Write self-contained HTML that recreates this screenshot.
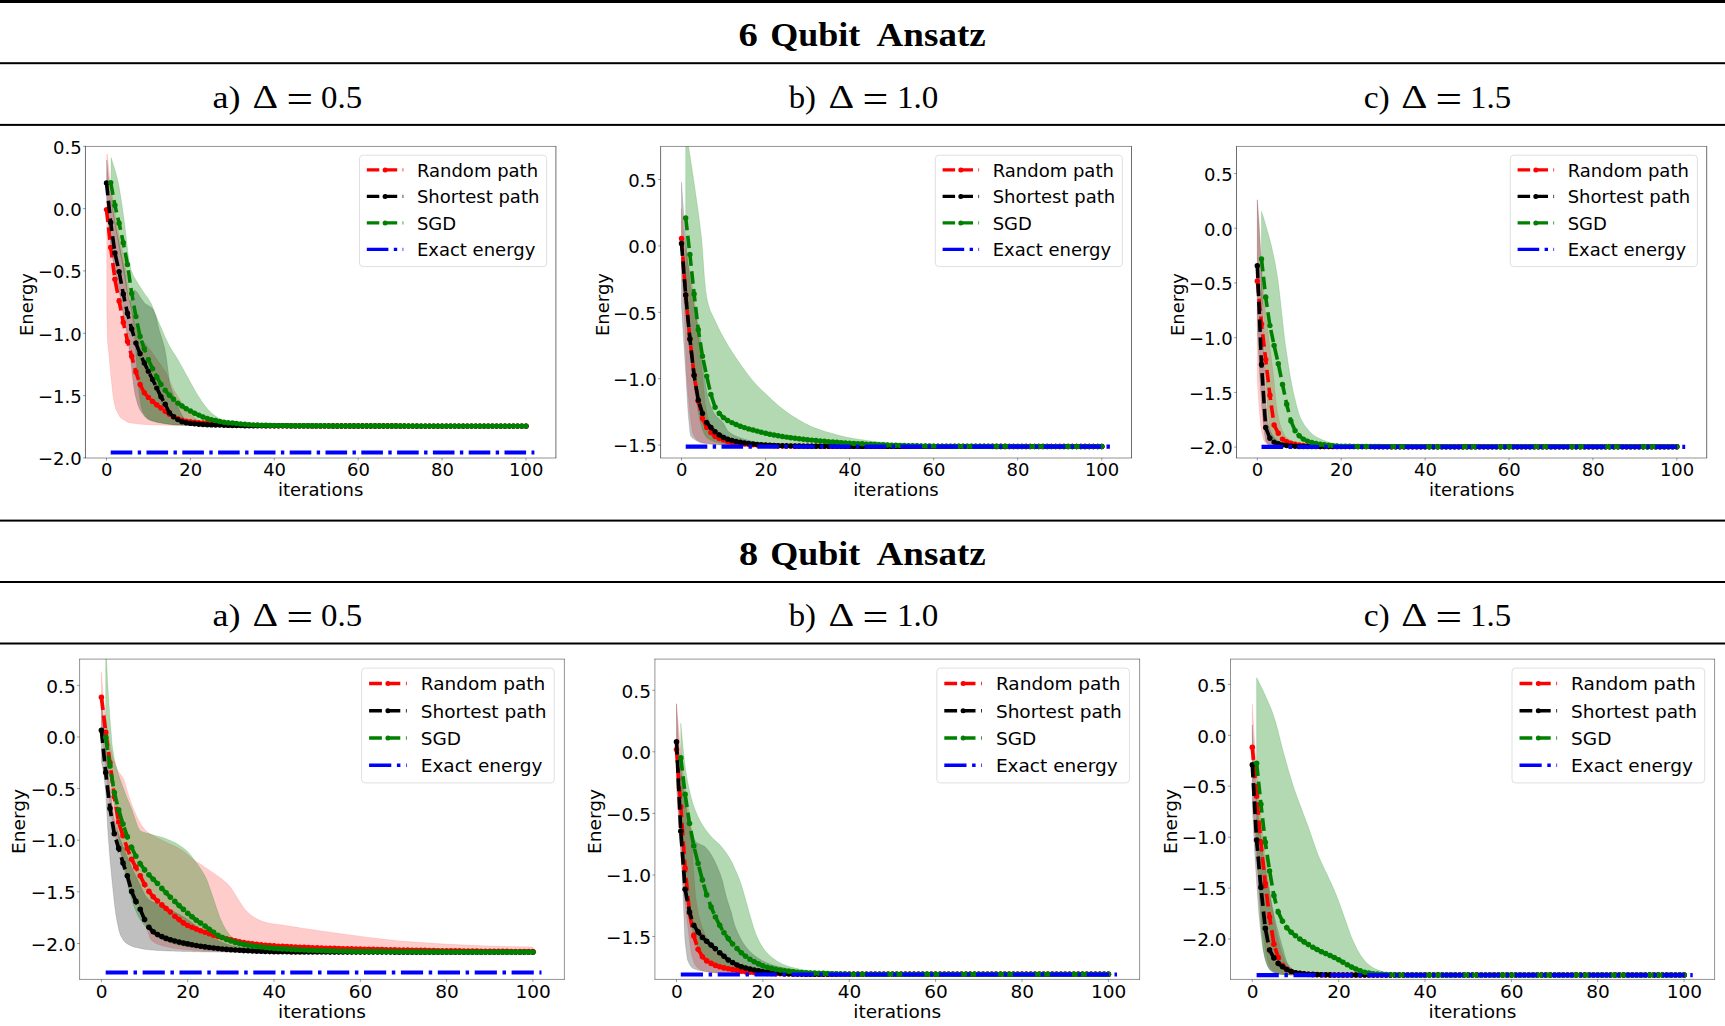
<!DOCTYPE html><html><head><meta charset="utf-8"><title>Qubit Ansatz energy convergence</title>
<style>html,body{margin:0;padding:0;background:#fff}svg{display:block}text{font-family:"DejaVu Sans","Liberation Sans",sans-serif;fill:#000}.s{font-family:"Liberation Serif","DejaVu Serif",serif}</style></head><body>
<svg width="1725" height="1026" viewBox="0 0 1725 1026">
<rect width="1725" height="1026" fill="#fff"/>
<rect x="0" y="0" width="1725" height="3" fill="#000"/>
<rect x="0" y="62.20" width="1725" height="2.0" fill="#000"/>
<rect x="0" y="123.90" width="1725" height="2.0" fill="#000"/>
<rect x="0" y="519.60" width="1725" height="2.0" fill="#000"/>
<rect x="0" y="581.00" width="1725" height="2.0" fill="#000"/>
<rect x="0" y="642.50" width="1725" height="2.0" fill="#000"/>
<text class="s" y="45.9" font-size="32.7" font-weight="bold" xml:space="preserve"><tspan x="738.6" textLength="19.3" lengthAdjust="spacingAndGlyphs">6</tspan> <tspan x="770.2" textLength="90.1" lengthAdjust="spacingAndGlyphs">Qubit</tspan> <tspan x="876.6" textLength="109.1" lengthAdjust="spacingAndGlyphs">Ansatz</tspan></text>
<text class="s" y="564.7" font-size="32.7" font-weight="bold" xml:space="preserve"><tspan x="738.9" textLength="19.1" lengthAdjust="spacingAndGlyphs">8</tspan> <tspan x="770.2" textLength="90.1" lengthAdjust="spacingAndGlyphs">Qubit</tspan> <tspan x="876.6" textLength="109.1" lengthAdjust="spacingAndGlyphs">Ansatz</tspan></text>
<text class="s" y="107.5" font-size="32.0" xml:space="preserve"><tspan x="212.5" y="107.5" font-size="32.0" textLength="28.0" lengthAdjust="spacingAndGlyphs">a)</tspan> <tspan x="252.5" y="107.5" font-size="33.0" textLength="25.6" lengthAdjust="spacingAndGlyphs">Δ</tspan> <tspan x="286.4" y="111.5" font-size="37.0" textLength="26.6" lengthAdjust="spacingAndGlyphs">=</tspan> <tspan x="321.0" y="107.5" font-size="32.0" textLength="41.1" lengthAdjust="spacingAndGlyphs">0.5</tspan></text>
<text class="s" y="107.5" font-size="32.0" xml:space="preserve"><tspan x="788.7" y="107.5" font-size="32.0" textLength="27.3" lengthAdjust="spacingAndGlyphs">b)</tspan> <tspan x="828.4" y="107.5" font-size="33.0" textLength="25.7" lengthAdjust="spacingAndGlyphs">Δ</tspan> <tspan x="862.5" y="111.5" font-size="37.0" textLength="25.8" lengthAdjust="spacingAndGlyphs">=</tspan> <tspan x="897.0" y="107.5" font-size="32.0" textLength="41.4" lengthAdjust="spacingAndGlyphs">1.0</tspan></text>
<text class="s" y="107.5" font-size="32.0" xml:space="preserve"><tspan x="1363.7" y="107.5" font-size="32.0" textLength="26.1" lengthAdjust="spacingAndGlyphs">c)</tspan> <tspan x="1401.2" y="107.5" font-size="33.0" textLength="26.2" lengthAdjust="spacingAndGlyphs">Δ</tspan> <tspan x="1435.6" y="111.5" font-size="37.0" textLength="26.6" lengthAdjust="spacingAndGlyphs">=</tspan> <tspan x="1470.1" y="107.5" font-size="32.0" textLength="41.1" lengthAdjust="spacingAndGlyphs">1.5</tspan></text>
<text class="s" y="625.8" font-size="32.0" xml:space="preserve"><tspan x="212.5" y="625.8" font-size="32.0" textLength="28.0" lengthAdjust="spacingAndGlyphs">a)</tspan> <tspan x="252.5" y="625.8" font-size="33.0" textLength="25.6" lengthAdjust="spacingAndGlyphs">Δ</tspan> <tspan x="286.4" y="629.8" font-size="37.0" textLength="26.6" lengthAdjust="spacingAndGlyphs">=</tspan> <tspan x="321.0" y="625.8" font-size="32.0" textLength="41.1" lengthAdjust="spacingAndGlyphs">0.5</tspan></text>
<text class="s" y="625.8" font-size="32.0" xml:space="preserve"><tspan x="788.7" y="625.8" font-size="32.0" textLength="27.3" lengthAdjust="spacingAndGlyphs">b)</tspan> <tspan x="828.4" y="625.8" font-size="33.0" textLength="25.7" lengthAdjust="spacingAndGlyphs">Δ</tspan> <tspan x="862.5" y="629.8" font-size="37.0" textLength="25.8" lengthAdjust="spacingAndGlyphs">=</tspan> <tspan x="897.0" y="625.8" font-size="32.0" textLength="41.4" lengthAdjust="spacingAndGlyphs">1.0</tspan></text>
<text class="s" y="625.8" font-size="32.0" xml:space="preserve"><tspan x="1363.7" y="625.8" font-size="32.0" textLength="26.1" lengthAdjust="spacingAndGlyphs">c)</tspan> <tspan x="1401.2" y="625.8" font-size="33.0" textLength="26.2" lengthAdjust="spacingAndGlyphs">Δ</tspan> <tspan x="1435.6" y="629.8" font-size="37.0" textLength="26.6" lengthAdjust="spacingAndGlyphs">=</tspan> <tspan x="1470.1" y="625.8" font-size="32.0" textLength="41.1" lengthAdjust="spacingAndGlyphs">1.5</tspan></text>
<clipPath id="clip0"><rect x="85.5" y="146.4" width="470.4" height="311.6"/></clipPath>
<g clip-path="url(#clip0)">
<path d="M107.2 153.8 L107.8 159.5 L108.4 165.3 L109.0 171.0 L109.7 176.7 L110.5 182.5 L110.6 183.4 L111.2 188.2 L112.0 193.9 L112.9 199.6 L113.7 205.3 L114.7 211.0 L115.6 216.7 L116.6 222.4 L116.8 224.0 L117.6 228.1 L118.7 233.7 L119.9 239.4 L121.1 245.0 L122.3 250.7 L123.5 256.3 L124.6 262.0 L125.7 267.7 L126.2 270.7 L126.6 273.3 L127.4 279.1 L128.2 284.8 L128.9 290.5 L129.7 296.2 L130.5 301.9 L130.5 301.9 L131.5 307.6 L132.6 313.3 L133.8 319.0 L134.8 323.1 L135.1 324.6 L136.6 330.3 L138.6 335.8 L139.7 338.0 L141.7 340.3 L144.7 343.0 L145.9 344.4 L149.5 348.9 L151.3 351.3 L152.9 353.5 L156.2 358.2 L157.1 359.6 L159.5 363.0 L162.8 367.8 L165.9 372.6 L167.9 376.1 L168.6 377.7 L170.8 383.0 L172.8 387.7 L173.1 388.3 L175.9 393.3 L179.0 398.3 L182.3 403.0 L184.4 405.9 L185.7 407.7 L189.3 412.3 L193.2 416.5 L194.4 417.5 L197.8 420.1 L202.7 422.5 L202.9 422.6 L208.5 423.6 L214.3 424.3 L219.2 424.5 L220.2 424.5 L225.9 424.6 L231.7 424.6 L237.4 424.7 L243.2 424.8 L249.0 424.8 L254.7 424.8 L260.5 424.8 L266.3 424.9 L272.1 424.9 L277.8 424.9 L283.6 424.9 L289.4 425.0 L295.2 425.0 L300.0 425.0 L300.9 425.0 L306.7 425.0 L312.5 425.1 L318.3 425.1 L324.0 425.1 L329.8 425.2 L335.6 425.2 L341.3 425.2 L347.1 425.2 L352.9 425.3 L358.7 425.3 L364.4 425.3 L370.2 425.4 L376.0 425.4 L381.7 425.4 L387.5 425.4 L393.3 425.5 L399.0 425.5 L404.8 425.5 L410.6 425.6 L416.4 425.6 L422.1 425.6 L427.9 425.6 L433.7 425.7 L439.4 425.7 L445.2 425.7 L451.0 425.7 L456.8 425.7 L462.5 425.8 L468.3 425.8 L474.1 425.8 L479.8 425.8 L485.6 425.9 L491.4 425.9 L497.1 425.9 L502.9 425.9 L508.7 425.9 L514.5 426.0 L520.2 426.0 L526.0 426.0 L526.0 427.0 L516.5 427.0 L507.1 427.0 L497.6 427.0 L488.2 427.0 L478.7 427.0 L469.3 427.0 L459.8 426.9 L450.4 426.9 L440.9 426.9 L431.5 426.9 L422.0 426.9 L412.6 426.8 L403.1 426.8 L393.7 426.8 L384.2 426.8 L374.8 426.7 L365.3 426.7 L355.9 426.7 L346.4 426.7 L337.0 426.6 L327.5 426.6 L318.1 426.6 L308.6 426.5 L300.0 426.5 L299.2 426.5 L289.7 426.5 L280.3 426.4 L270.8 426.4 L261.4 426.3 L251.9 426.3 L242.5 426.2 L233.0 426.1 L223.6 426.0 L214.1 425.9 L204.7 425.8 L195.2 425.7 L185.8 425.6 L177.8 425.5 L176.3 425.5 L166.9 425.3 L157.4 425.0 L148.0 424.7 L144.7 424.5 L138.4 424.1 L129.1 422.7 L128.1 422.5 L120.9 417.9 L119.8 416.7 L116.1 410.0 L114.9 405.9 L113.8 400.8 L112.5 391.4 L111.6 382.8 L111.5 382.0 L110.5 372.6 L109.7 363.2 L109.1 356.3 L108.8 353.7 L107.7 344.3 L107.4 339.7 L107.3 334.9 L107.1 325.5 L106.9 316.0 L106.8 306.6 L106.8 305.0 L106.8 297.1 L106.8 287.7 L106.8 278.2 L106.8 268.8 L106.8 259.3 L106.8 249.9 L106.8 240.4 L106.8 231.0 L106.8 221.5 L106.8 212.1 L106.8 202.6 L106.8 193.2 L106.8 183.7 L106.8 174.3 L106.8 164.8 L106.8 155.4Z" fill="#ff0000" fill-opacity="0.20" stroke="#ff0000" stroke-opacity="0.20" stroke-width="0.5"/>
<path d="M106.8 160.0 L107.3 166.0 L107.8 172.0 L108.4 178.0 L109.0 183.4 L109.1 183.9 L109.8 189.9 L110.6 195.8 L111.5 201.7 L112.5 207.6 L113.5 213.6 L114.5 219.5 L115.3 224.0 L115.5 225.4 L116.6 231.3 L117.8 237.1 L119.0 243.0 L120.2 248.9 L121.4 254.8 L122.6 260.6 L123.8 266.5 L124.6 270.7 L124.9 272.5 L125.9 279.7 L126.8 287.5 L127.7 294.7 L128.8 299.9 L130.1 301.9 L130.1 301.9 L132.0 296.5 L134.4 290.1 L134.8 290.0 L137.4 292.4 L141.1 298.4 L144.7 303.3 L145.2 303.7 L150.6 307.0 L153.0 309.0 L154.0 311.0 L156.0 316.3 L157.4 322.4 L158.8 328.7 L159.6 331.4 L160.6 334.5 L162.4 340.2 L164.1 345.9 L164.6 348.0 L165.3 351.8 L166.3 357.7 L167.1 363.6 L167.9 369.5 L167.9 369.6 L168.6 375.6 L169.3 381.5 L169.5 382.8 L170.8 387.3 L172.8 392.7 L172.9 392.9 L174.9 398.6 L177.0 404.3 L179.3 409.8 L181.1 413.4 L182.1 415.2 L185.5 420.8 L187.8 422.5 L189.9 423.1 L195.9 424.1 L202.3 424.5 L202.7 424.5 L208.2 424.6 L214.2 424.6 L220.2 424.7 L226.2 424.7 L232.2 424.8 L238.2 424.8 L244.2 424.8 L250.2 424.8 L256.2 424.9 L262.2 424.9 L268.2 424.9 L274.2 424.9 L280.2 424.9 L286.2 424.9 L292.2 425.0 L298.2 425.0 L300.0 425.0 L304.2 425.0 L310.2 425.0 L316.2 425.1 L322.2 425.1 L328.2 425.1 L334.2 425.2 L340.2 425.2 L346.1 425.2 L352.1 425.2 L358.1 425.3 L364.1 425.3 L370.1 425.3 L376.1 425.4 L382.1 425.4 L388.1 425.4 L394.1 425.4 L400.1 425.5 L406.1 425.5 L412.1 425.5 L418.1 425.5 L424.1 425.6 L430.1 425.6 L436.1 425.6 L442.1 425.7 L448.1 425.7 L454.1 425.7 L460.1 425.7 L466.0 425.8 L472.0 425.8 L478.0 425.8 L484.0 425.8 L490.0 425.8 L496.0 425.9 L502.0 425.9 L508.0 425.9 L514.0 425.9 L520.0 426.0 L526.0 426.0 L526.0 427.0 L518.6 427.0 L511.3 427.0 L503.9 427.0 L496.6 427.0 L489.2 427.0 L481.8 427.0 L474.5 427.0 L467.1 427.0 L459.7 426.9 L452.4 426.9 L445.0 426.9 L437.7 426.9 L430.3 426.9 L422.9 426.9 L415.6 426.9 L408.2 426.8 L400.9 426.8 L393.5 426.8 L386.1 426.8 L378.8 426.8 L371.4 426.7 L364.0 426.7 L356.7 426.7 L349.3 426.7 L342.0 426.7 L334.6 426.6 L327.2 426.6 L319.9 426.6 L312.5 426.5 L305.2 426.5 L300.0 426.5 L297.8 426.5 L290.4 426.5 L283.1 426.4 L275.7 426.4 L268.3 426.4 L261.0 426.3 L253.6 426.2 L246.2 426.2 L238.8 426.1 L231.5 426.0 L224.1 425.9 L216.7 425.8 L209.4 425.7 L202.0 425.6 L194.7 425.4 L187.3 425.2 L180.0 425.1 L177.8 425.0 L172.7 424.7 L165.3 423.7 L161.3 423.0 L158.0 422.4 L150.7 420.4 L148.0 419.2 L144.9 416.8 L140.4 410.5 L139.7 409.3 L137.6 403.9 L135.6 396.6 L134.8 392.7 L134.2 389.4 L133.2 382.2 L132.3 374.8 L131.6 367.5 L130.7 360.1 L130.6 359.6 L129.7 352.9 L128.7 345.6 L127.6 338.3 L126.5 331.4 L126.4 331.0 L125.1 323.8 L123.7 316.5 L122.3 309.3 L121.5 305.0 L121.0 302.1 L119.8 294.8 L118.6 287.5 L118.4 286.3 L117.2 280.3 L115.7 273.1 L114.1 265.9 L112.7 258.7 L112.1 255.1 L111.6 251.4 L110.5 244.1 L109.6 236.8 L108.7 229.5 L108.3 224.0 L108.1 222.2 L107.6 214.8 L107.1 207.5 L106.8 200.1 L106.5 192.8Z" fill="#000000" fill-opacity="0.25" stroke="#000000" stroke-opacity="0.25" stroke-width="0.5"/>
<path d="M111.1 157.7 L112.7 162.7 L114.3 167.8 L115.8 172.8 L117.1 177.9 L118.3 183.0 L118.4 183.4 L119.3 188.2 L120.2 193.4 L121.0 198.6 L121.8 203.8 L122.6 209.0 L123.3 214.3 L124.0 219.5 L124.6 224.0 L124.7 224.7 L125.4 230.0 L126.0 235.3 L126.6 240.7 L127.2 246.0 L127.8 251.3 L128.5 256.5 L129.3 261.7 L130.3 266.7 L130.9 269.2 L131.6 271.6 L133.7 276.3 L136.4 280.9 L139.3 285.5 L141.8 289.4 L142.1 290.0 L145.1 294.4 L148.3 298.7 L151.0 303.2 L151.9 305.0 L152.9 308.0 L153.0 308.2 L154.8 313.0 L156.8 317.8 L158.9 322.7 L161.0 327.5 L161.3 328.1 L163.1 332.4 L165.2 337.2 L167.4 342.0 L169.5 346.3 L169.8 346.7 L172.5 351.2 L175.4 355.6 L177.8 359.6 L178.1 360.1 L180.7 364.7 L183.3 369.3 L185.8 374.0 L186.1 374.5 L188.4 378.6 L190.9 383.2 L193.5 387.8 L194.4 389.4 L196.1 392.4 L198.9 396.9 L201.7 401.3 L202.7 402.6 L204.8 405.6 L208.2 409.7 L210.9 412.6 L211.9 413.4 L216.1 416.6 L219.2 418.4 L220.7 419.1 L225.7 421.2 L227.5 421.7 L230.7 422.3 L236.0 423.1 L241.3 423.7 L244.1 423.8 L246.5 423.9 L251.8 424.1 L257.0 424.3 L262.3 424.4 L267.6 424.6 L272.8 424.7 L278.1 424.8 L283.4 424.8 L288.7 424.9 L294.0 424.9 L299.2 425.0 L300.0 425.0 L304.5 425.0 L309.8 425.1 L315.1 425.1 L320.3 425.2 L325.6 425.2 L330.9 425.2 L336.2 425.3 L341.4 425.3 L346.7 425.4 L352.0 425.4 L357.2 425.4 L362.5 425.5 L367.8 425.5 L373.1 425.5 L378.3 425.6 L383.6 425.6 L388.9 425.6 L394.2 425.6 L399.4 425.7 L404.7 425.7 L410.0 425.7 L415.3 425.7 L420.5 425.8 L425.8 425.8 L431.1 425.8 L436.3 425.8 L441.6 425.8 L446.9 425.9 L452.2 425.9 L457.4 425.9 L462.7 425.9 L468.0 425.9 L473.3 425.9 L478.5 425.9 L483.8 426.0 L489.1 426.0 L494.4 426.0 L499.6 426.0 L504.9 426.0 L510.2 426.0 L515.5 426.0 L520.7 426.0 L526.0 426.0 L526.0 427.0 L519.2 427.0 L512.4 427.0 L505.6 427.0 L498.8 427.0 L492.0 427.0 L485.2 427.0 L478.4 427.0 L471.7 427.0 L464.9 427.0 L458.1 426.9 L451.3 426.9 L444.5 426.9 L437.7 426.9 L430.9 426.9 L424.1 426.9 L417.3 426.9 L410.5 426.9 L403.7 426.8 L396.9 426.8 L390.1 426.8 L383.3 426.8 L376.6 426.8 L369.8 426.7 L363.0 426.7 L356.2 426.7 L349.4 426.7 L342.6 426.7 L335.8 426.6 L329.0 426.6 L322.2 426.6 L315.4 426.6 L308.6 426.5 L301.8 426.5 L300.0 426.5 L295.0 426.5 L288.2 426.5 L281.4 426.4 L274.6 426.4 L267.8 426.3 L261.0 426.3 L254.2 426.3 L247.4 426.2 L240.6 426.1 L233.8 426.1 L227.0 426.0 L220.2 425.9 L213.4 425.8 L206.7 425.7 L199.9 425.5 L193.1 425.4 L186.3 425.2 L179.6 425.0 L177.8 425.0 L172.8 424.7 L166.0 423.8 L161.3 423.0 L159.3 422.7 L152.5 421.1 L149.7 420.0 L146.9 418.0 L143.0 412.6 L142.9 412.2 L141.1 405.9 L139.9 399.0 L139.7 397.7 L139.0 392.2 L138.3 385.5 L137.7 378.7 L137.2 372.8 L137.2 371.9 L136.6 365.1 L136.1 358.4 L135.7 351.6 L135.2 344.8 L134.8 339.7 L134.6 338.0 L134.0 331.3 L133.4 324.5 L132.6 317.8 L132.3 314.8 L131.6 311.1 L130.2 304.4 L128.5 297.8 L127.0 291.2 L127.0 291.0 L125.7 284.5 L124.6 277.8 L123.4 271.1 L122.3 264.5 L122.3 264.4 L121.1 257.7 L119.9 251.1 L118.7 244.4 L118.4 242.7 L117.5 237.7 L116.3 231.0 L115.1 224.3 L114.5 220.8 L114.0 217.6 L112.9 210.9 L112.0 204.2 L111.1 197.4Z" fill="#008000" fill-opacity="0.30" stroke="#008000" stroke-opacity="0.30" stroke-width="0.5"/>
<path d="M106.5 209.6 L110.7 247.4 L114.9 279.3 L119.1 301.1 L123.3 322.4 L127.5 341.4 L131.7 356.3 L135.9 372.0 L140.1 384.5 L144.3 392.8 L148.4 397.4 L152.6 401.4 L156.8 404.9 L161.0 408.0 L165.2 411.3 L169.4 414.3 L173.6 416.8 L177.8 418.7 L182.0 420.1 L186.2 421.1 L190.4 421.8 L194.6 422.2 L198.8 422.7 L203.0 423.0 L207.2 423.3 L211.4 423.6 L215.6 423.9 L219.8 424.2 L224.0 424.5 L228.2 424.7 L232.4 424.9 L236.5 425.0 L240.7 425.1 L244.9 425.3 L249.1 425.4 L253.3 425.5 L257.5 425.5 L261.7 425.6 L265.9 425.7 L270.1 425.7 L274.3 425.7 L278.5 425.8 L282.7 425.8 L286.9 425.8 L291.1 425.8 L295.3 425.8 L299.5 425.8 L303.7 425.8 L307.9 425.8 L312.1 425.9 L316.2 425.9 L320.4 425.9 L324.6 425.9 L328.8 425.9 L333.0 425.9 L337.2 425.9 L341.4 425.9 L345.6 425.9 L349.8 426.0 L354.0 426.0 L358.2 426.0 L362.4 426.0 L366.6 426.0 L370.8 426.0 L375.0 426.0 L379.2 426.0 L383.4 426.0 L387.6 426.0 L391.8 426.0 L396.0 426.0 L400.2 426.0 L404.3 426.0 L408.5 426.1 L412.7 426.1 L416.9 426.1 L421.1 426.1 L425.3 426.1 L429.5 426.1 L433.7 426.1 L437.9 426.1 L442.1 426.1 L446.3 426.1 L450.5 426.1 L454.7 426.1 L458.9 426.1 L463.1 426.1 L467.3 426.1 L471.5 426.1 L475.7 426.1 L479.9 426.1 L484.1 426.1 L488.2 426.1 L492.4 426.1 L496.6 426.1 L500.8 426.1 L505.0 426.1 L509.2 426.1 L513.4 426.1 L517.6 426.1 L521.8 426.1 L526.0 426.1" fill="none" stroke="#ff0000" stroke-width="3.6" stroke-dasharray="12.5 5.4"/>
<g fill="#ff0000"><circle cx="106.5" cy="209.6" r="2.70"/><circle cx="110.7" cy="247.4" r="2.70"/><circle cx="114.9" cy="279.3" r="2.70"/><circle cx="119.1" cy="301.1" r="2.70"/><circle cx="123.3" cy="322.4" r="2.70"/><circle cx="127.5" cy="341.4" r="2.70"/><circle cx="131.7" cy="356.3" r="2.70"/><circle cx="135.9" cy="372.0" r="2.70"/><circle cx="140.1" cy="384.5" r="2.70"/><circle cx="144.3" cy="392.8" r="2.70"/><circle cx="148.4" cy="397.4" r="2.70"/><circle cx="152.6" cy="401.4" r="2.70"/><circle cx="156.8" cy="404.9" r="2.70"/><circle cx="161.0" cy="408.0" r="2.70"/><circle cx="165.2" cy="411.3" r="2.70"/><circle cx="169.4" cy="414.3" r="2.70"/><circle cx="173.6" cy="416.8" r="2.70"/><circle cx="177.8" cy="418.7" r="2.70"/><circle cx="182.0" cy="420.1" r="2.70"/><circle cx="186.2" cy="421.1" r="2.70"/><circle cx="190.4" cy="421.8" r="2.70"/><circle cx="194.6" cy="422.2" r="2.70"/><circle cx="198.8" cy="422.7" r="2.70"/><circle cx="203.0" cy="423.0" r="2.70"/><circle cx="207.2" cy="423.3" r="2.70"/><circle cx="211.4" cy="423.6" r="2.70"/><circle cx="215.6" cy="423.9" r="2.70"/><circle cx="219.8" cy="424.2" r="2.70"/><circle cx="224.0" cy="424.5" r="2.70"/><circle cx="228.2" cy="424.7" r="2.70"/><circle cx="232.4" cy="424.9" r="2.70"/><circle cx="236.5" cy="425.0" r="2.70"/><circle cx="240.7" cy="425.1" r="2.70"/><circle cx="244.9" cy="425.3" r="2.70"/><circle cx="249.1" cy="425.4" r="2.70"/><circle cx="253.3" cy="425.5" r="2.70"/><circle cx="257.5" cy="425.5" r="2.70"/><circle cx="261.7" cy="425.6" r="2.70"/><circle cx="265.9" cy="425.7" r="2.70"/><circle cx="270.1" cy="425.7" r="2.70"/><circle cx="274.3" cy="425.7" r="2.70"/><circle cx="278.5" cy="425.8" r="2.70"/><circle cx="282.7" cy="425.8" r="2.70"/><circle cx="286.9" cy="425.8" r="2.70"/><circle cx="291.1" cy="425.8" r="2.70"/><circle cx="295.3" cy="425.8" r="2.70"/><circle cx="299.5" cy="425.8" r="2.70"/><circle cx="303.7" cy="425.8" r="2.70"/><circle cx="307.9" cy="425.8" r="2.70"/><circle cx="312.1" cy="425.9" r="2.70"/><circle cx="316.2" cy="425.9" r="2.70"/><circle cx="320.4" cy="425.9" r="2.70"/><circle cx="324.6" cy="425.9" r="2.70"/><circle cx="328.8" cy="425.9" r="2.70"/><circle cx="333.0" cy="425.9" r="2.70"/><circle cx="337.2" cy="425.9" r="2.70"/><circle cx="341.4" cy="425.9" r="2.70"/><circle cx="345.6" cy="425.9" r="2.70"/><circle cx="349.8" cy="426.0" r="2.70"/><circle cx="354.0" cy="426.0" r="2.70"/><circle cx="358.2" cy="426.0" r="2.70"/><circle cx="362.4" cy="426.0" r="2.70"/><circle cx="366.6" cy="426.0" r="2.70"/><circle cx="370.8" cy="426.0" r="2.70"/><circle cx="375.0" cy="426.0" r="2.70"/><circle cx="379.2" cy="426.0" r="2.70"/><circle cx="383.4" cy="426.0" r="2.70"/><circle cx="387.6" cy="426.0" r="2.70"/><circle cx="391.8" cy="426.0" r="2.70"/><circle cx="396.0" cy="426.0" r="2.70"/><circle cx="400.2" cy="426.0" r="2.70"/><circle cx="404.3" cy="426.0" r="2.70"/><circle cx="408.5" cy="426.1" r="2.70"/><circle cx="412.7" cy="426.1" r="2.70"/><circle cx="416.9" cy="426.1" r="2.70"/><circle cx="421.1" cy="426.1" r="2.70"/><circle cx="425.3" cy="426.1" r="2.70"/><circle cx="429.5" cy="426.1" r="2.70"/><circle cx="433.7" cy="426.1" r="2.70"/><circle cx="437.9" cy="426.1" r="2.70"/><circle cx="442.1" cy="426.1" r="2.70"/><circle cx="446.3" cy="426.1" r="2.70"/><circle cx="450.5" cy="426.1" r="2.70"/><circle cx="454.7" cy="426.1" r="2.70"/><circle cx="458.9" cy="426.1" r="2.70"/><circle cx="463.1" cy="426.1" r="2.70"/><circle cx="467.3" cy="426.1" r="2.70"/><circle cx="471.5" cy="426.1" r="2.70"/><circle cx="475.7" cy="426.1" r="2.70"/><circle cx="479.9" cy="426.1" r="2.70"/><circle cx="484.1" cy="426.1" r="2.70"/><circle cx="488.2" cy="426.1" r="2.70"/><circle cx="492.4" cy="426.1" r="2.70"/><circle cx="496.6" cy="426.1" r="2.70"/><circle cx="500.8" cy="426.1" r="2.70"/><circle cx="505.0" cy="426.1" r="2.70"/><circle cx="509.2" cy="426.1" r="2.70"/><circle cx="513.4" cy="426.1" r="2.70"/><circle cx="517.6" cy="426.1" r="2.70"/><circle cx="521.8" cy="426.1" r="2.70"/><circle cx="526.0" cy="426.1" r="2.70"/></g>
<path d="M106.5 182.9 L110.7 222.5 L114.9 252.9 L119.1 271.6 L123.3 294.0 L127.5 313.3 L131.7 328.9 L135.9 343.1 L140.1 353.8 L144.3 362.9 L148.4 371.3 L152.6 379.5 L156.8 388.1 L161.0 396.8 L165.2 404.3 L169.4 412.7 L173.6 416.8 L177.8 419.6 L182.0 421.8 L186.2 422.8 L190.4 423.4 L194.6 423.8 L198.8 424.2 L203.0 424.5 L207.2 424.7 L211.4 424.9 L215.6 425.0 L219.8 425.1 L224.0 425.3 L228.2 425.4 L232.4 425.5 L236.5 425.6 L240.7 425.6 L244.9 425.7 L249.1 425.7 L253.3 425.7 L257.5 425.8 L261.7 425.8 L265.9 425.8 L270.1 425.8 L274.3 425.8 L278.5 425.8 L282.7 425.8 L286.9 425.8 L291.1 425.9 L295.3 425.9 L299.5 425.9 L303.7 425.9 L307.9 425.9 L312.1 425.9 L316.2 425.9 L320.4 425.9 L324.6 425.9 L328.8 425.9 L333.0 426.0 L337.2 426.0 L341.4 426.0 L345.6 426.0 L349.8 426.0 L354.0 426.0 L358.2 426.0 L362.4 426.0 L366.6 426.0 L370.8 426.0 L375.0 426.0 L379.2 426.0 L383.4 426.0 L387.6 426.0 L391.8 426.0 L396.0 426.0 L400.2 426.1 L404.3 426.1 L408.5 426.1 L412.7 426.1 L416.9 426.1 L421.1 426.1 L425.3 426.1 L429.5 426.1 L433.7 426.1 L437.9 426.1 L442.1 426.1 L446.3 426.1 L450.5 426.1 L454.7 426.1 L458.9 426.1 L463.1 426.1 L467.3 426.1 L471.5 426.1 L475.7 426.1 L479.9 426.1 L484.1 426.1 L488.2 426.1 L492.4 426.1 L496.6 426.1 L500.8 426.1 L505.0 426.1 L509.2 426.1 L513.4 426.1 L517.6 426.1 L521.8 426.1 L526.0 426.1" fill="none" stroke="#000000" stroke-width="3.6" stroke-dasharray="12.5 5.4"/>
<g fill="#000000"><circle cx="106.5" cy="182.9" r="2.70"/><circle cx="110.7" cy="222.5" r="2.70"/><circle cx="114.9" cy="252.9" r="2.70"/><circle cx="119.1" cy="271.6" r="2.70"/><circle cx="123.3" cy="294.0" r="2.70"/><circle cx="127.5" cy="313.3" r="2.70"/><circle cx="131.7" cy="328.9" r="2.70"/><circle cx="135.9" cy="343.1" r="2.70"/><circle cx="140.1" cy="353.8" r="2.70"/><circle cx="144.3" cy="362.9" r="2.70"/><circle cx="148.4" cy="371.3" r="2.70"/><circle cx="152.6" cy="379.5" r="2.70"/><circle cx="156.8" cy="388.1" r="2.70"/><circle cx="161.0" cy="396.8" r="2.70"/><circle cx="165.2" cy="404.3" r="2.70"/><circle cx="169.4" cy="412.7" r="2.70"/><circle cx="173.6" cy="416.8" r="2.70"/><circle cx="177.8" cy="419.6" r="2.70"/><circle cx="182.0" cy="421.8" r="2.70"/><circle cx="186.2" cy="422.8" r="2.70"/><circle cx="190.4" cy="423.4" r="2.70"/><circle cx="194.6" cy="423.8" r="2.70"/><circle cx="198.8" cy="424.2" r="2.70"/><circle cx="203.0" cy="424.5" r="2.70"/><circle cx="207.2" cy="424.7" r="2.70"/><circle cx="211.4" cy="424.9" r="2.70"/><circle cx="215.6" cy="425.0" r="2.70"/><circle cx="219.8" cy="425.1" r="2.70"/><circle cx="224.0" cy="425.3" r="2.70"/><circle cx="228.2" cy="425.4" r="2.70"/><circle cx="232.4" cy="425.5" r="2.70"/><circle cx="236.5" cy="425.6" r="2.70"/><circle cx="240.7" cy="425.6" r="2.70"/><circle cx="244.9" cy="425.7" r="2.70"/><circle cx="249.1" cy="425.7" r="2.70"/><circle cx="253.3" cy="425.7" r="2.70"/><circle cx="257.5" cy="425.8" r="2.70"/><circle cx="261.7" cy="425.8" r="2.70"/><circle cx="265.9" cy="425.8" r="2.70"/><circle cx="270.1" cy="425.8" r="2.70"/><circle cx="274.3" cy="425.8" r="2.70"/><circle cx="278.5" cy="425.8" r="2.70"/><circle cx="282.7" cy="425.8" r="2.70"/><circle cx="286.9" cy="425.8" r="2.70"/><circle cx="291.1" cy="425.9" r="2.70"/><circle cx="295.3" cy="425.9" r="2.70"/><circle cx="299.5" cy="425.9" r="2.70"/><circle cx="303.7" cy="425.9" r="2.70"/><circle cx="307.9" cy="425.9" r="2.70"/><circle cx="312.1" cy="425.9" r="2.70"/><circle cx="316.2" cy="425.9" r="2.70"/><circle cx="320.4" cy="425.9" r="2.70"/><circle cx="324.6" cy="425.9" r="2.70"/><circle cx="328.8" cy="425.9" r="2.70"/><circle cx="333.0" cy="426.0" r="2.70"/><circle cx="337.2" cy="426.0" r="2.70"/><circle cx="341.4" cy="426.0" r="2.70"/><circle cx="345.6" cy="426.0" r="2.70"/><circle cx="349.8" cy="426.0" r="2.70"/><circle cx="354.0" cy="426.0" r="2.70"/><circle cx="358.2" cy="426.0" r="2.70"/><circle cx="362.4" cy="426.0" r="2.70"/><circle cx="366.6" cy="426.0" r="2.70"/><circle cx="370.8" cy="426.0" r="2.70"/><circle cx="375.0" cy="426.0" r="2.70"/><circle cx="379.2" cy="426.0" r="2.70"/><circle cx="383.4" cy="426.0" r="2.70"/><circle cx="387.6" cy="426.0" r="2.70"/><circle cx="391.8" cy="426.0" r="2.70"/><circle cx="396.0" cy="426.0" r="2.70"/><circle cx="400.2" cy="426.1" r="2.70"/><circle cx="404.3" cy="426.1" r="2.70"/><circle cx="408.5" cy="426.1" r="2.70"/><circle cx="412.7" cy="426.1" r="2.70"/><circle cx="416.9" cy="426.1" r="2.70"/><circle cx="421.1" cy="426.1" r="2.70"/><circle cx="425.3" cy="426.1" r="2.70"/><circle cx="429.5" cy="426.1" r="2.70"/><circle cx="433.7" cy="426.1" r="2.70"/><circle cx="437.9" cy="426.1" r="2.70"/><circle cx="442.1" cy="426.1" r="2.70"/><circle cx="446.3" cy="426.1" r="2.70"/><circle cx="450.5" cy="426.1" r="2.70"/><circle cx="454.7" cy="426.1" r="2.70"/><circle cx="458.9" cy="426.1" r="2.70"/><circle cx="463.1" cy="426.1" r="2.70"/><circle cx="467.3" cy="426.1" r="2.70"/><circle cx="471.5" cy="426.1" r="2.70"/><circle cx="475.7" cy="426.1" r="2.70"/><circle cx="479.9" cy="426.1" r="2.70"/><circle cx="484.1" cy="426.1" r="2.70"/><circle cx="488.2" cy="426.1" r="2.70"/><circle cx="492.4" cy="426.1" r="2.70"/><circle cx="496.6" cy="426.1" r="2.70"/><circle cx="500.8" cy="426.1" r="2.70"/><circle cx="505.0" cy="426.1" r="2.70"/><circle cx="509.2" cy="426.1" r="2.70"/><circle cx="513.4" cy="426.1" r="2.70"/><circle cx="517.6" cy="426.1" r="2.70"/><circle cx="521.8" cy="426.1" r="2.70"/><circle cx="526.0" cy="426.1" r="2.70"/></g>
<path d="M110.7 182.6 L114.9 205.3 L119.1 223.2 L123.3 242.8 L127.5 264.6 L131.7 293.4 L135.9 316.6 L140.1 336.5 L144.3 348.8 L148.4 359.7 L152.6 368.8 L156.8 377.0 L161.0 384.5 L165.2 390.3 L169.4 395.2 L173.6 399.3 L177.8 403.1 L182.0 406.0 L186.2 408.7 L190.4 411.0 L194.6 413.2 L198.8 415.1 L203.0 417.0 L207.2 418.5 L211.4 419.6 L215.6 420.5 L219.8 421.5 L224.0 422.3 L228.2 422.7 L232.4 423.0 L236.5 423.4 L240.7 423.9 L244.9 424.3 L249.1 424.6 L253.3 424.9 L257.5 425.0 L261.7 425.2 L265.9 425.3 L270.1 425.4 L274.3 425.5 L278.5 425.6 L282.7 425.6 L286.9 425.7 L291.1 425.7 L295.3 425.7 L299.5 425.8 L303.7 425.8 L307.9 425.8 L312.1 425.8 L316.2 425.8 L320.4 425.8 L324.6 425.8 L328.8 425.9 L333.0 425.9 L337.2 425.9 L341.4 425.9 L345.6 425.9 L349.8 425.9 L354.0 425.9 L358.2 425.9 L362.4 425.9 L366.6 426.0 L370.8 426.0 L375.0 426.0 L379.2 426.0 L383.4 426.0 L387.6 426.0 L391.8 426.0 L396.0 426.0 L400.2 426.0 L404.3 426.0 L408.5 426.0 L412.7 426.0 L416.9 426.0 L421.1 426.1 L425.3 426.1 L429.5 426.1 L433.7 426.1 L437.9 426.1 L442.1 426.1 L446.3 426.1 L450.5 426.1 L454.7 426.1 L458.9 426.1 L463.1 426.1 L467.3 426.1 L471.5 426.1 L475.7 426.1 L479.9 426.1 L484.1 426.1 L488.2 426.1 L492.4 426.1 L496.6 426.1 L500.8 426.1 L505.0 426.1 L509.2 426.1 L513.4 426.1 L517.6 426.1 L521.8 426.1 L526.0 426.1" fill="none" stroke="#008000" stroke-width="3.6" stroke-dasharray="12.5 5.4"/>
<g fill="#008000"><circle cx="110.7" cy="182.6" r="2.70"/><circle cx="114.9" cy="205.3" r="2.70"/><circle cx="119.1" cy="223.2" r="2.70"/><circle cx="123.3" cy="242.8" r="2.70"/><circle cx="127.5" cy="264.6" r="2.70"/><circle cx="131.7" cy="293.4" r="2.70"/><circle cx="135.9" cy="316.6" r="2.70"/><circle cx="140.1" cy="336.5" r="2.70"/><circle cx="144.3" cy="348.8" r="2.70"/><circle cx="148.4" cy="359.7" r="2.70"/><circle cx="152.6" cy="368.8" r="2.70"/><circle cx="156.8" cy="377.0" r="2.70"/><circle cx="161.0" cy="384.5" r="2.70"/><circle cx="165.2" cy="390.3" r="2.70"/><circle cx="169.4" cy="395.2" r="2.70"/><circle cx="173.6" cy="399.3" r="2.70"/><circle cx="177.8" cy="403.1" r="2.70"/><circle cx="182.0" cy="406.0" r="2.70"/><circle cx="186.2" cy="408.7" r="2.70"/><circle cx="190.4" cy="411.0" r="2.70"/><circle cx="194.6" cy="413.2" r="2.70"/><circle cx="198.8" cy="415.1" r="2.70"/><circle cx="203.0" cy="417.0" r="2.70"/><circle cx="207.2" cy="418.5" r="2.70"/><circle cx="211.4" cy="419.6" r="2.70"/><circle cx="215.6" cy="420.5" r="2.70"/><circle cx="219.8" cy="421.5" r="2.70"/><circle cx="224.0" cy="422.3" r="2.70"/><circle cx="228.2" cy="422.7" r="2.70"/><circle cx="232.4" cy="423.0" r="2.70"/><circle cx="236.5" cy="423.4" r="2.70"/><circle cx="240.7" cy="423.9" r="2.70"/><circle cx="244.9" cy="424.3" r="2.70"/><circle cx="249.1" cy="424.6" r="2.70"/><circle cx="253.3" cy="424.9" r="2.70"/><circle cx="257.5" cy="425.0" r="2.70"/><circle cx="261.7" cy="425.2" r="2.70"/><circle cx="265.9" cy="425.3" r="2.70"/><circle cx="270.1" cy="425.4" r="2.70"/><circle cx="274.3" cy="425.5" r="2.70"/><circle cx="278.5" cy="425.6" r="2.70"/><circle cx="282.7" cy="425.6" r="2.70"/><circle cx="286.9" cy="425.7" r="2.70"/><circle cx="291.1" cy="425.7" r="2.70"/><circle cx="295.3" cy="425.7" r="2.70"/><circle cx="299.5" cy="425.8" r="2.70"/><circle cx="303.7" cy="425.8" r="2.70"/><circle cx="307.9" cy="425.8" r="2.70"/><circle cx="312.1" cy="425.8" r="2.70"/><circle cx="316.2" cy="425.8" r="2.70"/><circle cx="320.4" cy="425.8" r="2.70"/><circle cx="324.6" cy="425.8" r="2.70"/><circle cx="328.8" cy="425.9" r="2.70"/><circle cx="333.0" cy="425.9" r="2.70"/><circle cx="337.2" cy="425.9" r="2.70"/><circle cx="341.4" cy="425.9" r="2.70"/><circle cx="345.6" cy="425.9" r="2.70"/><circle cx="349.8" cy="425.9" r="2.70"/><circle cx="354.0" cy="425.9" r="2.70"/><circle cx="358.2" cy="425.9" r="2.70"/><circle cx="362.4" cy="425.9" r="2.70"/><circle cx="366.6" cy="426.0" r="2.70"/><circle cx="370.8" cy="426.0" r="2.70"/><circle cx="375.0" cy="426.0" r="2.70"/><circle cx="379.2" cy="426.0" r="2.70"/><circle cx="383.4" cy="426.0" r="2.70"/><circle cx="387.6" cy="426.0" r="2.70"/><circle cx="391.8" cy="426.0" r="2.70"/><circle cx="396.0" cy="426.0" r="2.70"/><circle cx="400.2" cy="426.0" r="2.70"/><circle cx="404.3" cy="426.0" r="2.70"/><circle cx="408.5" cy="426.0" r="2.70"/><circle cx="412.7" cy="426.0" r="2.70"/><circle cx="416.9" cy="426.0" r="2.70"/><circle cx="421.1" cy="426.1" r="2.70"/><circle cx="425.3" cy="426.1" r="2.70"/><circle cx="429.5" cy="426.1" r="2.70"/><circle cx="433.7" cy="426.1" r="2.70"/><circle cx="437.9" cy="426.1" r="2.70"/><circle cx="442.1" cy="426.1" r="2.70"/><circle cx="446.3" cy="426.1" r="2.70"/><circle cx="450.5" cy="426.1" r="2.70"/><circle cx="454.7" cy="426.1" r="2.70"/><circle cx="458.9" cy="426.1" r="2.70"/><circle cx="463.1" cy="426.1" r="2.70"/><circle cx="467.3" cy="426.1" r="2.70"/><circle cx="471.5" cy="426.1" r="2.70"/><circle cx="475.7" cy="426.1" r="2.70"/><circle cx="479.9" cy="426.1" r="2.70"/><circle cx="484.1" cy="426.1" r="2.70"/><circle cx="488.2" cy="426.1" r="2.70"/><circle cx="492.4" cy="426.1" r="2.70"/><circle cx="496.6" cy="426.1" r="2.70"/><circle cx="500.8" cy="426.1" r="2.70"/><circle cx="505.0" cy="426.1" r="2.70"/><circle cx="509.2" cy="426.1" r="2.70"/><circle cx="513.4" cy="426.1" r="2.70"/><circle cx="517.6" cy="426.1" r="2.70"/><circle cx="521.8" cy="426.1" r="2.70"/><circle cx="526.0" cy="426.1" r="2.70"/></g>
<path d="M110.7 452.5 L534.4 452.5" stroke="#0000ff" stroke-width="4.1" stroke-dasharray="21.6 5.4 3.4 5.4" fill="none"/>
</g>
<g stroke="#000" stroke-width="0.85" fill="none"><path d="M85.05 146.45 H556.30 M85.05 458.00 H556.30" stroke-opacity="0.50"/><path d="M85.45 146.45 V458.00 M555.90 146.45 V458.00" stroke-opacity="0.68"/></g>
<path d="M106.5 458.0 v2.5" stroke="#000" stroke-opacity="0.55" stroke-width="0.7"/><text x="106.8" y="476.1" text-anchor="middle" font-size="18.0">0</text><path d="M190.4 458.0 v2.5" stroke="#000" stroke-opacity="0.55" stroke-width="0.7"/><text x="190.7" y="476.1" text-anchor="middle" font-size="18.0">20</text><path d="M274.3 458.0 v2.5" stroke="#000" stroke-opacity="0.55" stroke-width="0.7"/><text x="274.6" y="476.1" text-anchor="middle" font-size="18.0">40</text><path d="M358.2 458.0 v2.5" stroke="#000" stroke-opacity="0.55" stroke-width="0.7"/><text x="358.5" y="476.1" text-anchor="middle" font-size="18.0">60</text><path d="M442.1 458.0 v2.5" stroke="#000" stroke-opacity="0.55" stroke-width="0.7"/><text x="442.4" y="476.1" text-anchor="middle" font-size="18.0">80</text><path d="M526.0 458.0 v2.5" stroke="#000" stroke-opacity="0.55" stroke-width="0.7"/><text x="526.3" y="476.1" text-anchor="middle" font-size="18.0">100</text><path d="M85.5 146.3 h-2.5" stroke="#000" stroke-opacity="0.55" stroke-width="0.7"/><text x="81.7" y="153.6" text-anchor="end" font-size="18.0">0.5</text><path d="M85.5 208.6 h-2.5" stroke="#000" stroke-opacity="0.55" stroke-width="0.7"/><text x="81.7" y="215.9" text-anchor="end" font-size="18.0">0.0</text><path d="M85.5 270.9 h-2.5" stroke="#000" stroke-opacity="0.55" stroke-width="0.7"/><text x="81.7" y="278.2" text-anchor="end" font-size="18.0">−0.5</text><path d="M85.5 333.3 h-2.5" stroke="#000" stroke-opacity="0.55" stroke-width="0.7"/><text x="81.7" y="340.6" text-anchor="end" font-size="18.0">−1.0</text><path d="M85.5 395.6 h-2.5" stroke="#000" stroke-opacity="0.55" stroke-width="0.7"/><text x="81.7" y="402.9" text-anchor="end" font-size="18.0">−1.5</text><path d="M85.5 457.9 h-2.5" stroke="#000" stroke-opacity="0.55" stroke-width="0.7"/><text x="81.7" y="465.2" text-anchor="end" font-size="18.0">−2.0</text>
<text x="320.7" y="495.9" text-anchor="middle" font-size="18.0">iterations</text>
<text transform="translate(33.2 304.5) rotate(-90)" text-anchor="middle" font-size="18.0">Energy</text>
<rect x="359.5" y="155.2" width="187.1" height="111.4" rx="3.5" fill="#fff" fill-opacity="0.8" stroke="#d4d4d4" stroke-opacity="0.8" stroke-width="0.9"/>
<path d="M366.8 169.9 H403.3" stroke="#ff0000" stroke-width="3.4" stroke-dasharray="12.5 5.4" fill="none"/>
<circle cx="385.1" cy="169.9" r="2.5" fill="#ff0000"/>
<text x="416.9" y="176.7" font-size="18.0">Random path</text>
<path d="M366.8 196.4 H403.3" stroke="#000000" stroke-width="3.4" stroke-dasharray="12.5 5.4" fill="none"/>
<circle cx="385.1" cy="196.4" r="2.5" fill="#000000"/>
<text x="416.9" y="203.2" font-size="18.0">Shortest path</text>
<path d="M366.8 222.9 H403.3" stroke="#008000" stroke-width="3.4" stroke-dasharray="12.5 5.4" fill="none"/>
<circle cx="385.1" cy="222.9" r="2.5" fill="#008000"/>
<text x="416.9" y="229.7" font-size="18.0">SGD</text>
<path d="M366.8 249.4 H403.3" stroke="#0000ff" stroke-width="3.4" stroke-dasharray="21.6 5.4 3.4 5.4" fill="none"/>
<text x="416.9" y="256.2" font-size="18.0">Exact energy</text>
<clipPath id="clip1"><rect x="660.6" y="146.4" width="470.9" height="311.6"/></clipPath>
<g clip-path="url(#clip1)">
<path d="M681.5 208.6 L683.6 230.8 L685.7 248.6 L685.8 248.9 L687.9 261.9 L690.0 272.5 L692.1 283.5 L692.3 284.4 L693.1 289.9 L694.3 297.9 L696.4 315.5 L698.1 331.5 L698.5 334.8 L700.6 356.1 L702.3 372.9 L702.8 378.0 L703.1 381.4 L704.9 400.6 L705.6 405.8 L707.0 413.4 L709.1 421.3 L709.7 422.6 L711.3 425.0 L713.4 427.6 L713.8 428.1 L715.5 429.6 L717.6 431.2 L719.7 432.5 L719.8 432.5 L721.9 433.8 L724.0 435.0 L724.6 435.3 L726.1 436.1 L728.3 437.0 L730.4 437.9 L732.5 438.6 L734.5 439.1 L734.6 439.2 L735.4 439.4 L736.8 439.7 L738.9 440.2 L741.0 440.7 L743.1 441.1 L745.3 441.6 L746.2 441.7 L747.4 442.0 L749.5 442.3 L751.6 442.7 L753.8 443.0 L755.9 443.3 L756.9 443.4 L758.0 443.5 L760.1 443.7 L762.3 443.9 L764.3 444.1 L764.4 444.1 L766.5 444.2 L767.7 444.3 L768.6 444.4 L770.8 444.5 L772.9 444.6 L775.0 444.7 L777.1 444.9 L778.5 444.9 L779.3 445.0 L781.4 445.1 L783.5 445.2 L785.6 445.3 L787.8 445.4 L789.3 445.4 L789.9 445.4 L792.0 445.5 L794.1 445.6 L796.3 445.6 L798.4 445.7 L800.0 445.7 L800.5 445.7 L802.6 445.8 L804.8 445.8 L806.9 445.8 L807.6 445.8 L809.0 445.8 L810.8 445.8 L811.1 445.8 L813.3 445.8 L815.4 445.8 L817.5 445.8 L819.6 445.8 L821.6 445.8 L821.8 445.8 L823.9 445.8 L826.0 445.8 L828.1 445.8 L830.3 445.8 L832.4 445.8 L832.4 445.8 L834.5 445.8 L836.6 445.8 L838.8 445.8 L840.9 445.8 L843.0 445.8 L843.2 445.8 L845.1 445.8 L847.3 445.8 L849.4 445.8 L851.5 445.8 L853.6 445.8 L853.9 445.8 L855.8 445.8 L857.9 445.9 L860.0 445.9 L862.1 445.9 L864.3 445.9 L864.7 445.9 L866.4 445.9 L868.5 445.9 L870.6 445.9 L875.5 445.9 L886.3 445.9 L897.0 445.9 L907.8 445.9 L918.6 445.9 L929.4 445.9 L940.1 445.9 L950.9 445.9 L961.7 445.9 L972.5 445.9 L983.3 445.9 L994.0 445.9 L1004.8 445.9 L1015.6 445.9 L1026.4 445.9 L1037.1 445.9 L1047.9 445.9 L1058.7 445.9 L1069.5 445.9 L1080.2 445.9 L1091.0 445.9 L1101.8 445.9 L1101.8 447.0 L1091.0 447.0 L1080.2 447.0 L1069.5 447.0 L1058.7 447.0 L1047.9 447.0 L1037.1 447.0 L1026.4 447.0 L1015.6 447.0 L1004.8 446.9 L994.0 446.9 L983.3 446.9 L972.5 446.9 L961.7 446.9 L950.9 446.8 L940.1 446.8 L929.4 446.8 L918.6 446.8 L907.8 446.7 L897.0 446.7 L886.3 446.7 L875.5 446.6 L870.6 446.6 L868.5 446.6 L866.4 446.6 L864.7 446.6 L864.3 446.6 L862.1 446.6 L860.0 446.6 L857.9 446.6 L855.8 446.5 L853.9 446.5 L853.6 446.5 L851.5 446.5 L849.4 446.5 L847.3 446.5 L845.1 446.5 L843.2 446.5 L843.0 446.5 L840.9 446.5 L838.8 446.5 L836.6 446.5 L834.5 446.5 L832.4 446.4 L832.4 446.4 L830.3 446.4 L828.1 446.4 L826.0 446.4 L823.9 446.4 L821.8 446.4 L821.6 446.4 L819.6 446.4 L817.5 446.4 L815.4 446.4 L813.3 446.3 L811.1 446.3 L810.8 446.3 L809.0 446.3 L806.9 446.3 L804.8 446.3 L802.6 446.3 L800.5 446.3 L800.0 446.3 L798.4 446.3 L796.3 446.3 L794.1 446.2 L792.0 446.2 L789.9 446.2 L789.3 446.2 L787.8 446.2 L785.6 446.2 L783.5 446.2 L781.4 446.2 L779.3 446.2 L778.5 446.1 L777.1 446.1 L775.0 446.1 L772.9 446.1 L770.8 446.1 L768.6 446.1 L767.7 446.1 L766.5 446.1 L765.6 446.1 L764.4 446.1 L762.3 446.0 L760.1 446.0 L758.0 446.0 L756.9 446.0 L755.9 445.9 L753.8 445.9 L751.6 445.8 L749.5 445.8 L747.4 445.7 L746.2 445.7 L745.3 445.6 L743.1 445.6 L741.0 445.5 L738.9 445.4 L736.8 445.3 L735.4 445.3 L734.6 445.2 L732.5 445.2 L731.9 445.1 L730.4 445.1 L728.3 445.0 L726.1 444.9 L724.6 444.8 L724.0 444.7 L721.9 444.6 L719.8 444.4 L717.6 444.3 L715.5 444.1 L713.8 443.9 L713.4 443.9 L711.3 443.7 L709.1 443.4 L708.0 443.3 L707.0 443.1 L704.9 442.8 L703.1 442.4 L702.8 442.4 L700.6 441.8 L698.5 441.0 L698.1 440.8 L696.4 439.5 L694.3 436.5 L693.1 434.2 L692.3 431.1 L692.1 430.3 L690.0 415.3 L689.9 414.2 L687.9 393.1 L686.5 372.9 L685.8 354.2 L684.0 306.6 L683.6 299.1 L681.5 268.6Z" fill="#ff0000" fill-opacity="0.20" stroke="#ff0000" stroke-opacity="0.20" stroke-width="0.5"/>
<path d="M681.5 182.0 L683.6 213.3 L685.7 239.3 L685.8 239.8 L687.9 261.8 L689.9 279.2 L690.0 280.0 L692.1 294.3 L692.3 295.2 L694.1 305.9 L694.3 306.7 L696.4 317.2 L698.5 327.1 L700.6 339.7 L700.6 339.7 L702.8 361.4 L703.1 364.7 L703.9 372.9 L704.9 379.8 L707.0 393.0 L708.1 397.7 L709.1 401.4 L711.3 407.4 L713.4 412.0 L713.8 412.8 L714.7 414.2 L715.5 415.3 L717.6 417.6 L719.8 419.4 L721.9 421.3 L723.0 422.6 L724.0 424.2 L724.6 425.3 L726.1 428.2 L727.9 430.9 L728.3 431.2 L730.4 432.9 L732.5 434.3 L734.6 435.5 L735.4 435.8 L736.8 436.4 L738.9 437.3 L739.5 437.5 L741.0 438.0 L743.1 438.7 L745.3 439.4 L746.2 439.6 L747.4 440.0 L749.5 440.6 L751.6 441.1 L753.8 441.6 L755.9 442.0 L756.9 442.2 L758.0 442.4 L760.1 442.8 L762.3 443.0 L764.3 443.3 L764.4 443.3 L766.5 443.5 L767.7 443.6 L768.6 443.7 L770.8 443.9 L772.9 444.0 L775.0 444.2 L777.1 444.4 L778.5 444.5 L779.3 444.5 L781.4 444.7 L783.5 444.8 L785.6 444.9 L787.8 445.1 L789.3 445.2 L789.9 445.2 L792.0 445.3 L794.1 445.4 L796.3 445.5 L798.4 445.5 L800.0 445.6 L800.5 445.6 L802.6 445.6 L804.8 445.6 L806.9 445.7 L807.6 445.7 L809.0 445.7 L810.8 445.7 L811.1 445.7 L813.3 445.7 L815.4 445.7 L817.5 445.7 L819.6 445.7 L821.6 445.7 L821.8 445.7 L823.9 445.7 L826.0 445.7 L828.1 445.7 L830.3 445.7 L832.4 445.7 L832.4 445.7 L834.5 445.7 L836.6 445.7 L838.8 445.7 L840.9 445.7 L843.0 445.7 L843.2 445.7 L845.1 445.7 L847.3 445.7 L849.4 445.8 L851.5 445.8 L853.6 445.8 L853.9 445.8 L855.8 445.8 L857.9 445.8 L860.0 445.8 L862.1 445.8 L864.3 445.8 L864.7 445.8 L866.4 445.8 L868.5 445.8 L870.6 445.8 L875.5 445.8 L886.3 445.8 L897.0 445.8 L907.8 445.8 L918.6 445.9 L929.4 445.9 L940.1 445.9 L950.9 445.9 L961.7 445.9 L972.5 445.9 L983.3 445.9 L994.0 445.9 L1004.8 445.9 L1015.6 445.9 L1026.4 445.9 L1037.1 445.9 L1047.9 445.9 L1058.7 445.9 L1069.5 445.9 L1080.2 445.9 L1091.0 445.9 L1101.8 445.9 L1101.8 447.0 L1091.0 447.0 L1080.2 447.0 L1069.5 447.0 L1058.7 447.0 L1047.9 447.0 L1037.1 447.0 L1026.4 447.0 L1015.6 447.0 L1004.8 446.9 L994.0 446.9 L983.3 446.9 L972.5 446.9 L961.7 446.9 L950.9 446.9 L940.1 446.8 L929.4 446.8 L918.6 446.8 L907.8 446.8 L897.0 446.7 L886.3 446.7 L875.5 446.7 L870.6 446.7 L868.5 446.7 L866.4 446.6 L864.7 446.6 L864.3 446.6 L862.1 446.6 L860.0 446.6 L857.9 446.6 L855.8 446.6 L853.9 446.6 L853.6 446.6 L851.5 446.6 L849.4 446.6 L847.3 446.6 L845.1 446.6 L843.2 446.6 L843.0 446.6 L840.9 446.6 L838.8 446.5 L836.6 446.5 L834.5 446.5 L832.4 446.5 L832.4 446.5 L830.3 446.5 L828.1 446.5 L826.0 446.5 L823.9 446.5 L821.8 446.5 L821.6 446.5 L819.6 446.5 L817.5 446.5 L815.4 446.4 L813.3 446.4 L811.1 446.4 L810.8 446.4 L809.0 446.4 L806.9 446.4 L804.8 446.4 L802.6 446.4 L800.5 446.4 L800.0 446.4 L798.4 446.4 L796.3 446.4 L794.1 446.3 L792.0 446.3 L789.9 446.3 L789.3 446.3 L787.8 446.3 L785.6 446.3 L783.5 446.3 L781.4 446.3 L779.3 446.3 L778.5 446.3 L777.1 446.3 L775.0 446.3 L772.9 446.2 L770.8 446.2 L768.6 446.2 L767.7 446.2 L766.5 446.2 L765.6 446.2 L764.4 446.2 L762.3 446.2 L760.1 446.2 L758.0 446.1 L756.9 446.1 L755.9 446.1 L753.8 446.1 L751.6 446.0 L749.5 446.0 L747.4 445.9 L746.2 445.9 L745.3 445.9 L743.1 445.8 L741.0 445.8 L738.9 445.7 L736.8 445.6 L735.4 445.6 L734.6 445.6 L732.5 445.5 L730.4 445.4 L728.3 445.3 L726.1 445.2 L724.6 445.2 L724.0 445.2 L723.5 445.1 L721.9 445.1 L719.8 445.0 L717.6 444.8 L715.5 444.7 L713.8 444.5 L713.4 444.5 L711.3 444.3 L709.1 444.1 L707.0 443.8 L704.9 443.5 L703.1 443.2 L702.8 443.2 L702.5 443.1 L700.6 442.7 L698.5 441.8 L696.4 440.7 L694.3 439.3 L694.0 439.1 L692.3 437.9 L692.1 437.8 L690.7 435.8 L690.0 432.7 L688.2 414.2 L687.9 409.8 L685.8 373.7 L685.7 372.9 L683.6 339.5 L681.5 305.9Z" fill="#000000" fill-opacity="0.25" stroke="#000000" stroke-opacity="0.25" stroke-width="0.5"/>
<path d="M685.7 130.0 L687.8 142.0 L689.9 154.8 L691.9 168.2 L694.0 182.2 L696.1 196.7 L696.2 197.6 L696.4 198.7 L698.2 211.2 L700.2 226.9 L701.7 239.7 L702.3 247.1 L704.4 277.1 L705.6 289.9 L706.5 295.9 L707.0 299.1 L708.4 305.0 L708.6 305.5 L710.6 311.4 L712.7 315.8 L714.7 319.9 L714.8 320.1 L716.9 324.5 L717.7 326.3 L718.9 328.8 L721.0 332.9 L723.0 336.5 L723.1 336.8 L725.2 340.5 L727.3 344.0 L728.4 345.9 L729.3 347.4 L731.3 350.5 L731.4 350.8 L733.5 354.0 L735.6 357.2 L737.7 360.2 L739.0 362.3 L739.5 362.9 L739.7 363.2 L741.8 366.2 L743.9 369.1 L746.0 371.9 L747.9 374.5 L748.0 374.7 L749.7 376.8 L750.1 377.4 L752.2 380.0 L754.3 382.4 L756.1 384.5 L756.4 384.8 L758.4 386.9 L760.4 388.8 L760.5 388.9 L762.6 390.9 L764.3 392.5 L764.7 392.8 L766.7 394.8 L768.8 396.8 L770.9 398.7 L771.1 398.9 L773.0 400.7 L775.1 402.6 L777.1 404.4 L779.2 406.2 L781.1 407.7 L781.3 407.8 L781.7 408.2 L783.4 409.4 L785.4 411.0 L787.5 412.5 L789.6 414.0 L791.7 415.5 L792.4 415.9 L793.8 416.8 L795.8 418.1 L797.5 419.1 L797.9 419.4 L800.0 420.6 L802.1 421.8 L803.1 422.3 L804.1 422.9 L806.2 424.0 L808.3 425.1 L810.4 426.0 L812.5 427.0 L813.7 427.5 L813.9 427.5 L814.5 427.8 L816.6 428.6 L818.7 429.3 L820.8 430.0 L822.8 430.7 L824.4 431.2 L824.9 431.4 L827.0 432.0 L829.1 432.6 L831.2 433.2 L833.2 433.7 L834.9 434.2 L835.1 434.3 L835.3 434.3 L837.4 434.9 L839.5 435.5 L841.5 436.0 L843.6 436.5 L845.7 437.0 L845.7 437.0 L847.8 437.5 L849.6 437.8 L849.9 437.8 L851.9 438.2 L854.0 438.6 L856.1 438.9 L856.4 438.9 L858.2 439.2 L860.2 439.5 L862.3 439.8 L864.4 440.1 L866.5 440.4 L867.1 440.5 L868.6 440.7 L870.6 441.0 L877.7 441.8 L888.4 442.9 L891.6 443.1 L899.1 443.7 L909.8 444.4 L920.4 445.0 L931.1 445.5 L933.7 445.5 L941.8 445.7 L952.4 446.0 L963.1 446.1 L973.8 446.2 L975.7 446.2 L984.4 446.2 L995.1 446.2 L1005.8 446.2 L1016.4 446.2 L1027.1 446.2 L1037.8 446.2 L1048.5 446.1 L1059.1 446.1 L1069.8 446.1 L1080.5 446.0 L1091.1 446.0 L1101.8 445.9 L1101.8 447.0 L1091.1 447.0 L1080.5 447.0 L1069.8 447.0 L1059.1 447.0 L1048.5 447.0 L1037.8 447.0 L1027.1 447.0 L1016.4 446.9 L1005.8 446.9 L995.1 446.9 L984.4 446.9 L973.8 446.9 L963.1 446.8 L952.4 446.8 L941.8 446.8 L931.1 446.7 L920.4 446.7 L909.8 446.7 L899.1 446.6 L888.4 446.6 L877.7 446.5 L870.6 446.5 L868.6 446.5 L867.1 446.5 L866.5 446.5 L864.4 446.5 L862.3 446.5 L860.2 446.4 L858.2 446.4 L856.4 446.4 L856.1 446.4 L854.0 446.4 L851.9 446.4 L849.9 446.4 L847.8 446.4 L845.7 446.4 L845.7 446.4 L843.6 446.4 L841.5 446.3 L839.5 446.3 L837.4 446.3 L835.3 446.3 L835.1 446.3 L833.2 446.3 L831.2 446.3 L829.1 446.3 L827.0 446.3 L824.9 446.2 L824.4 446.2 L822.8 446.2 L820.8 446.2 L818.7 446.2 L816.6 446.2 L814.5 446.2 L813.7 446.2 L812.5 446.2 L810.4 446.1 L808.3 446.1 L806.2 446.1 L804.1 446.1 L803.1 446.1 L802.1 446.1 L800.0 446.1 L797.9 446.1 L795.8 446.0 L793.8 446.0 L792.4 446.0 L791.7 446.0 L789.6 446.0 L787.5 446.0 L785.4 446.0 L783.4 445.9 L781.7 445.9 L781.3 445.9 L779.2 445.9 L777.1 445.9 L775.1 445.9 L773.0 445.9 L771.1 445.8 L770.9 445.8 L768.8 445.8 L766.7 445.8 L765.6 445.8 L764.7 445.8 L762.6 445.8 L760.5 445.7 L760.4 445.7 L758.4 445.7 L756.4 445.6 L754.3 445.6 L752.2 445.5 L750.1 445.4 L749.7 445.4 L748.0 445.4 L746.0 445.3 L743.9 445.2 L741.8 445.1 L739.7 444.9 L739.0 444.9 L737.7 444.8 L735.6 444.7 L733.5 444.6 L731.9 444.5 L731.4 444.4 L729.3 444.3 L728.4 444.2 L727.3 444.0 L725.2 443.8 L723.1 443.5 L721.0 443.1 L718.9 442.7 L717.7 442.4 L716.9 442.2 L715.1 441.8 L714.8 441.7 L712.7 441.1 L710.6 440.3 L708.6 439.1 L707.0 438.1 L706.7 437.8 L706.5 437.6 L704.4 434.3 L702.5 429.8 L702.3 429.3 L700.2 421.7 L698.3 412.5 L698.2 411.8 L696.4 401.3 L696.1 399.5 L694.1 385.8 L694.0 385.2 L691.9 369.5 L689.9 352.5 L689.9 352.1 L687.8 333.2 L685.7 312.6Z" fill="#008000" fill-opacity="0.30" stroke="#008000" stroke-opacity="0.30" stroke-width="0.5"/>
<path d="M681.5 238.5 L685.7 295.0 L689.9 338.9 L694.1 375.3 L698.3 401.2 L702.5 418.5 L706.7 427.5 L710.9 432.5 L715.1 436.6 L719.3 438.5 L723.5 439.9 L727.7 441.4 L731.9 442.5 L736.1 443.1 L740.3 443.7 L744.5 444.1 L748.7 444.4 L753.0 444.7 L757.2 445.0 L761.4 445.2 L765.6 445.4 L769.8 445.6 L774.0 445.7 L778.2 445.9 L782.4 446.0 L786.6 446.1 L790.8 446.1 L795.0 446.2 L799.2 446.2 L803.4 446.2 L807.6 446.3 L811.8 446.3 L816.0 446.3 L820.2 446.3 L824.4 446.3 L828.6 446.3 L832.8 446.3 L837.0 446.3 L841.2 446.3 L845.4 446.4 L849.6 446.4 L853.8 446.4 L858.0 446.4 L862.2 446.4 L866.4 446.4 L870.6 446.4 L874.8 446.4 L879.0 446.4 L883.2 446.4 L887.4 446.4 L891.6 446.4 L895.9 446.4 L900.1 446.4 L904.3 446.4 L908.5 446.4 L912.7 446.4 L916.9 446.4 L921.1 446.4 L925.3 446.4 L929.5 446.4 L933.7 446.4 L937.9 446.4 L942.1 446.4 L946.3 446.4 L950.5 446.4 L954.7 446.4 L958.9 446.4 L963.1 446.4 L967.3 446.4 L971.5 446.4 L975.7 446.4 L979.9 446.4 L984.1 446.4 L988.3 446.4 L992.5 446.4 L996.7 446.5 L1000.9 446.5 L1005.1 446.5 L1009.3 446.5 L1013.5 446.5 L1017.7 446.5 L1021.9 446.5 L1026.1 446.5 L1030.3 446.5 L1034.6 446.5 L1038.8 446.5 L1043.0 446.5 L1047.2 446.5 L1051.4 446.5 L1055.6 446.5 L1059.8 446.5 L1064.0 446.5 L1068.2 446.5 L1072.4 446.5 L1076.6 446.5 L1080.8 446.5 L1085.0 446.5 L1089.2 446.5 L1093.4 446.5 L1097.6 446.5 L1101.8 446.5" fill="none" stroke="#ff0000" stroke-width="3.6" stroke-dasharray="12.5 5.4"/>
<g fill="#ff0000"><circle cx="681.5" cy="238.5" r="2.70"/><circle cx="685.7" cy="295.0" r="2.70"/><circle cx="689.9" cy="338.9" r="2.70"/><circle cx="694.1" cy="375.3" r="2.70"/><circle cx="698.3" cy="401.2" r="2.70"/><circle cx="702.5" cy="418.5" r="2.70"/><circle cx="706.7" cy="427.5" r="2.70"/><circle cx="710.9" cy="432.5" r="2.70"/><circle cx="715.1" cy="436.6" r="2.70"/><circle cx="719.3" cy="438.5" r="2.70"/><circle cx="723.5" cy="439.9" r="2.70"/><circle cx="727.7" cy="441.4" r="2.70"/><circle cx="731.9" cy="442.5" r="2.70"/><circle cx="736.1" cy="443.1" r="2.70"/><circle cx="740.3" cy="443.7" r="2.70"/><circle cx="744.5" cy="444.1" r="2.70"/><circle cx="748.7" cy="444.4" r="2.70"/><circle cx="753.0" cy="444.7" r="2.70"/><circle cx="757.2" cy="445.0" r="2.70"/><circle cx="761.4" cy="445.2" r="2.70"/><circle cx="765.6" cy="445.4" r="2.70"/><circle cx="769.8" cy="445.6" r="2.70"/><circle cx="774.0" cy="445.7" r="2.70"/><circle cx="778.2" cy="445.9" r="2.70"/><circle cx="782.4" cy="446.0" r="2.70"/><circle cx="786.6" cy="446.1" r="2.70"/><circle cx="790.8" cy="446.1" r="2.70"/><circle cx="795.0" cy="446.2" r="2.70"/><circle cx="799.2" cy="446.2" r="2.70"/><circle cx="803.4" cy="446.2" r="2.70"/><circle cx="807.6" cy="446.3" r="2.70"/><circle cx="811.8" cy="446.3" r="2.70"/><circle cx="816.0" cy="446.3" r="2.70"/><circle cx="820.2" cy="446.3" r="2.70"/><circle cx="824.4" cy="446.3" r="2.70"/><circle cx="828.6" cy="446.3" r="2.70"/><circle cx="832.8" cy="446.3" r="2.70"/><circle cx="837.0" cy="446.3" r="2.70"/><circle cx="841.2" cy="446.3" r="2.70"/><circle cx="845.4" cy="446.4" r="2.70"/><circle cx="849.6" cy="446.4" r="2.70"/><circle cx="853.8" cy="446.4" r="2.70"/><circle cx="858.0" cy="446.4" r="2.70"/><circle cx="862.2" cy="446.4" r="2.70"/><circle cx="866.4" cy="446.4" r="2.70"/><circle cx="870.6" cy="446.4" r="2.70"/><circle cx="874.8" cy="446.4" r="2.70"/><circle cx="879.0" cy="446.4" r="2.70"/><circle cx="883.2" cy="446.4" r="2.70"/><circle cx="887.4" cy="446.4" r="2.70"/><circle cx="891.6" cy="446.4" r="2.70"/><circle cx="895.9" cy="446.4" r="2.70"/><circle cx="900.1" cy="446.4" r="2.70"/><circle cx="904.3" cy="446.4" r="2.70"/><circle cx="908.5" cy="446.4" r="2.70"/><circle cx="912.7" cy="446.4" r="2.70"/><circle cx="916.9" cy="446.4" r="2.70"/><circle cx="921.1" cy="446.4" r="2.70"/><circle cx="925.3" cy="446.4" r="2.70"/><circle cx="929.5" cy="446.4" r="2.70"/><circle cx="933.7" cy="446.4" r="2.70"/><circle cx="937.9" cy="446.4" r="2.70"/><circle cx="942.1" cy="446.4" r="2.70"/><circle cx="946.3" cy="446.4" r="2.70"/><circle cx="950.5" cy="446.4" r="2.70"/><circle cx="954.7" cy="446.4" r="2.70"/><circle cx="958.9" cy="446.4" r="2.70"/><circle cx="963.1" cy="446.4" r="2.70"/><circle cx="967.3" cy="446.4" r="2.70"/><circle cx="971.5" cy="446.4" r="2.70"/><circle cx="975.7" cy="446.4" r="2.70"/><circle cx="979.9" cy="446.4" r="2.70"/><circle cx="984.1" cy="446.4" r="2.70"/><circle cx="988.3" cy="446.4" r="2.70"/><circle cx="992.5" cy="446.4" r="2.70"/><circle cx="996.7" cy="446.5" r="2.70"/><circle cx="1000.9" cy="446.5" r="2.70"/><circle cx="1005.1" cy="446.5" r="2.70"/><circle cx="1009.3" cy="446.5" r="2.70"/><circle cx="1013.5" cy="446.5" r="2.70"/><circle cx="1017.7" cy="446.5" r="2.70"/><circle cx="1021.9" cy="446.5" r="2.70"/><circle cx="1026.1" cy="446.5" r="2.70"/><circle cx="1030.3" cy="446.5" r="2.70"/><circle cx="1034.6" cy="446.5" r="2.70"/><circle cx="1038.8" cy="446.5" r="2.70"/><circle cx="1043.0" cy="446.5" r="2.70"/><circle cx="1047.2" cy="446.5" r="2.70"/><circle cx="1051.4" cy="446.5" r="2.70"/><circle cx="1055.6" cy="446.5" r="2.70"/><circle cx="1059.8" cy="446.5" r="2.70"/><circle cx="1064.0" cy="446.5" r="2.70"/><circle cx="1068.2" cy="446.5" r="2.70"/><circle cx="1072.4" cy="446.5" r="2.70"/><circle cx="1076.6" cy="446.5" r="2.70"/><circle cx="1080.8" cy="446.5" r="2.70"/><circle cx="1085.0" cy="446.5" r="2.70"/><circle cx="1089.2" cy="446.5" r="2.70"/><circle cx="1093.4" cy="446.5" r="2.70"/><circle cx="1097.6" cy="446.5" r="2.70"/><circle cx="1101.8" cy="446.5" r="2.70"/></g>
<path d="M681.5 243.5 L685.7 295.0 L689.9 338.9 L694.1 375.3 L698.3 400.2 L702.5 413.4 L706.7 422.6 L710.9 427.5 L715.1 431.7 L719.3 434.9 L723.5 437.5 L727.7 439.2 L731.9 440.5 L736.1 441.4 L740.3 442.2 L744.5 442.9 L748.7 443.4 L753.0 443.9 L757.2 444.4 L761.4 444.7 L765.6 445.0 L769.8 445.2 L774.0 445.4 L778.2 445.6 L782.4 445.7 L786.6 445.8 L790.8 445.9 L795.0 446.0 L799.2 446.0 L803.4 446.1 L807.6 446.2 L811.8 446.2 L816.0 446.3 L820.2 446.3 L824.4 446.3 L828.6 446.3 L832.8 446.3 L837.0 446.3 L841.2 446.3 L845.4 446.4 L849.6 446.4 L853.8 446.4 L858.0 446.4 L862.2 446.4 L866.4 446.4 L870.6 446.4 L874.8 446.4 L879.0 446.4 L883.2 446.4 L887.4 446.4 L891.6 446.4 L895.9 446.4 L900.1 446.4 L904.3 446.4 L908.5 446.4 L912.7 446.4 L916.9 446.4 L921.1 446.4 L925.3 446.4 L929.5 446.4 L933.7 446.4 L937.9 446.4 L942.1 446.4 L946.3 446.4 L950.5 446.4 L954.7 446.4 L958.9 446.4 L963.1 446.4 L967.3 446.4 L971.5 446.4 L975.7 446.4 L979.9 446.4 L984.1 446.4 L988.3 446.4 L992.5 446.5 L996.7 446.5 L1000.9 446.5 L1005.1 446.5 L1009.3 446.5 L1013.5 446.5 L1017.7 446.5 L1021.9 446.5 L1026.1 446.5 L1030.3 446.5 L1034.6 446.5 L1038.8 446.5 L1043.0 446.5 L1047.2 446.5 L1051.4 446.5 L1055.6 446.5 L1059.8 446.5 L1064.0 446.5 L1068.2 446.5 L1072.4 446.5 L1076.6 446.5 L1080.8 446.5 L1085.0 446.5 L1089.2 446.5 L1093.4 446.5 L1097.6 446.5 L1101.8 446.5" fill="none" stroke="#000000" stroke-width="3.6" stroke-dasharray="12.5 5.4"/>
<g fill="#000000"><circle cx="681.5" cy="243.5" r="2.70"/><circle cx="685.7" cy="295.0" r="2.70"/><circle cx="689.9" cy="338.9" r="2.70"/><circle cx="694.1" cy="375.3" r="2.70"/><circle cx="698.3" cy="400.2" r="2.70"/><circle cx="702.5" cy="413.4" r="2.70"/><circle cx="706.7" cy="422.6" r="2.70"/><circle cx="710.9" cy="427.5" r="2.70"/><circle cx="715.1" cy="431.7" r="2.70"/><circle cx="719.3" cy="434.9" r="2.70"/><circle cx="723.5" cy="437.5" r="2.70"/><circle cx="727.7" cy="439.2" r="2.70"/><circle cx="731.9" cy="440.5" r="2.70"/><circle cx="736.1" cy="441.4" r="2.70"/><circle cx="740.3" cy="442.2" r="2.70"/><circle cx="744.5" cy="442.9" r="2.70"/><circle cx="748.7" cy="443.4" r="2.70"/><circle cx="753.0" cy="443.9" r="2.70"/><circle cx="757.2" cy="444.4" r="2.70"/><circle cx="761.4" cy="444.7" r="2.70"/><circle cx="765.6" cy="445.0" r="2.70"/><circle cx="769.8" cy="445.2" r="2.70"/><circle cx="774.0" cy="445.4" r="2.70"/><circle cx="778.2" cy="445.6" r="2.70"/><circle cx="782.4" cy="445.7" r="2.70"/><circle cx="786.6" cy="445.8" r="2.70"/><circle cx="790.8" cy="445.9" r="2.70"/><circle cx="795.0" cy="446.0" r="2.70"/><circle cx="799.2" cy="446.0" r="2.70"/><circle cx="803.4" cy="446.1" r="2.70"/><circle cx="807.6" cy="446.2" r="2.70"/><circle cx="811.8" cy="446.2" r="2.70"/><circle cx="816.0" cy="446.3" r="2.70"/><circle cx="820.2" cy="446.3" r="2.70"/><circle cx="824.4" cy="446.3" r="2.70"/><circle cx="828.6" cy="446.3" r="2.70"/><circle cx="832.8" cy="446.3" r="2.70"/><circle cx="837.0" cy="446.3" r="2.70"/><circle cx="841.2" cy="446.3" r="2.70"/><circle cx="845.4" cy="446.4" r="2.70"/><circle cx="849.6" cy="446.4" r="2.70"/><circle cx="853.8" cy="446.4" r="2.70"/><circle cx="858.0" cy="446.4" r="2.70"/><circle cx="862.2" cy="446.4" r="2.70"/><circle cx="866.4" cy="446.4" r="2.70"/><circle cx="870.6" cy="446.4" r="2.70"/><circle cx="874.8" cy="446.4" r="2.70"/><circle cx="879.0" cy="446.4" r="2.70"/><circle cx="883.2" cy="446.4" r="2.70"/><circle cx="887.4" cy="446.4" r="2.70"/><circle cx="891.6" cy="446.4" r="2.70"/><circle cx="895.9" cy="446.4" r="2.70"/><circle cx="900.1" cy="446.4" r="2.70"/><circle cx="904.3" cy="446.4" r="2.70"/><circle cx="908.5" cy="446.4" r="2.70"/><circle cx="912.7" cy="446.4" r="2.70"/><circle cx="916.9" cy="446.4" r="2.70"/><circle cx="921.1" cy="446.4" r="2.70"/><circle cx="925.3" cy="446.4" r="2.70"/><circle cx="929.5" cy="446.4" r="2.70"/><circle cx="933.7" cy="446.4" r="2.70"/><circle cx="937.9" cy="446.4" r="2.70"/><circle cx="942.1" cy="446.4" r="2.70"/><circle cx="946.3" cy="446.4" r="2.70"/><circle cx="950.5" cy="446.4" r="2.70"/><circle cx="954.7" cy="446.4" r="2.70"/><circle cx="958.9" cy="446.4" r="2.70"/><circle cx="963.1" cy="446.4" r="2.70"/><circle cx="967.3" cy="446.4" r="2.70"/><circle cx="971.5" cy="446.4" r="2.70"/><circle cx="975.7" cy="446.4" r="2.70"/><circle cx="979.9" cy="446.4" r="2.70"/><circle cx="984.1" cy="446.4" r="2.70"/><circle cx="988.3" cy="446.4" r="2.70"/><circle cx="992.5" cy="446.5" r="2.70"/><circle cx="996.7" cy="446.5" r="2.70"/><circle cx="1000.9" cy="446.5" r="2.70"/><circle cx="1005.1" cy="446.5" r="2.70"/><circle cx="1009.3" cy="446.5" r="2.70"/><circle cx="1013.5" cy="446.5" r="2.70"/><circle cx="1017.7" cy="446.5" r="2.70"/><circle cx="1021.9" cy="446.5" r="2.70"/><circle cx="1026.1" cy="446.5" r="2.70"/><circle cx="1030.3" cy="446.5" r="2.70"/><circle cx="1034.6" cy="446.5" r="2.70"/><circle cx="1038.8" cy="446.5" r="2.70"/><circle cx="1043.0" cy="446.5" r="2.70"/><circle cx="1047.2" cy="446.5" r="2.70"/><circle cx="1051.4" cy="446.5" r="2.70"/><circle cx="1055.6" cy="446.5" r="2.70"/><circle cx="1059.8" cy="446.5" r="2.70"/><circle cx="1064.0" cy="446.5" r="2.70"/><circle cx="1068.2" cy="446.5" r="2.70"/><circle cx="1072.4" cy="446.5" r="2.70"/><circle cx="1076.6" cy="446.5" r="2.70"/><circle cx="1080.8" cy="446.5" r="2.70"/><circle cx="1085.0" cy="446.5" r="2.70"/><circle cx="1089.2" cy="446.5" r="2.70"/><circle cx="1093.4" cy="446.5" r="2.70"/><circle cx="1097.6" cy="446.5" r="2.70"/><circle cx="1101.8" cy="446.5" r="2.70"/></g>
<path d="M685.7 217.9 L689.9 254.5 L694.1 293.9 L698.3 329.7 L702.5 356.3 L706.7 376.1 L710.9 394.4 L715.1 407.2 L719.3 413.4 L723.5 417.6 L727.7 420.5 L731.9 422.6 L736.1 424.5 L740.3 426.2 L744.5 427.6 L748.7 428.9 L753.0 430.0 L757.2 431.1 L761.4 432.3 L765.6 433.3 L769.8 434.2 L774.0 435.0 L778.2 435.8 L782.4 436.5 L786.6 437.1 L790.8 437.7 L795.0 438.3 L799.2 438.8 L803.4 439.2 L807.6 439.7 L811.8 440.1 L816.0 440.5 L820.2 440.9 L824.4 441.3 L828.6 441.7 L832.8 442.0 L837.0 442.3 L841.2 442.6 L845.4 442.9 L849.6 443.1 L853.8 443.4 L858.0 443.6 L862.2 443.8 L866.4 444.1 L870.6 444.3 L874.8 444.5 L879.0 444.7 L883.2 444.8 L887.4 445.0 L891.6 445.1 L895.9 445.3 L900.1 445.4 L904.3 445.5 L908.5 445.6 L912.7 445.7 L916.9 445.8 L921.1 445.9 L925.3 446.0 L929.5 446.0 L933.7 446.1 L937.9 446.1 L942.1 446.1 L946.3 446.1 L950.5 446.1 L954.7 446.2 L958.9 446.2 L963.1 446.2 L967.3 446.2 L971.5 446.2 L975.7 446.3 L979.9 446.3 L984.1 446.3 L988.3 446.3 L992.5 446.3 L996.7 446.3 L1000.9 446.3 L1005.1 446.3 L1009.3 446.4 L1013.5 446.4 L1017.7 446.4 L1021.9 446.4 L1026.1 446.4 L1030.3 446.4 L1034.6 446.4 L1038.8 446.4 L1043.0 446.4 L1047.2 446.4 L1051.4 446.4 L1055.6 446.4 L1059.8 446.4 L1064.0 446.4 L1068.2 446.5 L1072.4 446.5 L1076.6 446.5 L1080.8 446.5 L1085.0 446.5 L1089.2 446.5 L1093.4 446.5 L1097.6 446.5 L1101.8 446.5" fill="none" stroke="#008000" stroke-width="3.6" stroke-dasharray="12.5 5.4"/>
<g fill="#008000"><circle cx="685.7" cy="217.9" r="2.70"/><circle cx="689.9" cy="254.5" r="2.70"/><circle cx="694.1" cy="293.9" r="2.70"/><circle cx="698.3" cy="329.7" r="2.70"/><circle cx="702.5" cy="356.3" r="2.70"/><circle cx="706.7" cy="376.1" r="2.70"/><circle cx="710.9" cy="394.4" r="2.70"/><circle cx="715.1" cy="407.2" r="2.70"/><circle cx="719.3" cy="413.4" r="2.70"/><circle cx="723.5" cy="417.6" r="2.70"/><circle cx="727.7" cy="420.5" r="2.70"/><circle cx="731.9" cy="422.6" r="2.70"/><circle cx="736.1" cy="424.5" r="2.70"/><circle cx="740.3" cy="426.2" r="2.70"/><circle cx="744.5" cy="427.6" r="2.70"/><circle cx="748.7" cy="428.9" r="2.70"/><circle cx="753.0" cy="430.0" r="2.70"/><circle cx="757.2" cy="431.1" r="2.70"/><circle cx="761.4" cy="432.3" r="2.70"/><circle cx="765.6" cy="433.3" r="2.70"/><circle cx="769.8" cy="434.2" r="2.70"/><circle cx="774.0" cy="435.0" r="2.70"/><circle cx="778.2" cy="435.8" r="2.70"/><circle cx="782.4" cy="436.5" r="2.70"/><circle cx="786.6" cy="437.1" r="2.70"/><circle cx="790.8" cy="437.7" r="2.70"/><circle cx="795.0" cy="438.3" r="2.70"/><circle cx="799.2" cy="438.8" r="2.70"/><circle cx="803.4" cy="439.2" r="2.70"/><circle cx="807.6" cy="439.7" r="2.70"/><circle cx="811.8" cy="440.1" r="2.70"/><circle cx="816.0" cy="440.5" r="2.70"/><circle cx="820.2" cy="440.9" r="2.70"/><circle cx="824.4" cy="441.3" r="2.70"/><circle cx="828.6" cy="441.7" r="2.70"/><circle cx="832.8" cy="442.0" r="2.70"/><circle cx="837.0" cy="442.3" r="2.70"/><circle cx="841.2" cy="442.6" r="2.70"/><circle cx="845.4" cy="442.9" r="2.70"/><circle cx="849.6" cy="443.1" r="2.70"/><circle cx="853.8" cy="443.4" r="2.70"/><circle cx="858.0" cy="443.6" r="2.70"/><circle cx="862.2" cy="443.8" r="2.70"/><circle cx="866.4" cy="444.1" r="2.70"/><circle cx="870.6" cy="444.3" r="2.70"/><circle cx="874.8" cy="444.5" r="2.70"/><circle cx="879.0" cy="444.7" r="2.70"/><circle cx="883.2" cy="444.8" r="2.70"/><circle cx="887.4" cy="445.0" r="2.70"/><circle cx="891.6" cy="445.1" r="2.70"/><circle cx="895.9" cy="445.3" r="2.70"/><circle cx="900.1" cy="445.4" r="2.70"/><circle cx="904.3" cy="445.5" r="2.70"/><circle cx="908.5" cy="445.6" r="2.70"/><circle cx="912.7" cy="445.7" r="2.70"/><circle cx="916.9" cy="445.8" r="2.70"/><circle cx="921.1" cy="445.9" r="2.70"/><circle cx="925.3" cy="446.0" r="2.70"/><circle cx="929.5" cy="446.0" r="2.70"/><circle cx="933.7" cy="446.1" r="2.70"/><circle cx="937.9" cy="446.1" r="2.70"/><circle cx="942.1" cy="446.1" r="2.70"/><circle cx="946.3" cy="446.1" r="2.70"/><circle cx="950.5" cy="446.1" r="2.70"/><circle cx="954.7" cy="446.2" r="2.70"/><circle cx="958.9" cy="446.2" r="2.70"/><circle cx="963.1" cy="446.2" r="2.70"/><circle cx="967.3" cy="446.2" r="2.70"/><circle cx="971.5" cy="446.2" r="2.70"/><circle cx="975.7" cy="446.3" r="2.70"/><circle cx="979.9" cy="446.3" r="2.70"/><circle cx="984.1" cy="446.3" r="2.70"/><circle cx="988.3" cy="446.3" r="2.70"/><circle cx="992.5" cy="446.3" r="2.70"/><circle cx="996.7" cy="446.3" r="2.70"/><circle cx="1000.9" cy="446.3" r="2.70"/><circle cx="1005.1" cy="446.3" r="2.70"/><circle cx="1009.3" cy="446.4" r="2.70"/><circle cx="1013.5" cy="446.4" r="2.70"/><circle cx="1017.7" cy="446.4" r="2.70"/><circle cx="1021.9" cy="446.4" r="2.70"/><circle cx="1026.1" cy="446.4" r="2.70"/><circle cx="1030.3" cy="446.4" r="2.70"/><circle cx="1034.6" cy="446.4" r="2.70"/><circle cx="1038.8" cy="446.4" r="2.70"/><circle cx="1043.0" cy="446.4" r="2.70"/><circle cx="1047.2" cy="446.4" r="2.70"/><circle cx="1051.4" cy="446.4" r="2.70"/><circle cx="1055.6" cy="446.4" r="2.70"/><circle cx="1059.8" cy="446.4" r="2.70"/><circle cx="1064.0" cy="446.4" r="2.70"/><circle cx="1068.2" cy="446.5" r="2.70"/><circle cx="1072.4" cy="446.5" r="2.70"/><circle cx="1076.6" cy="446.5" r="2.70"/><circle cx="1080.8" cy="446.5" r="2.70"/><circle cx="1085.0" cy="446.5" r="2.70"/><circle cx="1089.2" cy="446.5" r="2.70"/><circle cx="1093.4" cy="446.5" r="2.70"/><circle cx="1097.6" cy="446.5" r="2.70"/><circle cx="1101.8" cy="446.5" r="2.70"/></g>
<path d="M685.7 446.6 L1110.2 446.6" stroke="#0000ff" stroke-width="4.1" stroke-dasharray="21.6 5.4 3.4 5.4" fill="none"/>
</g>
<g stroke="#000" stroke-width="0.85" fill="none"><path d="M660.20 146.45 H1131.90 M660.20 458.00 H1131.90" stroke-opacity="0.50"/><path d="M660.60 146.45 V458.00 M1131.50 146.45 V458.00" stroke-opacity="0.68"/></g>
<path d="M681.5 458.0 v2.5" stroke="#000" stroke-opacity="0.55" stroke-width="0.7"/><text x="681.8" y="476.1" text-anchor="middle" font-size="18.0">0</text><path d="M765.6 458.0 v2.5" stroke="#000" stroke-opacity="0.55" stroke-width="0.7"/><text x="765.9" y="476.1" text-anchor="middle" font-size="18.0">20</text><path d="M849.6 458.0 v2.5" stroke="#000" stroke-opacity="0.55" stroke-width="0.7"/><text x="849.9" y="476.1" text-anchor="middle" font-size="18.0">40</text><path d="M933.7 458.0 v2.5" stroke="#000" stroke-opacity="0.55" stroke-width="0.7"/><text x="934.0" y="476.1" text-anchor="middle" font-size="18.0">60</text><path d="M1017.7 458.0 v2.5" stroke="#000" stroke-opacity="0.55" stroke-width="0.7"/><text x="1018.0" y="476.1" text-anchor="middle" font-size="18.0">80</text><path d="M1101.8 458.0 v2.5" stroke="#000" stroke-opacity="0.55" stroke-width="0.7"/><text x="1102.1" y="476.1" text-anchor="middle" font-size="18.0">100</text><path d="M660.6 179.5 h-2.5" stroke="#000" stroke-opacity="0.55" stroke-width="0.7"/><text x="656.8" y="186.8" text-anchor="end" font-size="18.0">0.5</text><path d="M660.6 245.9 h-2.5" stroke="#000" stroke-opacity="0.55" stroke-width="0.7"/><text x="656.8" y="253.2" text-anchor="end" font-size="18.0">0.0</text><path d="M660.6 312.3 h-2.5" stroke="#000" stroke-opacity="0.55" stroke-width="0.7"/><text x="656.8" y="319.6" text-anchor="end" font-size="18.0">−0.5</text><path d="M660.6 378.7 h-2.5" stroke="#000" stroke-opacity="0.55" stroke-width="0.7"/><text x="656.8" y="386.0" text-anchor="end" font-size="18.0">−1.0</text><path d="M660.6 445.1 h-2.5" stroke="#000" stroke-opacity="0.55" stroke-width="0.7"/><text x="656.8" y="452.4" text-anchor="end" font-size="18.0">−1.5</text>
<text x="896.0" y="495.9" text-anchor="middle" font-size="18.0">iterations</text>
<text transform="translate(609.0 304.5) rotate(-90)" text-anchor="middle" font-size="18.0">Energy</text>
<rect x="935.3" y="155.2" width="187.1" height="111.4" rx="3.5" fill="#fff" fill-opacity="0.8" stroke="#d4d4d4" stroke-opacity="0.8" stroke-width="0.9"/>
<path d="M942.6 169.9 H979.1" stroke="#ff0000" stroke-width="3.4" stroke-dasharray="12.5 5.4" fill="none"/>
<circle cx="960.8" cy="169.9" r="2.5" fill="#ff0000"/>
<text x="992.7" y="176.7" font-size="18.0">Random path</text>
<path d="M942.6 196.4 H979.1" stroke="#000000" stroke-width="3.4" stroke-dasharray="12.5 5.4" fill="none"/>
<circle cx="960.8" cy="196.4" r="2.5" fill="#000000"/>
<text x="992.7" y="203.2" font-size="18.0">Shortest path</text>
<path d="M942.6 222.9 H979.1" stroke="#008000" stroke-width="3.4" stroke-dasharray="12.5 5.4" fill="none"/>
<circle cx="960.8" cy="222.9" r="2.5" fill="#008000"/>
<text x="992.7" y="229.7" font-size="18.0">SGD</text>
<path d="M942.6 249.4 H979.1" stroke="#0000ff" stroke-width="3.4" stroke-dasharray="21.6 5.4 3.4 5.4" fill="none"/>
<text x="992.7" y="256.2" font-size="18.0">Exact energy</text>
<clipPath id="clip2"><rect x="1236.5" y="146.4" width="470.2" height="311.6"/></clipPath>
<g clip-path="url(#clip2)">
<path d="M1257.3 199.8 L1259.4 236.0 L1261.5 266.6 L1261.5 267.3 L1263.7 294.0 L1264.9 306.5 L1265.8 314.9 L1267.9 331.3 L1268.1 332.4 L1269.0 339.7 L1270.0 347.7 L1272.1 364.2 L1273.2 372.8 L1274.3 384.2 L1276.4 405.4 L1276.5 406.0 L1278.5 417.7 L1278.8 419.1 L1280.6 425.8 L1280.6 425.9 L1282.8 431.5 L1284.9 435.6 L1286.4 437.5 L1287.0 437.9 L1289.1 439.5 L1289.6 439.8 L1291.2 440.7 L1293.4 441.7 L1295.5 442.5 L1297.6 443.1 L1298.0 443.2 L1299.7 443.6 L1300.3 443.8 L1301.8 444.1 L1304.0 444.5 L1306.1 444.8 L1308.2 445.2 L1310.3 445.4 L1311.1 445.5 L1312.4 445.6 L1314.6 445.7 L1314.6 445.7 L1316.7 445.8 L1318.8 445.9 L1320.9 446.0 L1321.8 446.1 L1323.1 446.1 L1325.2 446.2 L1327.3 446.3 L1329.4 446.3 L1331.5 446.4 L1332.6 446.4 L1333.7 446.4 L1335.8 446.5 L1337.9 446.5 L1340.0 446.5 L1341.2 446.5 L1342.1 446.5 L1343.4 446.5 L1344.3 446.5 L1346.4 446.5 L1348.5 446.5 L1350.6 446.5 L1352.7 446.5 L1354.1 446.5 L1354.9 446.5 L1357.0 446.5 L1359.1 446.5 L1361.2 446.5 L1363.4 446.5 L1364.9 446.5 L1365.5 446.5 L1367.6 446.5 L1369.7 446.5 L1371.8 446.5 L1374.0 446.5 L1375.6 446.5 L1376.1 446.5 L1378.2 446.5 L1380.3 446.5 L1382.4 446.5 L1384.6 446.5 L1386.4 446.5 L1386.7 446.5 L1388.8 446.5 L1390.9 446.5 L1393.0 446.5 L1395.2 446.5 L1397.1 446.5 L1397.3 446.5 L1399.4 446.5 L1401.5 446.5 L1403.7 446.5 L1405.8 446.5 L1407.9 446.5 L1407.9 446.5 L1410.0 446.5 L1412.1 446.5 L1414.3 446.5 L1416.4 446.5 L1418.5 446.5 L1418.6 446.5 L1420.6 446.5 L1422.7 446.5 L1424.9 446.5 L1427.0 446.5 L1429.1 446.5 L1429.4 446.5 L1431.2 446.5 L1433.3 446.5 L1435.5 446.5 L1437.6 446.5 L1439.7 446.5 L1440.2 446.5 L1441.8 446.5 L1444.0 446.5 L1446.1 446.5 L1450.9 446.5 L1461.7 446.5 L1472.4 446.5 L1483.2 446.5 L1493.9 446.5 L1504.7 446.5 L1515.5 446.5 L1526.2 446.5 L1537.0 446.5 L1547.7 446.5 L1558.5 446.5 L1569.2 446.5 L1580.0 446.5 L1590.7 446.5 L1601.5 446.4 L1612.3 446.4 L1623.0 446.4 L1633.8 446.4 L1644.5 446.4 L1655.3 446.4 L1666.0 446.4 L1676.8 446.4 L1676.8 447.3 L1666.0 447.3 L1655.3 447.3 L1644.5 447.3 L1633.8 447.3 L1623.0 447.3 L1612.3 447.3 L1601.5 447.3 L1590.7 447.2 L1580.0 447.2 L1569.2 447.2 L1558.5 447.2 L1547.7 447.2 L1537.0 447.2 L1526.2 447.2 L1515.5 447.2 L1504.7 447.2 L1493.9 447.2 L1483.2 447.2 L1472.4 447.2 L1461.7 447.1 L1450.9 447.1 L1446.1 447.1 L1444.0 447.1 L1441.8 447.1 L1440.2 447.1 L1439.7 447.1 L1437.6 447.1 L1435.5 447.1 L1433.3 447.1 L1431.2 447.1 L1429.4 447.1 L1429.1 447.1 L1427.0 447.1 L1424.9 447.1 L1422.7 447.1 L1420.6 447.1 L1418.6 447.1 L1418.5 447.1 L1416.4 447.1 L1414.3 447.1 L1412.1 447.1 L1410.0 447.1 L1407.9 447.1 L1407.9 447.1 L1405.8 447.1 L1403.7 447.1 L1401.5 447.1 L1399.4 447.1 L1397.3 447.0 L1397.1 447.0 L1395.2 447.0 L1393.0 447.0 L1390.9 447.0 L1388.8 447.0 L1386.7 447.0 L1386.4 447.0 L1384.6 447.0 L1382.4 447.0 L1380.3 447.0 L1378.2 447.0 L1376.1 447.0 L1375.6 447.0 L1374.0 447.0 L1371.8 447.0 L1369.7 447.0 L1367.6 447.0 L1365.5 447.0 L1364.9 447.0 L1363.4 447.0 L1361.2 447.0 L1359.1 447.0 L1357.0 447.0 L1354.9 447.0 L1354.1 447.0 L1352.7 447.0 L1350.6 447.0 L1348.5 447.0 L1346.4 446.9 L1344.3 446.9 L1343.4 446.9 L1342.1 446.9 L1340.0 446.9 L1337.9 446.9 L1335.8 446.9 L1333.7 446.9 L1332.6 446.9 L1331.5 446.9 L1329.4 446.9 L1327.3 446.9 L1325.2 446.9 L1323.1 446.9 L1321.8 446.9 L1320.9 446.9 L1318.8 446.9 L1316.7 446.9 L1314.6 446.9 L1312.4 446.9 L1311.1 446.9 L1310.3 446.9 L1308.2 446.9 L1306.1 446.8 L1304.0 446.8 L1301.8 446.8 L1300.3 446.8 L1299.7 446.8 L1299.2 446.8 L1297.6 446.8 L1295.5 446.8 L1293.4 446.8 L1291.2 446.8 L1289.6 446.8 L1289.1 446.8 L1287.0 446.8 L1284.9 446.7 L1282.8 446.7 L1280.6 446.7 L1278.8 446.6 L1278.5 446.6 L1276.4 446.6 L1274.3 446.5 L1273.2 446.5 L1272.1 446.4 L1270.0 445.8 L1268.1 444.8 L1267.9 444.7 L1265.8 443.0 L1264.9 442.1 L1263.7 439.9 L1261.5 431.0 L1260.7 425.8 L1259.4 412.2 L1259.0 406.2 L1257.3 381.1Z" fill="#ff0000" fill-opacity="0.20" stroke="#ff0000" stroke-opacity="0.20" stroke-width="0.5"/>
<path d="M1257.3 199.8 L1259.4 226.7 L1261.5 269.9 L1261.5 271.0 L1263.6 337.5 L1263.7 339.8 L1265.7 402.9 L1265.8 404.0 L1267.9 422.1 L1268.1 423.0 L1269.9 430.2 L1270.0 430.5 L1272.1 434.7 L1274.3 437.7 L1276.4 439.8 L1278.3 441.1 L1278.5 441.2 L1278.8 441.4 L1280.6 442.3 L1282.8 443.3 L1284.9 444.1 L1287.0 444.7 L1289.1 445.2 L1289.6 445.2 L1290.9 445.4 L1291.2 445.5 L1293.4 445.7 L1295.5 445.9 L1297.6 446.1 L1299.7 446.2 L1300.3 446.3 L1301.8 446.3 L1304.0 446.4 L1306.1 446.5 L1307.6 446.5 L1308.2 446.5 L1310.3 446.5 L1311.1 446.5 L1312.4 446.5 L1314.6 446.5 L1316.7 446.5 L1318.8 446.5 L1320.9 446.5 L1321.8 446.5 L1323.1 446.5 L1325.2 446.5 L1327.3 446.5 L1329.4 446.5 L1331.5 446.5 L1332.6 446.5 L1333.7 446.5 L1335.8 446.5 L1337.9 446.5 L1340.0 446.5 L1342.1 446.5 L1343.4 446.5 L1344.3 446.5 L1346.4 446.5 L1348.5 446.5 L1350.6 446.5 L1352.7 446.5 L1354.1 446.5 L1354.9 446.5 L1357.0 446.5 L1359.1 446.5 L1361.2 446.5 L1363.4 446.5 L1364.9 446.5 L1365.5 446.5 L1367.6 446.5 L1369.7 446.5 L1371.8 446.5 L1374.0 446.5 L1375.6 446.5 L1376.1 446.5 L1378.2 446.5 L1380.3 446.5 L1382.4 446.5 L1384.6 446.5 L1386.4 446.5 L1386.7 446.5 L1388.8 446.5 L1390.9 446.5 L1393.0 446.5 L1395.2 446.5 L1397.1 446.5 L1397.3 446.5 L1399.4 446.5 L1401.5 446.5 L1403.7 446.5 L1405.8 446.5 L1407.9 446.5 L1407.9 446.5 L1410.0 446.5 L1412.1 446.5 L1414.3 446.5 L1416.4 446.5 L1418.5 446.5 L1418.6 446.5 L1420.6 446.5 L1422.7 446.5 L1424.9 446.5 L1427.0 446.5 L1429.1 446.5 L1429.4 446.5 L1431.2 446.5 L1433.3 446.5 L1435.5 446.5 L1437.6 446.5 L1439.7 446.5 L1440.2 446.5 L1441.8 446.5 L1444.0 446.5 L1446.1 446.5 L1450.9 446.5 L1461.7 446.5 L1472.4 446.5 L1483.2 446.5 L1493.9 446.5 L1504.7 446.5 L1515.5 446.5 L1526.2 446.5 L1537.0 446.5 L1547.7 446.5 L1558.5 446.5 L1569.2 446.5 L1580.0 446.5 L1590.7 446.5 L1601.5 446.4 L1612.3 446.4 L1623.0 446.4 L1633.8 446.4 L1644.5 446.4 L1655.3 446.4 L1666.0 446.4 L1676.8 446.4 L1676.8 447.3 L1666.0 447.3 L1655.3 447.3 L1644.5 447.3 L1633.8 447.3 L1623.0 447.3 L1612.3 447.3 L1601.5 447.3 L1590.7 447.2 L1580.0 447.2 L1569.2 447.2 L1558.5 447.2 L1547.7 447.2 L1537.0 447.2 L1526.2 447.2 L1515.5 447.2 L1504.7 447.2 L1493.9 447.2 L1483.2 447.2 L1472.4 447.2 L1461.7 447.2 L1450.9 447.1 L1446.1 447.1 L1444.0 447.1 L1441.8 447.1 L1440.2 447.1 L1439.7 447.1 L1437.6 447.1 L1435.5 447.1 L1433.3 447.1 L1431.2 447.1 L1429.4 447.1 L1429.1 447.1 L1427.0 447.1 L1424.9 447.1 L1422.7 447.1 L1420.6 447.1 L1418.6 447.1 L1418.5 447.1 L1416.4 447.1 L1414.3 447.1 L1412.1 447.1 L1410.0 447.1 L1407.9 447.1 L1407.9 447.1 L1405.8 447.1 L1403.7 447.1 L1401.5 447.1 L1399.4 447.1 L1397.3 447.1 L1397.1 447.1 L1395.2 447.1 L1393.0 447.0 L1390.9 447.0 L1388.8 447.0 L1386.7 447.0 L1386.4 447.0 L1384.6 447.0 L1382.4 447.0 L1380.3 447.0 L1378.2 447.0 L1376.1 447.0 L1375.6 447.0 L1374.0 447.0 L1371.8 447.0 L1369.7 447.0 L1367.6 447.0 L1365.5 447.0 L1364.9 447.0 L1363.4 447.0 L1361.2 447.0 L1359.1 447.0 L1357.0 447.0 L1354.9 447.0 L1354.1 447.0 L1352.7 447.0 L1350.6 447.0 L1348.5 447.0 L1346.4 447.0 L1344.3 446.9 L1343.4 446.9 L1342.1 446.9 L1340.0 446.9 L1337.9 446.9 L1335.8 446.9 L1333.7 446.9 L1332.6 446.9 L1331.5 446.9 L1329.4 446.9 L1327.3 446.9 L1325.2 446.9 L1323.1 446.9 L1321.8 446.9 L1320.9 446.9 L1318.8 446.9 L1316.7 446.9 L1314.6 446.9 L1312.4 446.9 L1311.1 446.9 L1310.3 446.9 L1308.2 446.9 L1306.1 446.8 L1304.0 446.8 L1301.8 446.8 L1300.3 446.8 L1299.7 446.8 L1299.2 446.8 L1297.6 446.8 L1295.5 446.8 L1293.4 446.8 L1291.2 446.8 L1289.6 446.7 L1289.1 446.7 L1287.0 446.7 L1284.9 446.7 L1282.8 446.6 L1280.6 446.6 L1278.8 446.5 L1278.5 446.5 L1278.3 446.5 L1276.4 446.4 L1274.3 446.2 L1272.1 445.9 L1270.0 445.4 L1269.9 445.4 L1268.1 444.3 L1267.9 444.2 L1265.8 441.2 L1265.7 441.1 L1263.7 428.1 L1261.5 403.5 L1261.5 402.9 L1259.4 370.8 L1257.3 326.6Z" fill="#000000" fill-opacity="0.25" stroke="#000000" stroke-opacity="0.25" stroke-width="0.5"/>
<path d="M1261.5 211.5 L1263.6 217.8 L1265.6 224.7 L1267.7 232.0 L1268.1 233.3 L1269.8 239.6 L1271.9 247.8 L1272.1 249.0 L1273.5 255.2 L1273.9 257.1 L1276.0 268.0 L1278.1 281.0 L1278.2 281.7 L1280.2 298.6 L1280.4 300.4 L1282.2 317.6 L1282.8 322.9 L1284.3 336.3 L1284.7 339.7 L1286.4 351.8 L1288.5 365.5 L1289.7 372.8 L1290.5 377.6 L1292.6 388.4 L1293.4 392.4 L1294.6 397.7 L1294.7 397.8 L1296.8 406.4 L1298.8 413.7 L1299.7 416.0 L1300.9 418.8 L1303.0 422.7 L1304.1 424.5 L1305.0 425.9 L1306.3 427.5 L1307.1 428.6 L1309.2 431.0 L1311.3 433.2 L1313.3 434.9 L1314.6 435.8 L1314.7 435.9 L1315.4 436.4 L1317.5 437.6 L1319.6 438.6 L1321.6 439.5 L1322.7 440.0 L1323.7 440.3 L1325.4 441.0 L1325.8 441.1 L1327.9 441.9 L1329.9 442.5 L1332.0 443.1 L1332.8 443.2 L1334.1 443.5 L1336.0 443.9 L1336.2 443.9 L1338.2 444.3 L1340.3 444.6 L1342.4 444.9 L1344.5 445.1 L1346.5 445.3 L1346.7 445.4 L1347.5 445.4 L1348.6 445.5 L1350.7 445.6 L1352.7 445.7 L1354.8 445.9 L1356.9 446.0 L1357.3 446.0 L1359.0 446.1 L1361.0 446.2 L1363.1 446.3 L1365.2 446.3 L1367.3 446.4 L1368.0 446.4 L1369.3 446.4 L1371.4 446.5 L1373.5 446.5 L1374.8 446.5 L1375.6 446.5 L1377.6 446.5 L1378.6 446.5 L1379.7 446.5 L1381.8 446.5 L1383.9 446.5 L1385.9 446.5 L1388.0 446.5 L1389.3 446.5 L1390.1 446.5 L1392.2 446.5 L1394.2 446.5 L1396.3 446.5 L1398.4 446.5 L1399.9 446.5 L1400.4 446.5 L1402.5 446.5 L1404.6 446.5 L1406.7 446.5 L1408.7 446.5 L1410.6 446.5 L1410.8 446.5 L1412.9 446.5 L1415.0 446.5 L1417.0 446.5 L1419.1 446.5 L1421.2 446.5 L1421.2 446.5 L1423.3 446.5 L1425.3 446.5 L1427.4 446.5 L1429.5 446.5 L1431.6 446.5 L1431.9 446.5 L1433.6 446.5 L1435.7 446.5 L1437.8 446.5 L1439.9 446.5 L1441.9 446.5 L1442.5 446.5 L1444.0 446.5 L1446.1 446.5 L1453.2 446.5 L1463.8 446.5 L1474.5 446.5 L1485.1 446.5 L1495.8 446.5 L1506.4 446.5 L1517.1 446.5 L1527.7 446.5 L1538.4 446.5 L1549.0 446.5 L1559.7 446.5 L1570.3 446.5 L1581.0 446.5 L1591.6 446.5 L1602.3 446.5 L1612.9 446.4 L1623.6 446.4 L1634.2 446.4 L1644.9 446.4 L1655.5 446.4 L1666.2 446.4 L1676.8 446.4 L1676.8 447.3 L1666.2 447.3 L1655.5 447.3 L1644.9 447.3 L1634.2 447.3 L1623.6 447.3 L1612.9 447.3 L1602.3 447.3 L1591.6 447.2 L1581.0 447.2 L1570.3 447.2 L1559.7 447.2 L1549.0 447.2 L1538.4 447.2 L1527.7 447.2 L1517.1 447.2 L1506.4 447.2 L1495.8 447.2 L1485.1 447.2 L1474.5 447.2 L1463.8 447.1 L1453.2 447.1 L1446.1 447.1 L1444.0 447.1 L1442.5 447.1 L1441.9 447.1 L1439.9 447.1 L1437.8 447.1 L1435.7 447.1 L1433.6 447.1 L1431.9 447.1 L1431.6 447.1 L1429.5 447.1 L1427.4 447.1 L1425.3 447.1 L1423.3 447.1 L1421.2 447.1 L1421.2 447.1 L1419.1 447.1 L1417.0 447.1 L1415.0 447.1 L1412.9 447.1 L1410.8 447.0 L1410.6 447.0 L1408.7 447.0 L1406.7 447.0 L1404.6 447.0 L1402.5 447.0 L1400.4 447.0 L1399.9 447.0 L1398.4 447.0 L1396.3 447.0 L1394.2 447.0 L1392.2 447.0 L1390.1 447.0 L1389.3 447.0 L1388.0 447.0 L1385.9 447.0 L1383.9 447.0 L1381.8 447.0 L1379.7 447.0 L1378.6 447.0 L1377.6 447.0 L1375.6 447.0 L1373.5 447.0 L1371.4 447.0 L1369.3 447.0 L1368.0 447.0 L1367.3 447.0 L1365.2 446.9 L1363.1 446.9 L1361.0 446.9 L1359.0 446.9 L1357.3 446.9 L1356.9 446.9 L1354.8 446.9 L1352.7 446.9 L1350.7 446.9 L1348.6 446.9 L1346.7 446.9 L1346.5 446.9 L1344.5 446.9 L1342.4 446.9 L1340.3 446.9 L1338.2 446.9 L1336.2 446.9 L1336.0 446.9 L1334.1 446.9 L1332.0 446.9 L1329.9 446.9 L1327.9 446.8 L1325.8 446.8 L1325.4 446.8 L1323.7 446.8 L1321.6 446.8 L1320.2 446.8 L1319.6 446.8 L1317.5 446.8 L1315.4 446.8 L1314.7 446.8 L1313.3 446.8 L1311.3 446.8 L1309.2 446.7 L1307.1 446.7 L1305.0 446.7 L1304.1 446.6 L1303.0 446.6 L1300.9 446.6 L1298.8 446.5 L1298.0 446.5 L1296.8 446.5 L1294.7 446.3 L1293.4 446.3 L1292.6 446.2 L1290.5 446.0 L1288.5 445.7 L1286.4 445.4 L1284.3 445.1 L1283.1 444.9 L1282.8 444.8 L1282.2 444.7 L1280.2 444.0 L1278.1 443.0 L1276.0 441.7 L1274.8 440.7 L1273.9 439.9 L1272.1 437.1 L1271.9 436.5 L1269.8 430.8 L1269.8 430.6 L1267.7 411.1 L1267.3 406.0 L1265.6 374.8 L1264.9 356.2 L1263.6 313.5 L1263.2 306.5 L1261.5 299.4Z" fill="#008000" fill-opacity="0.30" stroke="#008000" stroke-opacity="0.30" stroke-width="0.5"/>
<path d="M1257.3 280.9 L1261.5 324.0 L1265.7 359.6 L1269.9 395.2 L1274.1 425.0 L1278.3 433.3 L1282.5 439.1 L1286.7 441.6 L1290.9 443.2 L1295.1 444.2 L1299.2 444.9 L1303.4 445.5 L1307.6 446.0 L1311.8 446.2 L1316.0 446.4 L1320.2 446.5 L1324.4 446.5 L1328.6 446.5 L1332.8 446.5 L1337.0 446.5 L1341.2 446.6 L1345.4 446.6 L1349.6 446.6 L1353.8 446.6 L1358.0 446.6 L1362.2 446.6 L1366.4 446.6 L1370.6 446.6 L1374.8 446.6 L1379.0 446.6 L1383.1 446.6 L1387.3 446.6 L1391.5 446.7 L1395.7 446.7 L1399.9 446.7 L1404.1 446.7 L1408.3 446.7 L1412.5 446.7 L1416.7 446.7 L1420.9 446.7 L1425.1 446.7 L1429.3 446.7 L1433.5 446.7 L1437.7 446.7 L1441.9 446.7 L1446.1 446.7 L1450.3 446.7 L1454.5 446.7 L1458.7 446.7 L1462.9 446.7 L1467.0 446.8 L1471.2 446.8 L1475.4 446.8 L1479.6 446.8 L1483.8 446.8 L1488.0 446.8 L1492.2 446.8 L1496.4 446.8 L1500.6 446.8 L1504.8 446.8 L1509.0 446.8 L1513.2 446.8 L1517.4 446.8 L1521.6 446.8 L1525.8 446.8 L1530.0 446.8 L1534.2 446.8 L1538.4 446.8 L1542.6 446.8 L1546.8 446.8 L1551.0 446.8 L1555.1 446.8 L1559.3 446.8 L1563.5 446.8 L1567.7 446.8 L1571.9 446.8 L1576.1 446.8 L1580.3 446.8 L1584.5 446.8 L1588.7 446.8 L1592.9 446.8 L1597.1 446.8 L1601.3 446.8 L1605.5 446.8 L1609.7 446.8 L1613.9 446.8 L1618.1 446.8 L1622.3 446.8 L1626.5 446.8 L1630.7 446.8 L1634.8 446.8 L1639.0 446.8 L1643.2 446.8 L1647.4 446.8 L1651.6 446.8 L1655.8 446.8 L1660.0 446.8 L1664.2 446.8 L1668.4 446.8 L1672.6 446.8 L1676.8 446.8" fill="none" stroke="#ff0000" stroke-width="3.6" stroke-dasharray="12.5 5.4"/>
<g fill="#ff0000"><circle cx="1257.3" cy="280.9" r="2.70"/><circle cx="1261.5" cy="324.0" r="2.70"/><circle cx="1265.7" cy="359.6" r="2.70"/><circle cx="1269.9" cy="395.2" r="2.70"/><circle cx="1274.1" cy="425.0" r="2.70"/><circle cx="1278.3" cy="433.3" r="2.70"/><circle cx="1282.5" cy="439.1" r="2.70"/><circle cx="1286.7" cy="441.6" r="2.70"/><circle cx="1290.9" cy="443.2" r="2.70"/><circle cx="1295.1" cy="444.2" r="2.70"/><circle cx="1299.2" cy="444.9" r="2.70"/><circle cx="1303.4" cy="445.5" r="2.70"/><circle cx="1307.6" cy="446.0" r="2.70"/><circle cx="1311.8" cy="446.2" r="2.70"/><circle cx="1316.0" cy="446.4" r="2.70"/><circle cx="1320.2" cy="446.5" r="2.70"/><circle cx="1324.4" cy="446.5" r="2.70"/><circle cx="1328.6" cy="446.5" r="2.70"/><circle cx="1332.8" cy="446.5" r="2.70"/><circle cx="1337.0" cy="446.5" r="2.70"/><circle cx="1341.2" cy="446.6" r="2.70"/><circle cx="1345.4" cy="446.6" r="2.70"/><circle cx="1349.6" cy="446.6" r="2.70"/><circle cx="1353.8" cy="446.6" r="2.70"/><circle cx="1358.0" cy="446.6" r="2.70"/><circle cx="1362.2" cy="446.6" r="2.70"/><circle cx="1366.4" cy="446.6" r="2.70"/><circle cx="1370.6" cy="446.6" r="2.70"/><circle cx="1374.8" cy="446.6" r="2.70"/><circle cx="1379.0" cy="446.6" r="2.70"/><circle cx="1383.1" cy="446.6" r="2.70"/><circle cx="1387.3" cy="446.6" r="2.70"/><circle cx="1391.5" cy="446.7" r="2.70"/><circle cx="1395.7" cy="446.7" r="2.70"/><circle cx="1399.9" cy="446.7" r="2.70"/><circle cx="1404.1" cy="446.7" r="2.70"/><circle cx="1408.3" cy="446.7" r="2.70"/><circle cx="1412.5" cy="446.7" r="2.70"/><circle cx="1416.7" cy="446.7" r="2.70"/><circle cx="1420.9" cy="446.7" r="2.70"/><circle cx="1425.1" cy="446.7" r="2.70"/><circle cx="1429.3" cy="446.7" r="2.70"/><circle cx="1433.5" cy="446.7" r="2.70"/><circle cx="1437.7" cy="446.7" r="2.70"/><circle cx="1441.9" cy="446.7" r="2.70"/><circle cx="1446.1" cy="446.7" r="2.70"/><circle cx="1450.3" cy="446.7" r="2.70"/><circle cx="1454.5" cy="446.7" r="2.70"/><circle cx="1458.7" cy="446.7" r="2.70"/><circle cx="1462.9" cy="446.7" r="2.70"/><circle cx="1467.0" cy="446.8" r="2.70"/><circle cx="1471.2" cy="446.8" r="2.70"/><circle cx="1475.4" cy="446.8" r="2.70"/><circle cx="1479.6" cy="446.8" r="2.70"/><circle cx="1483.8" cy="446.8" r="2.70"/><circle cx="1488.0" cy="446.8" r="2.70"/><circle cx="1492.2" cy="446.8" r="2.70"/><circle cx="1496.4" cy="446.8" r="2.70"/><circle cx="1500.6" cy="446.8" r="2.70"/><circle cx="1504.8" cy="446.8" r="2.70"/><circle cx="1509.0" cy="446.8" r="2.70"/><circle cx="1513.2" cy="446.8" r="2.70"/><circle cx="1517.4" cy="446.8" r="2.70"/><circle cx="1521.6" cy="446.8" r="2.70"/><circle cx="1525.8" cy="446.8" r="2.70"/><circle cx="1530.0" cy="446.8" r="2.70"/><circle cx="1534.2" cy="446.8" r="2.70"/><circle cx="1538.4" cy="446.8" r="2.70"/><circle cx="1542.6" cy="446.8" r="2.70"/><circle cx="1546.8" cy="446.8" r="2.70"/><circle cx="1551.0" cy="446.8" r="2.70"/><circle cx="1555.1" cy="446.8" r="2.70"/><circle cx="1559.3" cy="446.8" r="2.70"/><circle cx="1563.5" cy="446.8" r="2.70"/><circle cx="1567.7" cy="446.8" r="2.70"/><circle cx="1571.9" cy="446.8" r="2.70"/><circle cx="1576.1" cy="446.8" r="2.70"/><circle cx="1580.3" cy="446.8" r="2.70"/><circle cx="1584.5" cy="446.8" r="2.70"/><circle cx="1588.7" cy="446.8" r="2.70"/><circle cx="1592.9" cy="446.8" r="2.70"/><circle cx="1597.1" cy="446.8" r="2.70"/><circle cx="1601.3" cy="446.8" r="2.70"/><circle cx="1605.5" cy="446.8" r="2.70"/><circle cx="1609.7" cy="446.8" r="2.70"/><circle cx="1613.9" cy="446.8" r="2.70"/><circle cx="1618.1" cy="446.8" r="2.70"/><circle cx="1622.3" cy="446.8" r="2.70"/><circle cx="1626.5" cy="446.8" r="2.70"/><circle cx="1630.7" cy="446.8" r="2.70"/><circle cx="1634.8" cy="446.8" r="2.70"/><circle cx="1639.0" cy="446.8" r="2.70"/><circle cx="1643.2" cy="446.8" r="2.70"/><circle cx="1647.4" cy="446.8" r="2.70"/><circle cx="1651.6" cy="446.8" r="2.70"/><circle cx="1655.8" cy="446.8" r="2.70"/><circle cx="1660.0" cy="446.8" r="2.70"/><circle cx="1664.2" cy="446.8" r="2.70"/><circle cx="1668.4" cy="446.8" r="2.70"/><circle cx="1672.6" cy="446.8" r="2.70"/><circle cx="1676.8" cy="446.8" r="2.70"/></g>
<path d="M1257.3 265.8 L1261.5 364.5 L1265.7 427.5 L1269.9 438.3 L1274.1 442.1 L1278.3 443.8 L1282.5 444.9 L1286.7 445.5 L1290.9 446.0 L1295.1 446.3 L1299.2 446.5 L1303.4 446.5 L1307.6 446.5 L1311.8 446.5 L1316.0 446.5 L1320.2 446.5 L1324.4 446.6 L1328.6 446.6 L1332.8 446.6 L1337.0 446.6 L1341.2 446.6 L1345.4 446.6 L1349.6 446.6 L1353.8 446.6 L1358.0 446.6 L1362.2 446.6 L1366.4 446.6 L1370.6 446.6 L1374.8 446.7 L1379.0 446.7 L1383.1 446.7 L1387.3 446.7 L1391.5 446.7 L1395.7 446.7 L1399.9 446.7 L1404.1 446.7 L1408.3 446.7 L1412.5 446.7 L1416.7 446.7 L1420.9 446.7 L1425.1 446.7 L1429.3 446.7 L1433.5 446.7 L1437.7 446.7 L1441.9 446.7 L1446.1 446.7 L1450.3 446.7 L1454.5 446.8 L1458.7 446.8 L1462.9 446.8 L1467.0 446.8 L1471.2 446.8 L1475.4 446.8 L1479.6 446.8 L1483.8 446.8 L1488.0 446.8 L1492.2 446.8 L1496.4 446.8 L1500.6 446.8 L1504.8 446.8 L1509.0 446.8 L1513.2 446.8 L1517.4 446.8 L1521.6 446.8 L1525.8 446.8 L1530.0 446.8 L1534.2 446.8 L1538.4 446.8 L1542.6 446.8 L1546.8 446.8 L1551.0 446.8 L1555.1 446.8 L1559.3 446.8 L1563.5 446.8 L1567.7 446.8 L1571.9 446.8 L1576.1 446.8 L1580.3 446.8 L1584.5 446.8 L1588.7 446.8 L1592.9 446.8 L1597.1 446.8 L1601.3 446.8 L1605.5 446.8 L1609.7 446.8 L1613.9 446.8 L1618.1 446.8 L1622.3 446.8 L1626.5 446.8 L1630.7 446.8 L1634.8 446.8 L1639.0 446.8 L1643.2 446.8 L1647.4 446.8 L1651.6 446.8 L1655.8 446.8 L1660.0 446.8 L1664.2 446.8 L1668.4 446.8 L1672.6 446.8 L1676.8 446.8" fill="none" stroke="#000000" stroke-width="3.6" stroke-dasharray="12.5 5.4"/>
<g fill="#000000"><circle cx="1257.3" cy="265.8" r="2.70"/><circle cx="1261.5" cy="364.5" r="2.70"/><circle cx="1265.7" cy="427.5" r="2.70"/><circle cx="1269.9" cy="438.3" r="2.70"/><circle cx="1274.1" cy="442.1" r="2.70"/><circle cx="1278.3" cy="443.8" r="2.70"/><circle cx="1282.5" cy="444.9" r="2.70"/><circle cx="1286.7" cy="445.5" r="2.70"/><circle cx="1290.9" cy="446.0" r="2.70"/><circle cx="1295.1" cy="446.3" r="2.70"/><circle cx="1299.2" cy="446.5" r="2.70"/><circle cx="1303.4" cy="446.5" r="2.70"/><circle cx="1307.6" cy="446.5" r="2.70"/><circle cx="1311.8" cy="446.5" r="2.70"/><circle cx="1316.0" cy="446.5" r="2.70"/><circle cx="1320.2" cy="446.5" r="2.70"/><circle cx="1324.4" cy="446.6" r="2.70"/><circle cx="1328.6" cy="446.6" r="2.70"/><circle cx="1332.8" cy="446.6" r="2.70"/><circle cx="1337.0" cy="446.6" r="2.70"/><circle cx="1341.2" cy="446.6" r="2.70"/><circle cx="1345.4" cy="446.6" r="2.70"/><circle cx="1349.6" cy="446.6" r="2.70"/><circle cx="1353.8" cy="446.6" r="2.70"/><circle cx="1358.0" cy="446.6" r="2.70"/><circle cx="1362.2" cy="446.6" r="2.70"/><circle cx="1366.4" cy="446.6" r="2.70"/><circle cx="1370.6" cy="446.6" r="2.70"/><circle cx="1374.8" cy="446.7" r="2.70"/><circle cx="1379.0" cy="446.7" r="2.70"/><circle cx="1383.1" cy="446.7" r="2.70"/><circle cx="1387.3" cy="446.7" r="2.70"/><circle cx="1391.5" cy="446.7" r="2.70"/><circle cx="1395.7" cy="446.7" r="2.70"/><circle cx="1399.9" cy="446.7" r="2.70"/><circle cx="1404.1" cy="446.7" r="2.70"/><circle cx="1408.3" cy="446.7" r="2.70"/><circle cx="1412.5" cy="446.7" r="2.70"/><circle cx="1416.7" cy="446.7" r="2.70"/><circle cx="1420.9" cy="446.7" r="2.70"/><circle cx="1425.1" cy="446.7" r="2.70"/><circle cx="1429.3" cy="446.7" r="2.70"/><circle cx="1433.5" cy="446.7" r="2.70"/><circle cx="1437.7" cy="446.7" r="2.70"/><circle cx="1441.9" cy="446.7" r="2.70"/><circle cx="1446.1" cy="446.7" r="2.70"/><circle cx="1450.3" cy="446.7" r="2.70"/><circle cx="1454.5" cy="446.8" r="2.70"/><circle cx="1458.7" cy="446.8" r="2.70"/><circle cx="1462.9" cy="446.8" r="2.70"/><circle cx="1467.0" cy="446.8" r="2.70"/><circle cx="1471.2" cy="446.8" r="2.70"/><circle cx="1475.4" cy="446.8" r="2.70"/><circle cx="1479.6" cy="446.8" r="2.70"/><circle cx="1483.8" cy="446.8" r="2.70"/><circle cx="1488.0" cy="446.8" r="2.70"/><circle cx="1492.2" cy="446.8" r="2.70"/><circle cx="1496.4" cy="446.8" r="2.70"/><circle cx="1500.6" cy="446.8" r="2.70"/><circle cx="1504.8" cy="446.8" r="2.70"/><circle cx="1509.0" cy="446.8" r="2.70"/><circle cx="1513.2" cy="446.8" r="2.70"/><circle cx="1517.4" cy="446.8" r="2.70"/><circle cx="1521.6" cy="446.8" r="2.70"/><circle cx="1525.8" cy="446.8" r="2.70"/><circle cx="1530.0" cy="446.8" r="2.70"/><circle cx="1534.2" cy="446.8" r="2.70"/><circle cx="1538.4" cy="446.8" r="2.70"/><circle cx="1542.6" cy="446.8" r="2.70"/><circle cx="1546.8" cy="446.8" r="2.70"/><circle cx="1551.0" cy="446.8" r="2.70"/><circle cx="1555.1" cy="446.8" r="2.70"/><circle cx="1559.3" cy="446.8" r="2.70"/><circle cx="1563.5" cy="446.8" r="2.70"/><circle cx="1567.7" cy="446.8" r="2.70"/><circle cx="1571.9" cy="446.8" r="2.70"/><circle cx="1576.1" cy="446.8" r="2.70"/><circle cx="1580.3" cy="446.8" r="2.70"/><circle cx="1584.5" cy="446.8" r="2.70"/><circle cx="1588.7" cy="446.8" r="2.70"/><circle cx="1592.9" cy="446.8" r="2.70"/><circle cx="1597.1" cy="446.8" r="2.70"/><circle cx="1601.3" cy="446.8" r="2.70"/><circle cx="1605.5" cy="446.8" r="2.70"/><circle cx="1609.7" cy="446.8" r="2.70"/><circle cx="1613.9" cy="446.8" r="2.70"/><circle cx="1618.1" cy="446.8" r="2.70"/><circle cx="1622.3" cy="446.8" r="2.70"/><circle cx="1626.5" cy="446.8" r="2.70"/><circle cx="1630.7" cy="446.8" r="2.70"/><circle cx="1634.8" cy="446.8" r="2.70"/><circle cx="1639.0" cy="446.8" r="2.70"/><circle cx="1643.2" cy="446.8" r="2.70"/><circle cx="1647.4" cy="446.8" r="2.70"/><circle cx="1651.6" cy="446.8" r="2.70"/><circle cx="1655.8" cy="446.8" r="2.70"/><circle cx="1660.0" cy="446.8" r="2.70"/><circle cx="1664.2" cy="446.8" r="2.70"/><circle cx="1668.4" cy="446.8" r="2.70"/><circle cx="1672.6" cy="446.8" r="2.70"/><circle cx="1676.8" cy="446.8" r="2.70"/></g>
<path d="M1261.5 259.0 L1265.7 297.3 L1269.9 325.6 L1274.1 345.5 L1278.3 363.7 L1282.5 384.4 L1286.7 404.3 L1290.9 420.9 L1295.1 430.8 L1299.2 435.8 L1303.4 439.1 L1307.6 441.1 L1311.8 442.5 L1316.0 443.4 L1320.2 444.2 L1324.4 444.8 L1328.6 445.2 L1332.8 445.6 L1337.0 445.9 L1341.2 446.1 L1345.4 446.2 L1349.6 446.3 L1353.8 446.4 L1358.0 446.5 L1362.2 446.5 L1366.4 446.5 L1370.6 446.5 L1374.8 446.5 L1379.0 446.5 L1383.1 446.6 L1387.3 446.6 L1391.5 446.6 L1395.7 446.6 L1399.9 446.6 L1404.1 446.6 L1408.3 446.6 L1412.5 446.6 L1416.7 446.6 L1420.9 446.6 L1425.1 446.6 L1429.3 446.7 L1433.5 446.7 L1437.7 446.7 L1441.9 446.7 L1446.1 446.7 L1450.3 446.7 L1454.5 446.7 L1458.7 446.7 L1462.9 446.7 L1467.0 446.7 L1471.2 446.7 L1475.4 446.7 L1479.6 446.7 L1483.8 446.7 L1488.0 446.7 L1492.2 446.7 L1496.4 446.7 L1500.6 446.8 L1504.8 446.8 L1509.0 446.8 L1513.2 446.8 L1517.4 446.8 L1521.6 446.8 L1525.8 446.8 L1530.0 446.8 L1534.2 446.8 L1538.4 446.8 L1542.6 446.8 L1546.8 446.8 L1551.0 446.8 L1555.1 446.8 L1559.3 446.8 L1563.5 446.8 L1567.7 446.8 L1571.9 446.8 L1576.1 446.8 L1580.3 446.8 L1584.5 446.8 L1588.7 446.8 L1592.9 446.8 L1597.1 446.8 L1601.3 446.8 L1605.5 446.8 L1609.7 446.8 L1613.9 446.8 L1618.1 446.8 L1622.3 446.8 L1626.5 446.8 L1630.7 446.8 L1634.8 446.8 L1639.0 446.8 L1643.2 446.8 L1647.4 446.8 L1651.6 446.8 L1655.8 446.8 L1660.0 446.8 L1664.2 446.8 L1668.4 446.8 L1672.6 446.8 L1676.8 446.8" fill="none" stroke="#008000" stroke-width="3.6" stroke-dasharray="12.5 5.4"/>
<g fill="#008000"><circle cx="1261.5" cy="259.0" r="2.70"/><circle cx="1265.7" cy="297.3" r="2.70"/><circle cx="1269.9" cy="325.6" r="2.70"/><circle cx="1274.1" cy="345.5" r="2.70"/><circle cx="1278.3" cy="363.7" r="2.70"/><circle cx="1282.5" cy="384.4" r="2.70"/><circle cx="1286.7" cy="404.3" r="2.70"/><circle cx="1290.9" cy="420.9" r="2.70"/><circle cx="1295.1" cy="430.8" r="2.70"/><circle cx="1299.2" cy="435.8" r="2.70"/><circle cx="1303.4" cy="439.1" r="2.70"/><circle cx="1307.6" cy="441.1" r="2.70"/><circle cx="1311.8" cy="442.5" r="2.70"/><circle cx="1316.0" cy="443.4" r="2.70"/><circle cx="1320.2" cy="444.2" r="2.70"/><circle cx="1324.4" cy="444.8" r="2.70"/><circle cx="1328.6" cy="445.2" r="2.70"/><circle cx="1332.8" cy="445.6" r="2.70"/><circle cx="1337.0" cy="445.9" r="2.70"/><circle cx="1341.2" cy="446.1" r="2.70"/><circle cx="1345.4" cy="446.2" r="2.70"/><circle cx="1349.6" cy="446.3" r="2.70"/><circle cx="1353.8" cy="446.4" r="2.70"/><circle cx="1358.0" cy="446.5" r="2.70"/><circle cx="1362.2" cy="446.5" r="2.70"/><circle cx="1366.4" cy="446.5" r="2.70"/><circle cx="1370.6" cy="446.5" r="2.70"/><circle cx="1374.8" cy="446.5" r="2.70"/><circle cx="1379.0" cy="446.5" r="2.70"/><circle cx="1383.1" cy="446.6" r="2.70"/><circle cx="1387.3" cy="446.6" r="2.70"/><circle cx="1391.5" cy="446.6" r="2.70"/><circle cx="1395.7" cy="446.6" r="2.70"/><circle cx="1399.9" cy="446.6" r="2.70"/><circle cx="1404.1" cy="446.6" r="2.70"/><circle cx="1408.3" cy="446.6" r="2.70"/><circle cx="1412.5" cy="446.6" r="2.70"/><circle cx="1416.7" cy="446.6" r="2.70"/><circle cx="1420.9" cy="446.6" r="2.70"/><circle cx="1425.1" cy="446.6" r="2.70"/><circle cx="1429.3" cy="446.7" r="2.70"/><circle cx="1433.5" cy="446.7" r="2.70"/><circle cx="1437.7" cy="446.7" r="2.70"/><circle cx="1441.9" cy="446.7" r="2.70"/><circle cx="1446.1" cy="446.7" r="2.70"/><circle cx="1450.3" cy="446.7" r="2.70"/><circle cx="1454.5" cy="446.7" r="2.70"/><circle cx="1458.7" cy="446.7" r="2.70"/><circle cx="1462.9" cy="446.7" r="2.70"/><circle cx="1467.0" cy="446.7" r="2.70"/><circle cx="1471.2" cy="446.7" r="2.70"/><circle cx="1475.4" cy="446.7" r="2.70"/><circle cx="1479.6" cy="446.7" r="2.70"/><circle cx="1483.8" cy="446.7" r="2.70"/><circle cx="1488.0" cy="446.7" r="2.70"/><circle cx="1492.2" cy="446.7" r="2.70"/><circle cx="1496.4" cy="446.7" r="2.70"/><circle cx="1500.6" cy="446.8" r="2.70"/><circle cx="1504.8" cy="446.8" r="2.70"/><circle cx="1509.0" cy="446.8" r="2.70"/><circle cx="1513.2" cy="446.8" r="2.70"/><circle cx="1517.4" cy="446.8" r="2.70"/><circle cx="1521.6" cy="446.8" r="2.70"/><circle cx="1525.8" cy="446.8" r="2.70"/><circle cx="1530.0" cy="446.8" r="2.70"/><circle cx="1534.2" cy="446.8" r="2.70"/><circle cx="1538.4" cy="446.8" r="2.70"/><circle cx="1542.6" cy="446.8" r="2.70"/><circle cx="1546.8" cy="446.8" r="2.70"/><circle cx="1551.0" cy="446.8" r="2.70"/><circle cx="1555.1" cy="446.8" r="2.70"/><circle cx="1559.3" cy="446.8" r="2.70"/><circle cx="1563.5" cy="446.8" r="2.70"/><circle cx="1567.7" cy="446.8" r="2.70"/><circle cx="1571.9" cy="446.8" r="2.70"/><circle cx="1576.1" cy="446.8" r="2.70"/><circle cx="1580.3" cy="446.8" r="2.70"/><circle cx="1584.5" cy="446.8" r="2.70"/><circle cx="1588.7" cy="446.8" r="2.70"/><circle cx="1592.9" cy="446.8" r="2.70"/><circle cx="1597.1" cy="446.8" r="2.70"/><circle cx="1601.3" cy="446.8" r="2.70"/><circle cx="1605.5" cy="446.8" r="2.70"/><circle cx="1609.7" cy="446.8" r="2.70"/><circle cx="1613.9" cy="446.8" r="2.70"/><circle cx="1618.1" cy="446.8" r="2.70"/><circle cx="1622.3" cy="446.8" r="2.70"/><circle cx="1626.5" cy="446.8" r="2.70"/><circle cx="1630.7" cy="446.8" r="2.70"/><circle cx="1634.8" cy="446.8" r="2.70"/><circle cx="1639.0" cy="446.8" r="2.70"/><circle cx="1643.2" cy="446.8" r="2.70"/><circle cx="1647.4" cy="446.8" r="2.70"/><circle cx="1651.6" cy="446.8" r="2.70"/><circle cx="1655.8" cy="446.8" r="2.70"/><circle cx="1660.0" cy="446.8" r="2.70"/><circle cx="1664.2" cy="446.8" r="2.70"/><circle cx="1668.4" cy="446.8" r="2.70"/><circle cx="1672.6" cy="446.8" r="2.70"/><circle cx="1676.8" cy="446.8" r="2.70"/></g>
<path d="M1261.5 446.9 L1685.2 446.9" stroke="#0000ff" stroke-width="4.1" stroke-dasharray="21.6 5.4 3.4 5.4" fill="none"/>
</g>
<g stroke="#000" stroke-width="0.85" fill="none"><path d="M1236.10 146.45 H1707.10 M1236.10 458.00 H1707.10" stroke-opacity="0.50"/><path d="M1236.50 146.45 V458.00 M1706.70 146.45 V458.00" stroke-opacity="0.68"/></g>
<path d="M1257.3 458.0 v2.5" stroke="#000" stroke-opacity="0.55" stroke-width="0.7"/><text x="1257.6" y="476.1" text-anchor="middle" font-size="18.0">0</text><path d="M1341.2 458.0 v2.5" stroke="#000" stroke-opacity="0.55" stroke-width="0.7"/><text x="1341.5" y="476.1" text-anchor="middle" font-size="18.0">20</text><path d="M1425.1 458.0 v2.5" stroke="#000" stroke-opacity="0.55" stroke-width="0.7"/><text x="1425.4" y="476.1" text-anchor="middle" font-size="18.0">40</text><path d="M1509.0 458.0 v2.5" stroke="#000" stroke-opacity="0.55" stroke-width="0.7"/><text x="1509.3" y="476.1" text-anchor="middle" font-size="18.0">60</text><path d="M1592.9 458.0 v2.5" stroke="#000" stroke-opacity="0.55" stroke-width="0.7"/><text x="1593.2" y="476.1" text-anchor="middle" font-size="18.0">80</text><path d="M1676.8 458.0 v2.5" stroke="#000" stroke-opacity="0.55" stroke-width="0.7"/><text x="1677.1" y="476.1" text-anchor="middle" font-size="18.0">100</text><path d="M1236.5 173.5 h-2.5" stroke="#000" stroke-opacity="0.55" stroke-width="0.7"/><text x="1232.7" y="180.8" text-anchor="end" font-size="18.0">0.5</text><path d="M1236.5 228.2 h-2.5" stroke="#000" stroke-opacity="0.55" stroke-width="0.7"/><text x="1232.7" y="235.5" text-anchor="end" font-size="18.0">0.0</text><path d="M1236.5 282.9 h-2.5" stroke="#000" stroke-opacity="0.55" stroke-width="0.7"/><text x="1232.7" y="290.2" text-anchor="end" font-size="18.0">−0.5</text><path d="M1236.5 337.7 h-2.5" stroke="#000" stroke-opacity="0.55" stroke-width="0.7"/><text x="1232.7" y="345.0" text-anchor="end" font-size="18.0">−1.0</text><path d="M1236.5 392.4 h-2.5" stroke="#000" stroke-opacity="0.55" stroke-width="0.7"/><text x="1232.7" y="399.7" text-anchor="end" font-size="18.0">−1.5</text><path d="M1236.5 447.1 h-2.5" stroke="#000" stroke-opacity="0.55" stroke-width="0.7"/><text x="1232.7" y="454.4" text-anchor="end" font-size="18.0">−2.0</text>
<text x="1471.6" y="495.9" text-anchor="middle" font-size="18.0">iterations</text>
<text transform="translate(1184.0 304.5) rotate(-90)" text-anchor="middle" font-size="18.0">Energy</text>
<rect x="1510.3" y="155.2" width="187.1" height="111.4" rx="3.5" fill="#fff" fill-opacity="0.8" stroke="#d4d4d4" stroke-opacity="0.8" stroke-width="0.9"/>
<path d="M1517.6 169.9 H1554.1" stroke="#ff0000" stroke-width="3.4" stroke-dasharray="12.5 5.4" fill="none"/>
<circle cx="1535.8" cy="169.9" r="2.5" fill="#ff0000"/>
<text x="1567.7" y="176.7" font-size="18.0">Random path</text>
<path d="M1517.6 196.4 H1554.1" stroke="#000000" stroke-width="3.4" stroke-dasharray="12.5 5.4" fill="none"/>
<circle cx="1535.8" cy="196.4" r="2.5" fill="#000000"/>
<text x="1567.7" y="203.2" font-size="18.0">Shortest path</text>
<path d="M1517.6 222.9 H1554.1" stroke="#008000" stroke-width="3.4" stroke-dasharray="12.5 5.4" fill="none"/>
<circle cx="1535.8" cy="222.9" r="2.5" fill="#008000"/>
<text x="1567.7" y="229.7" font-size="18.0">SGD</text>
<path d="M1517.6 249.4 H1554.1" stroke="#0000ff" stroke-width="3.4" stroke-dasharray="21.6 5.4 3.4 5.4" fill="none"/>
<text x="1567.7" y="256.2" font-size="18.0">Exact energy</text>
<clipPath id="clip3"><rect x="79.6" y="659.1" width="484.8" height="320.3"/></clipPath>
<g clip-path="url(#clip3)">
<path d="M101.4 671.6 L103.2 696.4 L103.6 700.0 L105.8 717.4 L107.9 730.7 L107.9 731.1 L110.1 743.9 L112.3 754.9 L112.5 755.6 L113.9 761.0 L114.5 762.8 L116.7 768.1 L118.1 771.0 L118.9 772.2 L121.0 775.0 L123.2 778.1 L123.5 778.6 L123.8 779.3 L125.4 784.4 L126.9 790.0 L127.6 792.2 L129.8 798.8 L131.9 804.9 L133.8 809.5 L134.1 810.3 L134.6 811.4 L136.3 815.3 L138.5 819.9 L140.7 823.8 L141.5 825.1 L142.9 827.0 L145.0 829.6 L145.7 830.3 L147.2 831.7 L147.4 831.8 L149.4 833.4 L151.6 834.8 L153.8 836.0 L155.9 837.1 L156.7 837.5 L158.1 838.2 L160.3 839.2 L162.5 840.3 L163.1 840.7 L164.7 841.5 L166.9 842.5 L167.8 843.0 L169.0 843.5 L171.2 844.5 L173.4 845.5 L175.6 846.6 L177.8 847.7 L178.8 848.2 L179.9 848.9 L182.1 850.2 L182.5 850.4 L184.3 851.7 L186.5 853.5 L188.7 855.5 L189.9 856.6 L190.9 857.5 L193.0 859.3 L194.2 860.2 L195.2 860.9 L197.4 862.2 L199.6 863.6 L201.0 864.4 L201.8 864.9 L201.9 865.0 L203.9 866.4 L206.1 867.9 L208.3 869.4 L210.5 870.9 L211.9 871.9 L212.0 872.0 L212.7 872.4 L214.9 873.9 L217.0 875.4 L219.2 877.0 L221.4 878.6 L221.4 878.6 L223.1 880.0 L223.6 880.4 L225.8 882.2 L227.9 884.2 L229.1 885.5 L230.1 886.7 L232.3 889.8 L234.2 892.8 L234.5 893.3 L236.7 896.8 L236.9 897.2 L238.8 900.3 L241.0 903.8 L243.2 907.1 L244.7 908.9 L245.2 909.5 L245.4 909.7 L247.6 912.0 L249.8 914.0 L251.9 915.8 L254.1 917.3 L254.6 917.6 L256.3 918.5 L256.3 918.5 L258.5 919.6 L260.7 920.6 L262.8 921.5 L265.0 922.1 L266.2 922.5 L267.2 922.7 L267.4 922.7 L269.4 923.2 L271.6 923.6 L273.8 923.9 L275.9 924.2 L278.1 924.5 L278.4 924.6 L280.3 924.8 L282.5 925.1 L284.7 925.5 L284.8 925.5 L286.8 925.8 L289.0 926.1 L289.5 926.2 L291.2 926.5 L293.4 926.8 L295.6 927.1 L300.6 927.9 L311.6 929.6 L322.7 931.2 L333.7 932.7 L334.4 932.8 L344.8 934.2 L355.9 935.7 L366.9 937.2 L378.0 938.6 L389.1 939.8 L400.1 940.9 L408.6 941.6 L411.2 941.8 L422.3 942.6 L433.3 943.3 L444.4 944.0 L455.5 944.6 L466.5 945.1 L477.6 945.5 L482.8 945.7 L488.6 945.9 L499.7 946.2 L510.8 946.5 L521.8 946.8 L532.9 946.9 L532.9 952.5 L521.8 952.5 L510.8 952.5 L499.7 952.5 L488.6 952.5 L477.6 952.5 L466.5 952.5 L455.5 952.5 L444.4 952.5 L433.3 952.4 L422.3 952.4 L411.2 952.4 L400.1 952.4 L389.1 952.3 L378.0 952.3 L366.9 952.2 L355.9 952.2 L344.8 952.2 L333.7 952.1 L322.7 952.1 L311.6 952.0 L300.6 951.9 L295.6 951.9 L293.4 951.9 L291.2 951.9 L289.5 951.9 L289.0 951.9 L286.8 951.9 L284.7 951.9 L282.5 951.8 L280.3 951.8 L278.4 951.8 L278.1 951.8 L275.9 951.8 L273.8 951.8 L271.6 951.8 L269.4 951.8 L267.4 951.8 L267.2 951.8 L265.0 951.7 L262.8 951.7 L260.7 951.7 L258.5 951.7 L256.3 951.7 L256.3 951.7 L254.1 951.7 L251.9 951.6 L249.8 951.6 L247.6 951.6 L245.4 951.6 L245.2 951.6 L243.2 951.6 L241.0 951.6 L238.8 951.6 L236.7 951.5 L234.5 951.5 L234.2 951.5 L232.3 951.5 L230.9 951.5 L230.1 951.5 L227.9 951.5 L225.8 951.4 L223.6 951.4 L223.1 951.4 L221.4 951.4 L219.2 951.3 L217.0 951.3 L214.9 951.2 L212.7 951.1 L212.0 951.1 L210.5 951.1 L208.3 951.0 L206.1 950.9 L203.9 950.8 L201.9 950.8 L201.8 950.8 L201.0 950.7 L199.6 950.7 L197.4 950.6 L195.2 950.4 L193.0 950.3 L190.9 950.1 L189.9 950.1 L188.7 950.0 L186.5 949.8 L184.3 949.6 L182.5 949.4 L182.1 949.4 L179.9 949.1 L178.8 949.0 L177.8 948.9 L175.6 948.5 L173.4 948.2 L171.2 947.8 L169.0 947.3 L167.8 947.1 L166.9 946.8 L164.7 946.3 L163.1 945.9 L162.5 945.7 L160.3 945.1 L158.1 944.4 L156.7 943.8 L155.9 943.4 L153.8 942.2 L151.6 940.6 L151.0 940.1 L149.4 937.1 L147.2 929.8 L145.7 924.0 L145.0 921.9 L144.6 920.4 L142.9 915.3 L140.7 909.1 L140.2 907.9 L138.5 903.9 L136.3 899.5 L134.6 896.1 L134.1 895.1 L131.9 890.2 L131.6 889.3 L129.8 884.1 L127.6 877.0 L125.4 869.5 L123.5 863.1 L123.2 862.1 L123.0 861.3 L121.0 855.2 L118.9 848.6 L116.7 841.5 L114.5 832.9 L114.3 832.3 L112.5 822.5 L112.3 821.5 L110.1 807.0 L110.0 806.3 L107.9 788.5 L105.8 767.4 L105.7 766.9 L103.6 746.7 L101.4 725.5Z" fill="#ff0000" fill-opacity="0.20" stroke="#ff0000" stroke-opacity="0.20" stroke-width="0.5"/>
<path d="M101.4 699.6 L103.6 723.8 L105.7 746.2 L105.8 746.7 L107.9 768.6 L110.0 787.7 L110.1 788.5 L112.3 806.8 L112.5 808.0 L114.3 819.2 L114.5 820.2 L116.7 828.7 L118.9 835.4 L121.0 841.1 L123.2 846.5 L123.5 847.3 L124.0 848.4 L125.4 852.2 L127.6 857.6 L129.8 862.8 L131.9 867.8 L134.1 872.5 L134.6 873.5 L135.7 875.7 L136.3 877.1 L138.5 881.8 L140.7 886.5 L142.9 891.0 L145.0 894.9 L145.7 895.9 L147.2 897.9 L148.4 899.1 L149.4 899.9 L151.6 901.3 L153.8 902.5 L155.9 903.5 L156.7 903.8 L158.1 904.4 L159.2 904.9 L160.3 905.5 L162.5 906.4 L164.7 907.4 L166.9 908.3 L167.8 908.7 L169.0 909.2 L171.2 910.2 L172.6 910.9 L173.4 911.3 L175.6 912.4 L177.8 913.5 L178.8 914.1 L179.9 914.7 L182.1 916.0 L184.3 917.3 L186.4 918.6 L186.5 918.7 L188.7 920.2 L189.9 921.1 L190.9 921.8 L193.0 923.5 L195.2 925.2 L197.4 927.0 L199.6 928.6 L201.0 929.7 L201.8 930.2 L201.9 930.3 L203.9 931.7 L206.1 933.2 L208.3 934.7 L210.5 936.1 L212.0 937.1 L212.7 937.5 L214.9 938.8 L217.0 939.9 L217.5 940.1 L219.2 940.9 L221.4 941.9 L223.1 942.7 L223.6 942.9 L225.8 943.8 L227.9 944.6 L230.1 945.2 L232.3 945.8 L233.0 945.9 L234.2 946.1 L234.5 946.1 L236.7 946.5 L238.8 946.8 L241.0 947.1 L243.2 947.4 L245.2 947.6 L245.4 947.6 L247.6 947.8 L249.8 948.0 L251.9 948.2 L254.1 948.4 L256.3 948.6 L256.3 948.6 L258.5 948.7 L260.2 948.8 L260.7 948.8 L262.8 949.0 L265.0 949.1 L267.2 949.2 L267.4 949.2 L269.4 949.3 L271.6 949.4 L273.8 949.6 L275.9 949.7 L278.1 949.8 L278.4 949.8 L280.3 949.9 L282.5 950.0 L284.7 950.1 L286.8 950.2 L289.0 950.3 L289.5 950.3 L291.2 950.4 L293.4 950.4 L295.6 950.5 L300.6 950.7 L311.6 950.9 L317.2 951.0 L322.7 951.0 L333.7 951.1 L344.8 951.2 L355.9 951.3 L366.9 951.3 L378.0 951.4 L389.1 951.5 L400.1 951.5 L411.2 951.6 L422.3 951.6 L433.3 951.6 L444.4 951.7 L455.5 951.7 L466.5 951.7 L477.6 951.8 L488.6 951.8 L499.7 951.8 L510.8 951.8 L521.8 951.8 L532.9 951.8 L532.9 952.6 L521.8 952.6 L510.8 952.6 L499.7 952.6 L488.6 952.6 L477.6 952.6 L466.5 952.6 L455.5 952.6 L444.4 952.6 L433.3 952.6 L422.3 952.6 L411.2 952.6 L400.1 952.6 L389.1 952.5 L378.0 952.5 L366.9 952.5 L355.9 952.5 L344.8 952.5 L333.7 952.4 L322.7 952.4 L311.6 952.4 L300.6 952.4 L295.6 952.4 L293.4 952.4 L291.2 952.3 L289.5 952.3 L289.0 952.3 L286.8 952.3 L284.7 952.3 L282.5 952.3 L280.3 952.3 L278.4 952.3 L278.1 952.3 L275.9 952.3 L273.8 952.3 L271.6 952.3 L269.4 952.3 L267.4 952.3 L267.2 952.3 L265.0 952.3 L262.8 952.3 L260.7 952.3 L258.5 952.2 L256.3 952.2 L256.3 952.2 L254.1 952.2 L251.9 952.2 L249.8 952.2 L247.6 952.2 L245.4 952.2 L245.2 952.2 L243.2 952.2 L241.0 952.2 L238.8 952.2 L236.7 952.2 L234.5 952.2 L234.2 952.2 L232.3 952.2 L230.1 952.2 L227.9 952.1 L225.8 952.1 L223.6 952.1 L223.1 952.1 L221.4 952.1 L221.4 952.1 L219.2 952.1 L217.0 952.1 L214.9 952.1 L212.7 952.0 L212.0 952.0 L210.5 952.0 L208.3 952.0 L206.1 951.9 L203.9 951.9 L201.8 951.9 L201.0 951.8 L199.6 951.8 L197.4 951.8 L195.2 951.7 L193.0 951.7 L190.9 951.6 L189.9 951.6 L188.7 951.6 L186.5 951.5 L184.3 951.4 L182.5 951.4 L182.1 951.4 L179.9 951.3 L178.8 951.3 L177.8 951.3 L175.6 951.2 L173.4 951.1 L171.2 951.1 L169.0 951.0 L167.8 950.9 L166.9 950.9 L164.7 950.8 L162.5 950.7 L160.3 950.6 L158.1 950.5 L156.7 950.4 L155.9 950.3 L153.8 950.2 L153.2 950.1 L151.6 950.0 L149.4 949.8 L147.2 949.6 L145.7 949.4 L145.0 949.3 L142.9 948.9 L140.7 948.5 L138.5 948.1 L136.3 947.6 L135.7 947.5 L134.6 947.2 L134.1 947.0 L131.9 946.3 L129.8 945.3 L127.6 944.1 L126.0 943.0 L125.4 942.5 L123.5 940.5 L123.2 940.0 L121.0 936.3 L120.1 934.2 L118.9 930.2 L116.7 919.4 L116.2 916.7 L114.5 904.2 L112.5 885.3 L112.3 883.8 L112.3 883.5 L110.1 860.6 L108.4 838.7 L107.9 831.8 L105.8 793.5 L105.5 790.0 L103.6 772.7 L101.4 761.8Z" fill="#000000" fill-opacity="0.25" stroke="#000000" stroke-opacity="0.25" stroke-width="0.5"/>
<path d="M105.7 642.5 L107.8 685.1 L109.0 704.7 L110.0 718.7 L112.1 744.4 L112.3 746.1 L114.2 758.5 L114.8 761.0 L116.4 767.5 L116.7 768.6 L118.5 774.7 L120.6 780.8 L122.8 786.7 L123.1 787.6 L124.9 792.5 L127.0 797.9 L127.6 799.3 L129.2 803.1 L131.3 808.3 L131.8 809.5 L133.4 814.1 L135.6 820.6 L137.7 826.4 L138.6 828.3 L139.8 830.3 L140.5 830.9 L142.0 831.7 L144.1 832.4 L146.2 833.0 L148.4 833.6 L149.3 833.8 L149.5 833.9 L150.5 834.2 L152.6 834.8 L154.8 835.4 L156.9 835.9 L159.0 836.5 L160.5 836.9 L161.2 837.1 L163.1 837.8 L163.3 837.8 L165.4 838.6 L167.6 839.4 L169.7 840.3 L171.4 841.0 L171.8 841.2 L174.0 842.2 L174.8 842.6 L176.1 843.3 L178.2 844.5 L180.4 845.9 L182.4 847.2 L182.5 847.3 L184.6 848.9 L186.4 850.4 L186.8 850.7 L188.9 852.9 L191.0 855.5 L193.2 858.4 L193.3 858.6 L195.3 861.3 L195.9 862.1 L197.4 864.2 L199.6 867.2 L201.7 870.4 L203.8 873.9 L204.3 874.7 L205.8 877.7 L206.0 878.0 L208.1 883.1 L210.2 889.2 L212.4 895.6 L213.6 899.1 L214.5 901.8 L215.2 904.0 L216.6 908.3 L218.8 914.5 L219.6 916.7 L220.9 919.7 L223.0 924.4 L225.2 928.3 L225.2 928.4 L226.2 929.9 L227.3 931.6 L229.4 934.5 L231.6 936.9 L233.0 938.1 L233.7 938.6 L235.8 940.0 L237.2 940.8 L238.0 941.3 L240.1 942.3 L242.2 943.2 L244.4 943.8 L244.7 943.9 L246.5 944.4 L248.1 944.8 L248.6 944.9 L250.8 945.4 L252.9 945.7 L255.0 946.1 L257.2 946.4 L259.1 946.7 L259.3 946.7 L260.2 946.8 L261.4 947.0 L263.6 947.3 L265.7 947.5 L267.8 947.8 L270.0 948.0 L270.0 948.0 L272.1 948.2 L274.2 948.4 L276.4 948.6 L278.5 948.7 L280.0 948.8 L280.6 948.8 L281.0 948.9 L282.8 949.0 L284.9 949.1 L287.0 949.2 L289.2 949.3 L291.3 949.4 L291.9 949.5 L293.4 949.5 L295.6 949.6 L302.9 950.0 L313.8 950.4 L324.8 950.7 L335.7 950.9 L338.7 951.0 L346.7 951.0 L357.6 951.1 L368.6 951.2 L379.6 951.3 L390.5 951.3 L401.5 951.4 L412.4 951.4 L423.4 951.5 L434.3 951.5 L445.3 951.6 L456.2 951.6 L467.2 951.6 L478.1 951.6 L489.1 951.7 L500.0 951.7 L511.0 951.7 L521.9 951.7 L532.9 951.7 L532.9 952.5 L521.9 952.5 L511.0 952.5 L500.0 952.5 L489.1 952.5 L478.1 952.5 L467.2 952.5 L456.2 952.5 L445.3 952.4 L434.3 952.4 L423.4 952.4 L412.4 952.4 L401.5 952.3 L390.5 952.3 L379.6 952.3 L368.6 952.2 L357.6 952.2 L346.7 952.1 L335.7 952.1 L324.8 952.0 L317.2 952.0 L313.8 952.0 L302.9 951.9 L295.6 951.9 L293.4 951.8 L291.9 951.8 L291.3 951.8 L289.2 951.8 L287.0 951.8 L284.9 951.8 L282.8 951.7 L281.0 951.7 L280.6 951.7 L278.5 951.7 L276.4 951.6 L274.2 951.6 L272.1 951.6 L270.0 951.5 L270.0 951.5 L267.8 951.5 L265.7 951.5 L263.6 951.4 L261.4 951.4 L259.3 951.4 L259.1 951.4 L257.2 951.3 L255.0 951.3 L252.9 951.2 L250.8 951.2 L248.6 951.2 L248.1 951.1 L246.5 951.1 L244.4 951.1 L242.2 951.0 L240.8 951.0 L240.1 951.0 L238.0 950.9 L237.2 950.9 L235.8 950.8 L233.7 950.7 L231.6 950.7 L229.4 950.5 L227.3 950.4 L226.2 950.4 L225.2 950.3 L223.0 950.2 L220.9 950.1 L218.8 949.9 L216.6 949.8 L215.2 949.7 L214.5 949.6 L212.4 949.5 L211.9 949.4 L210.2 949.3 L208.1 949.1 L206.0 948.9 L204.3 948.8 L203.8 948.7 L201.7 948.5 L199.6 948.3 L197.4 948.1 L195.3 947.8 L193.3 947.6 L193.2 947.5 L191.0 947.2 L188.9 946.9 L186.8 946.6 L184.6 946.3 L182.5 945.9 L182.5 945.9 L182.4 945.9 L180.4 945.5 L178.2 945.0 L176.1 944.5 L174.0 943.9 L171.8 943.3 L171.4 943.2 L169.7 942.6 L167.6 941.9 L165.4 941.1 L163.3 940.2 L163.1 940.1 L161.2 939.2 L160.5 938.8 L159.0 938.0 L156.9 936.5 L154.8 935.0 L152.6 933.3 L150.5 931.4 L149.5 930.6 L149.3 930.3 L148.4 929.5 L146.2 927.4 L144.1 925.0 L142.0 922.2 L139.8 919.0 L139.6 918.6 L138.6 916.9 L137.7 915.2 L135.6 910.5 L133.4 904.9 L132.8 903.0 L131.3 898.4 L129.2 890.7 L127.6 884.4 L127.0 881.9 L124.9 872.4 L124.0 867.9 L122.8 862.1 L120.6 850.6 L118.5 837.8 L117.1 828.9 L116.7 825.5 L116.4 823.3 L114.2 804.8 L112.3 790.0 L112.1 789.1 L110.0 779.4 L110.0 779.1 L107.8 768.2 L105.7 756.6Z" fill="#008000" fill-opacity="0.30" stroke="#008000" stroke-opacity="0.30" stroke-width="0.5"/>
<path d="M101.4 697.3 L105.7 732.4 L110.0 762.8 L114.3 796.8 L118.7 822.1 L123.0 835.8 L127.3 848.4 L131.6 859.2 L135.9 867.3 L140.2 875.7 L144.6 884.5 L148.9 891.4 L153.2 896.8 L157.5 901.1 L161.8 904.9 L166.1 908.5 L170.4 912.1 L174.8 916.2 L179.1 919.6 L183.4 922.9 L187.7 925.5 L192.0 927.3 L196.3 929.1 L200.6 930.7 L205.0 932.2 L209.3 933.8 L213.6 935.2 L217.9 936.4 L222.2 937.5 L226.5 938.7 L230.9 939.9 L235.2 940.9 L239.5 941.8 L243.8 942.6 L248.1 943.2 L252.4 943.8 L256.7 944.3 L261.1 944.8 L265.4 945.2 L269.7 945.6 L274.0 945.9 L278.3 946.2 L282.6 946.4 L286.9 946.6 L291.3 946.8 L295.6 947.0 L299.9 947.2 L304.2 947.4 L308.5 947.6 L312.8 947.7 L317.2 947.9 L321.5 948.0 L325.8 948.2 L330.1 948.3 L334.4 948.4 L338.7 948.6 L343.0 948.7 L347.4 948.8 L351.7 948.9 L356.0 949.0 L360.3 949.1 L364.6 949.2 L368.9 949.3 L373.2 949.4 L377.6 949.5 L381.9 949.6 L386.2 949.7 L390.5 949.8 L394.8 949.9 L399.1 950.0 L403.5 950.1 L407.8 950.1 L412.1 950.2 L416.4 950.3 L420.7 950.4 L425.0 950.4 L429.3 950.5 L433.7 950.6 L438.0 950.7 L442.3 950.7 L446.6 950.8 L450.9 950.8 L455.2 950.9 L459.5 950.9 L463.9 951.0 L468.2 951.0 L472.5 951.1 L476.8 951.1 L481.1 951.2 L485.4 951.2 L489.8 951.3 L494.1 951.3 L498.4 951.4 L502.7 951.4 L507.0 951.4 L511.3 951.5 L515.6 951.5 L520.0 951.5 L524.3 951.6 L528.6 951.6 L532.9 951.6" fill="none" stroke="#ff0000" stroke-width="3.7" stroke-dasharray="12.8 5.6"/>
<g fill="#ff0000"><circle cx="101.4" cy="697.3" r="2.78"/><circle cx="105.7" cy="732.4" r="2.78"/><circle cx="110.0" cy="762.8" r="2.78"/><circle cx="114.3" cy="796.8" r="2.78"/><circle cx="118.7" cy="822.1" r="2.78"/><circle cx="123.0" cy="835.8" r="2.78"/><circle cx="127.3" cy="848.4" r="2.78"/><circle cx="131.6" cy="859.2" r="2.78"/><circle cx="135.9" cy="867.3" r="2.78"/><circle cx="140.2" cy="875.7" r="2.78"/><circle cx="144.6" cy="884.5" r="2.78"/><circle cx="148.9" cy="891.4" r="2.78"/><circle cx="153.2" cy="896.8" r="2.78"/><circle cx="157.5" cy="901.1" r="2.78"/><circle cx="161.8" cy="904.9" r="2.78"/><circle cx="166.1" cy="908.5" r="2.78"/><circle cx="170.4" cy="912.1" r="2.78"/><circle cx="174.8" cy="916.2" r="2.78"/><circle cx="179.1" cy="919.6" r="2.78"/><circle cx="183.4" cy="922.9" r="2.78"/><circle cx="187.7" cy="925.5" r="2.78"/><circle cx="192.0" cy="927.3" r="2.78"/><circle cx="196.3" cy="929.1" r="2.78"/><circle cx="200.6" cy="930.7" r="2.78"/><circle cx="205.0" cy="932.2" r="2.78"/><circle cx="209.3" cy="933.8" r="2.78"/><circle cx="213.6" cy="935.2" r="2.78"/><circle cx="217.9" cy="936.4" r="2.78"/><circle cx="222.2" cy="937.5" r="2.78"/><circle cx="226.5" cy="938.7" r="2.78"/><circle cx="230.9" cy="939.9" r="2.78"/><circle cx="235.2" cy="940.9" r="2.78"/><circle cx="239.5" cy="941.8" r="2.78"/><circle cx="243.8" cy="942.6" r="2.78"/><circle cx="248.1" cy="943.2" r="2.78"/><circle cx="252.4" cy="943.8" r="2.78"/><circle cx="256.7" cy="944.3" r="2.78"/><circle cx="261.1" cy="944.8" r="2.78"/><circle cx="265.4" cy="945.2" r="2.78"/><circle cx="269.7" cy="945.6" r="2.78"/><circle cx="274.0" cy="945.9" r="2.78"/><circle cx="278.3" cy="946.2" r="2.78"/><circle cx="282.6" cy="946.4" r="2.78"/><circle cx="286.9" cy="946.6" r="2.78"/><circle cx="291.3" cy="946.8" r="2.78"/><circle cx="295.6" cy="947.0" r="2.78"/><circle cx="299.9" cy="947.2" r="2.78"/><circle cx="304.2" cy="947.4" r="2.78"/><circle cx="308.5" cy="947.6" r="2.78"/><circle cx="312.8" cy="947.7" r="2.78"/><circle cx="317.2" cy="947.9" r="2.78"/><circle cx="321.5" cy="948.0" r="2.78"/><circle cx="325.8" cy="948.2" r="2.78"/><circle cx="330.1" cy="948.3" r="2.78"/><circle cx="334.4" cy="948.4" r="2.78"/><circle cx="338.7" cy="948.6" r="2.78"/><circle cx="343.0" cy="948.7" r="2.78"/><circle cx="347.4" cy="948.8" r="2.78"/><circle cx="351.7" cy="948.9" r="2.78"/><circle cx="356.0" cy="949.0" r="2.78"/><circle cx="360.3" cy="949.1" r="2.78"/><circle cx="364.6" cy="949.2" r="2.78"/><circle cx="368.9" cy="949.3" r="2.78"/><circle cx="373.2" cy="949.4" r="2.78"/><circle cx="377.6" cy="949.5" r="2.78"/><circle cx="381.9" cy="949.6" r="2.78"/><circle cx="386.2" cy="949.7" r="2.78"/><circle cx="390.5" cy="949.8" r="2.78"/><circle cx="394.8" cy="949.9" r="2.78"/><circle cx="399.1" cy="950.0" r="2.78"/><circle cx="403.5" cy="950.1" r="2.78"/><circle cx="407.8" cy="950.1" r="2.78"/><circle cx="412.1" cy="950.2" r="2.78"/><circle cx="416.4" cy="950.3" r="2.78"/><circle cx="420.7" cy="950.4" r="2.78"/><circle cx="425.0" cy="950.4" r="2.78"/><circle cx="429.3" cy="950.5" r="2.78"/><circle cx="433.7" cy="950.6" r="2.78"/><circle cx="438.0" cy="950.7" r="2.78"/><circle cx="442.3" cy="950.7" r="2.78"/><circle cx="446.6" cy="950.8" r="2.78"/><circle cx="450.9" cy="950.8" r="2.78"/><circle cx="455.2" cy="950.9" r="2.78"/><circle cx="459.5" cy="950.9" r="2.78"/><circle cx="463.9" cy="951.0" r="2.78"/><circle cx="468.2" cy="951.0" r="2.78"/><circle cx="472.5" cy="951.1" r="2.78"/><circle cx="476.8" cy="951.1" r="2.78"/><circle cx="481.1" cy="951.2" r="2.78"/><circle cx="485.4" cy="951.2" r="2.78"/><circle cx="489.8" cy="951.3" r="2.78"/><circle cx="494.1" cy="951.3" r="2.78"/><circle cx="498.4" cy="951.4" r="2.78"/><circle cx="502.7" cy="951.4" r="2.78"/><circle cx="507.0" cy="951.4" r="2.78"/><circle cx="511.3" cy="951.5" r="2.78"/><circle cx="515.6" cy="951.5" r="2.78"/><circle cx="520.0" cy="951.5" r="2.78"/><circle cx="524.3" cy="951.6" r="2.78"/><circle cx="528.6" cy="951.6" r="2.78"/><circle cx="532.9" cy="951.6" r="2.78"/></g>
<path d="M101.4 730.3 L105.7 772.6 L110.0 808.4 L114.3 833.8 L118.7 848.4 L123.0 863.1 L127.3 875.7 L131.6 891.4 L135.9 901.4 L140.2 909.2 L144.6 919.6 L148.9 927.3 L153.2 931.8 L157.5 934.6 L161.8 936.6 L166.1 938.4 L170.4 939.8 L174.8 941.0 L179.1 942.1 L183.4 943.1 L187.7 943.9 L192.0 944.7 L196.3 945.5 L200.6 946.2 L205.0 946.9 L209.3 947.5 L213.6 948.0 L217.9 948.5 L222.2 949.0 L226.5 949.4 L230.9 949.7 L235.2 950.0 L239.5 950.3 L243.8 950.6 L248.1 950.8 L252.4 951.0 L256.7 951.2 L261.1 951.3 L265.4 951.5 L269.7 951.6 L274.0 951.7 L278.3 951.7 L282.6 951.8 L286.9 951.8 L291.3 951.9 L295.6 951.9 L299.9 951.9 L304.2 951.9 L308.5 952.0 L312.8 952.0 L317.2 952.0 L321.5 952.0 L325.8 952.0 L330.1 952.1 L334.4 952.1 L338.7 952.1 L343.0 952.1 L347.4 952.1 L351.7 952.1 L356.0 952.1 L360.3 952.1 L364.6 952.1 L368.9 952.1 L373.2 952.1 L377.6 952.1 L381.9 952.1 L386.2 952.1 L390.5 952.1 L394.8 952.2 L399.1 952.2 L403.5 952.2 L407.8 952.2 L412.1 952.2 L416.4 952.2 L420.7 952.2 L425.0 952.2 L429.3 952.2 L433.7 952.2 L438.0 952.2 L442.3 952.2 L446.6 952.2 L450.9 952.2 L455.2 952.2 L459.5 952.2 L463.9 952.2 L468.2 952.2 L472.5 952.2 L476.8 952.2 L481.1 952.2 L485.4 952.2 L489.8 952.2 L494.1 952.2 L498.4 952.2 L502.7 952.2 L507.0 952.2 L511.3 952.2 L515.6 952.2 L520.0 952.2 L524.3 952.2 L528.6 952.2 L532.9 952.2" fill="none" stroke="#000000" stroke-width="3.7" stroke-dasharray="12.8 5.6"/>
<g fill="#000000"><circle cx="101.4" cy="730.3" r="2.78"/><circle cx="105.7" cy="772.6" r="2.78"/><circle cx="110.0" cy="808.4" r="2.78"/><circle cx="114.3" cy="833.8" r="2.78"/><circle cx="118.7" cy="848.4" r="2.78"/><circle cx="123.0" cy="863.1" r="2.78"/><circle cx="127.3" cy="875.7" r="2.78"/><circle cx="131.6" cy="891.4" r="2.78"/><circle cx="135.9" cy="901.4" r="2.78"/><circle cx="140.2" cy="909.2" r="2.78"/><circle cx="144.6" cy="919.6" r="2.78"/><circle cx="148.9" cy="927.3" r="2.78"/><circle cx="153.2" cy="931.8" r="2.78"/><circle cx="157.5" cy="934.6" r="2.78"/><circle cx="161.8" cy="936.6" r="2.78"/><circle cx="166.1" cy="938.4" r="2.78"/><circle cx="170.4" cy="939.8" r="2.78"/><circle cx="174.8" cy="941.0" r="2.78"/><circle cx="179.1" cy="942.1" r="2.78"/><circle cx="183.4" cy="943.1" r="2.78"/><circle cx="187.7" cy="943.9" r="2.78"/><circle cx="192.0" cy="944.7" r="2.78"/><circle cx="196.3" cy="945.5" r="2.78"/><circle cx="200.6" cy="946.2" r="2.78"/><circle cx="205.0" cy="946.9" r="2.78"/><circle cx="209.3" cy="947.5" r="2.78"/><circle cx="213.6" cy="948.0" r="2.78"/><circle cx="217.9" cy="948.5" r="2.78"/><circle cx="222.2" cy="949.0" r="2.78"/><circle cx="226.5" cy="949.4" r="2.78"/><circle cx="230.9" cy="949.7" r="2.78"/><circle cx="235.2" cy="950.0" r="2.78"/><circle cx="239.5" cy="950.3" r="2.78"/><circle cx="243.8" cy="950.6" r="2.78"/><circle cx="248.1" cy="950.8" r="2.78"/><circle cx="252.4" cy="951.0" r="2.78"/><circle cx="256.7" cy="951.2" r="2.78"/><circle cx="261.1" cy="951.3" r="2.78"/><circle cx="265.4" cy="951.5" r="2.78"/><circle cx="269.7" cy="951.6" r="2.78"/><circle cx="274.0" cy="951.7" r="2.78"/><circle cx="278.3" cy="951.7" r="2.78"/><circle cx="282.6" cy="951.8" r="2.78"/><circle cx="286.9" cy="951.8" r="2.78"/><circle cx="291.3" cy="951.9" r="2.78"/><circle cx="295.6" cy="951.9" r="2.78"/><circle cx="299.9" cy="951.9" r="2.78"/><circle cx="304.2" cy="951.9" r="2.78"/><circle cx="308.5" cy="952.0" r="2.78"/><circle cx="312.8" cy="952.0" r="2.78"/><circle cx="317.2" cy="952.0" r="2.78"/><circle cx="321.5" cy="952.0" r="2.78"/><circle cx="325.8" cy="952.0" r="2.78"/><circle cx="330.1" cy="952.1" r="2.78"/><circle cx="334.4" cy="952.1" r="2.78"/><circle cx="338.7" cy="952.1" r="2.78"/><circle cx="343.0" cy="952.1" r="2.78"/><circle cx="347.4" cy="952.1" r="2.78"/><circle cx="351.7" cy="952.1" r="2.78"/><circle cx="356.0" cy="952.1" r="2.78"/><circle cx="360.3" cy="952.1" r="2.78"/><circle cx="364.6" cy="952.1" r="2.78"/><circle cx="368.9" cy="952.1" r="2.78"/><circle cx="373.2" cy="952.1" r="2.78"/><circle cx="377.6" cy="952.1" r="2.78"/><circle cx="381.9" cy="952.1" r="2.78"/><circle cx="386.2" cy="952.1" r="2.78"/><circle cx="390.5" cy="952.1" r="2.78"/><circle cx="394.8" cy="952.2" r="2.78"/><circle cx="399.1" cy="952.2" r="2.78"/><circle cx="403.5" cy="952.2" r="2.78"/><circle cx="407.8" cy="952.2" r="2.78"/><circle cx="412.1" cy="952.2" r="2.78"/><circle cx="416.4" cy="952.2" r="2.78"/><circle cx="420.7" cy="952.2" r="2.78"/><circle cx="425.0" cy="952.2" r="2.78"/><circle cx="429.3" cy="952.2" r="2.78"/><circle cx="433.7" cy="952.2" r="2.78"/><circle cx="438.0" cy="952.2" r="2.78"/><circle cx="442.3" cy="952.2" r="2.78"/><circle cx="446.6" cy="952.2" r="2.78"/><circle cx="450.9" cy="952.2" r="2.78"/><circle cx="455.2" cy="952.2" r="2.78"/><circle cx="459.5" cy="952.2" r="2.78"/><circle cx="463.9" cy="952.2" r="2.78"/><circle cx="468.2" cy="952.2" r="2.78"/><circle cx="472.5" cy="952.2" r="2.78"/><circle cx="476.8" cy="952.2" r="2.78"/><circle cx="481.1" cy="952.2" r="2.78"/><circle cx="485.4" cy="952.2" r="2.78"/><circle cx="489.8" cy="952.2" r="2.78"/><circle cx="494.1" cy="952.2" r="2.78"/><circle cx="498.4" cy="952.2" r="2.78"/><circle cx="502.7" cy="952.2" r="2.78"/><circle cx="507.0" cy="952.2" r="2.78"/><circle cx="511.3" cy="952.2" r="2.78"/><circle cx="515.6" cy="952.2" r="2.78"/><circle cx="520.0" cy="952.2" r="2.78"/><circle cx="524.3" cy="952.2" r="2.78"/><circle cx="528.6" cy="952.2" r="2.78"/><circle cx="532.9" cy="952.2" r="2.78"/></g>
<path d="M105.7 737.4 L110.0 766.0 L114.3 792.6 L118.7 809.9 L123.0 824.1 L127.3 836.7 L131.6 847.5 L135.9 856.2 L140.2 863.7 L144.6 869.9 L148.9 874.8 L153.2 879.2 L157.5 883.5 L161.8 888.4 L166.1 892.7 L170.4 897.2 L174.8 901.4 L179.1 905.6 L183.4 909.4 L187.7 913.3 L192.0 916.7 L196.3 920.2 L200.6 923.1 L205.0 926.0 L209.3 929.3 L213.6 932.2 L217.9 935.2 L222.2 937.5 L226.5 939.5 L230.9 941.0 L235.2 942.4 L239.5 943.5 L243.8 944.4 L248.1 945.2 L252.4 945.9 L256.7 946.5 L261.1 947.0 L265.4 947.5 L269.7 947.9 L274.0 948.3 L278.3 948.6 L282.6 948.9 L286.9 949.1 L291.3 949.4 L295.6 949.6 L299.9 949.8 L304.2 950.0 L308.5 950.2 L312.8 950.3 L317.2 950.5 L321.5 950.6 L325.8 950.7 L330.1 950.9 L334.4 951.0 L338.7 951.1 L343.0 951.2 L347.4 951.3 L351.7 951.4 L356.0 951.5 L360.3 951.5 L364.6 951.5 L368.9 951.6 L373.2 951.6 L377.6 951.6 L381.9 951.6 L386.2 951.7 L390.5 951.7 L394.8 951.7 L399.1 951.7 L403.5 951.8 L407.8 951.8 L412.1 951.8 L416.4 951.8 L420.7 951.9 L425.0 951.9 L429.3 951.9 L433.7 951.9 L438.0 951.9 L442.3 951.9 L446.6 952.0 L450.9 952.0 L455.2 952.0 L459.5 952.0 L463.9 952.0 L468.2 952.0 L472.5 952.0 L476.8 952.1 L481.1 952.1 L485.4 952.1 L489.8 952.1 L494.1 952.1 L498.4 952.1 L502.7 952.1 L507.0 952.1 L511.3 952.1 L515.6 952.1 L520.0 952.1 L524.3 952.1 L528.6 952.1 L532.9 952.1" fill="none" stroke="#008000" stroke-width="3.7" stroke-dasharray="12.8 5.6"/>
<g fill="#008000"><circle cx="105.7" cy="737.4" r="2.78"/><circle cx="110.0" cy="766.0" r="2.78"/><circle cx="114.3" cy="792.6" r="2.78"/><circle cx="118.7" cy="809.9" r="2.78"/><circle cx="123.0" cy="824.1" r="2.78"/><circle cx="127.3" cy="836.7" r="2.78"/><circle cx="131.6" cy="847.5" r="2.78"/><circle cx="135.9" cy="856.2" r="2.78"/><circle cx="140.2" cy="863.7" r="2.78"/><circle cx="144.6" cy="869.9" r="2.78"/><circle cx="148.9" cy="874.8" r="2.78"/><circle cx="153.2" cy="879.2" r="2.78"/><circle cx="157.5" cy="883.5" r="2.78"/><circle cx="161.8" cy="888.4" r="2.78"/><circle cx="166.1" cy="892.7" r="2.78"/><circle cx="170.4" cy="897.2" r="2.78"/><circle cx="174.8" cy="901.4" r="2.78"/><circle cx="179.1" cy="905.6" r="2.78"/><circle cx="183.4" cy="909.4" r="2.78"/><circle cx="187.7" cy="913.3" r="2.78"/><circle cx="192.0" cy="916.7" r="2.78"/><circle cx="196.3" cy="920.2" r="2.78"/><circle cx="200.6" cy="923.1" r="2.78"/><circle cx="205.0" cy="926.0" r="2.78"/><circle cx="209.3" cy="929.3" r="2.78"/><circle cx="213.6" cy="932.2" r="2.78"/><circle cx="217.9" cy="935.2" r="2.78"/><circle cx="222.2" cy="937.5" r="2.78"/><circle cx="226.5" cy="939.5" r="2.78"/><circle cx="230.9" cy="941.0" r="2.78"/><circle cx="235.2" cy="942.4" r="2.78"/><circle cx="239.5" cy="943.5" r="2.78"/><circle cx="243.8" cy="944.4" r="2.78"/><circle cx="248.1" cy="945.2" r="2.78"/><circle cx="252.4" cy="945.9" r="2.78"/><circle cx="256.7" cy="946.5" r="2.78"/><circle cx="261.1" cy="947.0" r="2.78"/><circle cx="265.4" cy="947.5" r="2.78"/><circle cx="269.7" cy="947.9" r="2.78"/><circle cx="274.0" cy="948.3" r="2.78"/><circle cx="278.3" cy="948.6" r="2.78"/><circle cx="282.6" cy="948.9" r="2.78"/><circle cx="286.9" cy="949.1" r="2.78"/><circle cx="291.3" cy="949.4" r="2.78"/><circle cx="295.6" cy="949.6" r="2.78"/><circle cx="299.9" cy="949.8" r="2.78"/><circle cx="304.2" cy="950.0" r="2.78"/><circle cx="308.5" cy="950.2" r="2.78"/><circle cx="312.8" cy="950.3" r="2.78"/><circle cx="317.2" cy="950.5" r="2.78"/><circle cx="321.5" cy="950.6" r="2.78"/><circle cx="325.8" cy="950.7" r="2.78"/><circle cx="330.1" cy="950.9" r="2.78"/><circle cx="334.4" cy="951.0" r="2.78"/><circle cx="338.7" cy="951.1" r="2.78"/><circle cx="343.0" cy="951.2" r="2.78"/><circle cx="347.4" cy="951.3" r="2.78"/><circle cx="351.7" cy="951.4" r="2.78"/><circle cx="356.0" cy="951.5" r="2.78"/><circle cx="360.3" cy="951.5" r="2.78"/><circle cx="364.6" cy="951.5" r="2.78"/><circle cx="368.9" cy="951.6" r="2.78"/><circle cx="373.2" cy="951.6" r="2.78"/><circle cx="377.6" cy="951.6" r="2.78"/><circle cx="381.9" cy="951.6" r="2.78"/><circle cx="386.2" cy="951.7" r="2.78"/><circle cx="390.5" cy="951.7" r="2.78"/><circle cx="394.8" cy="951.7" r="2.78"/><circle cx="399.1" cy="951.7" r="2.78"/><circle cx="403.5" cy="951.8" r="2.78"/><circle cx="407.8" cy="951.8" r="2.78"/><circle cx="412.1" cy="951.8" r="2.78"/><circle cx="416.4" cy="951.8" r="2.78"/><circle cx="420.7" cy="951.9" r="2.78"/><circle cx="425.0" cy="951.9" r="2.78"/><circle cx="429.3" cy="951.9" r="2.78"/><circle cx="433.7" cy="951.9" r="2.78"/><circle cx="438.0" cy="951.9" r="2.78"/><circle cx="442.3" cy="951.9" r="2.78"/><circle cx="446.6" cy="952.0" r="2.78"/><circle cx="450.9" cy="952.0" r="2.78"/><circle cx="455.2" cy="952.0" r="2.78"/><circle cx="459.5" cy="952.0" r="2.78"/><circle cx="463.9" cy="952.0" r="2.78"/><circle cx="468.2" cy="952.0" r="2.78"/><circle cx="472.5" cy="952.0" r="2.78"/><circle cx="476.8" cy="952.1" r="2.78"/><circle cx="481.1" cy="952.1" r="2.78"/><circle cx="485.4" cy="952.1" r="2.78"/><circle cx="489.8" cy="952.1" r="2.78"/><circle cx="494.1" cy="952.1" r="2.78"/><circle cx="498.4" cy="952.1" r="2.78"/><circle cx="502.7" cy="952.1" r="2.78"/><circle cx="507.0" cy="952.1" r="2.78"/><circle cx="511.3" cy="952.1" r="2.78"/><circle cx="515.6" cy="952.1" r="2.78"/><circle cx="520.0" cy="952.1" r="2.78"/><circle cx="524.3" cy="952.1" r="2.78"/><circle cx="528.6" cy="952.1" r="2.78"/><circle cx="532.9" cy="952.1" r="2.78"/></g>
<path d="M105.7 972.5 L541.5 972.5" stroke="#0000ff" stroke-width="4.2" stroke-dasharray="22.2 5.6 3.5 5.6" fill="none"/>
</g>
<g stroke="#000" stroke-width="0.85" fill="none"><path d="M79.20 659.10 H564.80 M79.20 979.40 H564.80" stroke-opacity="0.50"/><path d="M79.60 659.10 V979.40 M564.40 659.10 V979.40" stroke-opacity="0.50"/></g>
<path d="M101.4 979.4 v2.6" stroke="#000" stroke-opacity="0.55" stroke-width="0.7"/><text x="101.7" y="998.0" text-anchor="middle" font-size="18.5">0</text><path d="M187.7 979.4 v2.6" stroke="#000" stroke-opacity="0.55" stroke-width="0.7"/><text x="188.0" y="998.0" text-anchor="middle" font-size="18.5">20</text><path d="M274.0 979.4 v2.6" stroke="#000" stroke-opacity="0.55" stroke-width="0.7"/><text x="274.3" y="998.0" text-anchor="middle" font-size="18.5">40</text><path d="M360.3 979.4 v2.6" stroke="#000" stroke-opacity="0.55" stroke-width="0.7"/><text x="360.6" y="998.0" text-anchor="middle" font-size="18.5">60</text><path d="M446.6 979.4 v2.6" stroke="#000" stroke-opacity="0.55" stroke-width="0.7"/><text x="446.9" y="998.0" text-anchor="middle" font-size="18.5">80</text><path d="M532.9 979.4 v2.6" stroke="#000" stroke-opacity="0.55" stroke-width="0.7"/><text x="533.2" y="998.0" text-anchor="middle" font-size="18.5">100</text><path d="M79.6 685.4 h-2.6" stroke="#000" stroke-opacity="0.55" stroke-width="0.7"/><text x="75.7" y="692.6" text-anchor="end" font-size="18.5">0.5</text><path d="M79.6 737.0 h-2.6" stroke="#000" stroke-opacity="0.55" stroke-width="0.7"/><text x="75.7" y="744.2" text-anchor="end" font-size="18.5">0.0</text><path d="M79.6 788.6 h-2.6" stroke="#000" stroke-opacity="0.55" stroke-width="0.7"/><text x="75.7" y="795.8" text-anchor="end" font-size="18.5">−0.5</text><path d="M79.6 840.2 h-2.6" stroke="#000" stroke-opacity="0.55" stroke-width="0.7"/><text x="75.7" y="847.4" text-anchor="end" font-size="18.5">−1.0</text><path d="M79.6 891.8 h-2.6" stroke="#000" stroke-opacity="0.55" stroke-width="0.7"/><text x="75.7" y="899.0" text-anchor="end" font-size="18.5">−1.5</text><path d="M79.6 943.5 h-2.6" stroke="#000" stroke-opacity="0.55" stroke-width="0.7"/><text x="75.7" y="950.7" text-anchor="end" font-size="18.5">−2.0</text>
<text x="322.0" y="1018.4" text-anchor="middle" font-size="18.5">iterations</text>
<text transform="translate(25.4 821.5) rotate(-90)" text-anchor="middle" font-size="18.5">Energy</text>
<rect x="361.6" y="668.1" width="192.7" height="114.8" rx="3.6" fill="#fff" fill-opacity="0.8" stroke="#d4d4d4" stroke-opacity="0.8" stroke-width="0.9"/>
<path d="M369.1 683.4 H406.7" stroke="#ff0000" stroke-width="3.5" stroke-dasharray="12.8 5.6" fill="none"/>
<circle cx="387.9" cy="683.4" r="2.5" fill="#ff0000"/>
<text x="420.7" y="690.4" font-size="18.5">Random path</text>
<path d="M369.1 710.7 H406.7" stroke="#000000" stroke-width="3.5" stroke-dasharray="12.8 5.6" fill="none"/>
<circle cx="387.9" cy="710.7" r="2.5" fill="#000000"/>
<text x="420.7" y="717.7" font-size="18.5">Shortest path</text>
<path d="M369.1 737.9 H406.7" stroke="#008000" stroke-width="3.5" stroke-dasharray="12.8 5.6" fill="none"/>
<circle cx="387.9" cy="737.9" r="2.5" fill="#008000"/>
<text x="420.7" y="744.9" font-size="18.5">SGD</text>
<path d="M369.1 765.2 H406.7" stroke="#0000ff" stroke-width="3.5" stroke-dasharray="22.2 5.6 3.5 5.6" fill="none"/>
<text x="420.7" y="772.2" font-size="18.5">Exact energy</text>
<clipPath id="clip4"><rect x="654.9" y="659.1" width="484.7" height="320.3"/></clipPath>
<g clip-path="url(#clip4)">
<path d="M676.5 703.7 L678.7 729.2 L680.8 751.3 L680.9 751.8 L683.1 771.8 L685.1 788.4 L685.2 789.1 L687.4 802.9 L687.6 803.9 L689.5 815.5 L689.6 816.5 L691.5 830.0 L691.8 834.3 L693.1 863.2 L694.0 876.3 L695.6 896.3 L696.2 900.4 L698.3 913.4 L698.6 914.8 L699.0 916.1 L700.5 922.1 L702.7 928.6 L703.1 929.5 L704.9 933.7 L707.1 938.0 L709.3 941.8 L709.7 942.6 L709.8 942.7 L711.4 945.4 L713.6 948.8 L715.8 951.8 L718.0 954.3 L718.0 954.3 L720.2 956.4 L720.8 956.9 L722.4 958.2 L724.5 959.8 L726.2 960.9 L726.7 961.3 L728.9 962.8 L731.1 964.1 L731.9 964.6 L733.3 965.4 L734.4 965.9 L735.5 966.4 L737.6 967.3 L739.8 968.2 L742.0 969.0 L742.9 969.3 L744.2 969.6 L746.0 970.1 L746.4 970.2 L748.6 970.6 L750.7 971.0 L752.9 971.4 L754.0 971.6 L755.1 971.7 L757.3 972.0 L759.5 972.3 L761.7 972.5 L762.9 972.5 L763.9 972.6 L765.1 972.7 L766.0 972.7 L768.2 972.8 L770.4 972.9 L772.6 973.1 L774.8 973.2 L776.2 973.2 L777.0 973.3 L779.1 973.3 L781.3 973.4 L783.5 973.5 L785.7 973.6 L787.2 973.6 L787.9 973.6 L790.1 973.7 L792.2 973.7 L794.4 973.8 L796.6 973.8 L798.3 973.9 L798.8 973.9 L801.0 973.9 L803.2 973.9 L805.3 973.9 L806.1 973.9 L807.5 973.9 L809.4 973.9 L809.7 973.9 L811.9 973.9 L814.1 973.9 L816.3 973.9 L818.4 973.9 L820.5 973.9 L820.6 973.9 L822.8 973.9 L825.0 973.9 L827.2 973.9 L829.4 973.9 L831.5 973.9 L831.5 973.9 L833.7 973.9 L835.9 973.9 L838.1 973.9 L840.3 973.9 L842.5 973.9 L842.6 973.9 L844.6 973.9 L846.8 973.9 L849.0 973.9 L851.2 973.9 L853.4 973.9 L853.7 973.9 L855.6 973.9 L857.8 973.9 L859.9 973.9 L862.1 973.9 L864.3 973.9 L864.8 973.9 L866.5 973.9 L868.7 973.9 L870.9 973.9 L875.8 973.9 L886.9 973.9 L898.0 973.9 L909.1 973.9 L920.1 973.9 L931.2 973.9 L942.3 973.9 L953.4 973.9 L964.4 973.9 L975.5 973.9 L986.6 973.9 L997.7 973.9 L1008.7 973.9 L1019.8 973.9 L1030.9 973.9 L1042.0 973.8 L1053.0 973.8 L1064.1 973.8 L1075.2 973.8 L1086.3 973.8 L1097.3 973.8 L1108.4 973.8 L1108.4 974.8 L1097.3 974.8 L1086.3 974.8 L1075.2 974.8 L1064.1 974.8 L1053.0 974.8 L1042.0 974.8 L1030.9 974.7 L1019.8 974.7 L1008.7 974.7 L997.7 974.7 L986.6 974.7 L975.5 974.7 L964.4 974.7 L953.4 974.7 L942.3 974.6 L931.2 974.6 L920.1 974.6 L909.1 974.6 L898.0 974.6 L886.9 974.5 L875.8 974.5 L870.9 974.5 L868.7 974.5 L866.5 974.5 L864.8 974.5 L864.3 974.5 L862.1 974.5 L859.9 974.4 L857.8 974.4 L855.6 974.4 L853.7 974.4 L853.4 974.4 L851.2 974.4 L849.0 974.4 L846.8 974.4 L844.6 974.4 L842.6 974.4 L842.5 974.4 L840.3 974.4 L838.1 974.4 L835.9 974.4 L833.7 974.4 L831.5 974.3 L831.5 974.3 L829.4 974.3 L827.2 974.3 L825.0 974.3 L822.8 974.3 L820.6 974.3 L820.5 974.3 L818.4 974.3 L816.3 974.3 L814.1 974.3 L811.9 974.3 L809.7 974.3 L809.4 974.3 L807.5 974.2 L805.3 974.2 L803.2 974.2 L801.0 974.2 L798.8 974.2 L798.3 974.2 L796.6 974.2 L794.4 974.2 L792.2 974.2 L790.1 974.2 L787.9 974.2 L787.2 974.2 L785.7 974.1 L783.5 974.1 L781.3 974.1 L779.1 974.1 L777.0 974.1 L776.2 974.1 L774.8 974.1 L772.6 974.1 L770.4 974.1 L768.2 974.1 L766.0 974.0 L765.1 974.0 L763.9 974.0 L761.7 974.0 L759.5 974.0 L757.3 974.0 L755.1 974.0 L754.0 974.0 L752.9 974.0 L750.7 974.0 L748.6 973.9 L746.4 973.9 L744.2 973.9 L742.9 973.9 L742.0 973.9 L741.3 973.9 L739.8 973.9 L737.6 973.9 L735.5 973.8 L733.3 973.8 L731.9 973.7 L731.1 973.7 L728.9 973.6 L726.7 973.5 L724.5 973.4 L722.4 973.3 L720.8 973.2 L720.2 973.2 L718.0 973.0 L715.8 972.9 L714.5 972.8 L713.6 972.7 L711.4 972.5 L709.7 972.3 L709.3 972.2 L707.1 971.8 L704.9 971.3 L703.1 970.8 L702.7 970.7 L700.5 969.8 L698.6 968.7 L698.3 968.4 L696.2 966.5 L695.6 965.9 L694.0 962.8 L691.8 955.5 L691.5 954.3 L689.6 941.5 L688.2 929.5 L687.6 925.0 L687.4 923.9 L685.2 906.5 L685.1 905.6 L683.1 883.9 L680.9 856.9 L680.8 856.3 L678.7 825.2 L676.5 788.4Z" fill="#ff0000" fill-opacity="0.20" stroke="#ff0000" stroke-opacity="0.20" stroke-width="0.5"/>
<path d="M676.5 703.7 L678.7 745.9 L679.1 751.3 L680.9 769.3 L683.1 785.8 L683.4 788.4 L685.2 801.0 L687.4 814.5 L687.6 815.4 L689.5 824.2 L689.6 824.7 L691.8 832.6 L694.0 838.9 L695.6 841.6 L696.2 842.0 L698.3 843.5 L698.6 843.6 L700.5 844.4 L702.7 845.4 L704.7 846.6 L704.9 846.7 L707.1 848.9 L709.3 851.8 L709.7 852.4 L711.4 854.9 L711.4 855.0 L713.6 858.9 L715.8 863.6 L717.1 866.5 L718.0 868.6 L720.2 874.0 L720.8 875.7 L722.1 879.7 L722.4 880.6 L724.5 889.6 L726.2 896.3 L726.7 898.2 L728.9 905.0 L731.1 911.9 L731.4 912.8 L731.9 914.7 L733.3 920.5 L734.4 924.4 L735.5 927.4 L737.6 932.4 L737.8 932.8 L739.8 937.0 L742.0 941.1 L742.9 942.6 L743.0 942.7 L744.2 944.4 L746.4 947.4 L748.6 950.0 L750.7 952.2 L751.2 952.7 L752.9 954.2 L754.0 955.1 L755.1 956.0 L757.3 957.6 L759.5 959.0 L761.7 960.3 L762.9 960.9 L763.9 961.4 L765.1 962.0 L766.0 962.4 L768.2 963.3 L770.4 964.2 L772.6 964.9 L774.8 965.6 L775.8 965.9 L776.2 966.0 L777.0 966.2 L779.1 966.7 L781.3 967.2 L783.5 967.6 L785.7 968.0 L787.2 968.3 L787.9 968.4 L790.1 968.8 L792.2 969.1 L792.7 969.2 L794.4 969.5 L796.6 969.9 L798.3 970.2 L798.8 970.3 L801.0 970.6 L803.2 971.0 L805.3 971.3 L807.5 971.5 L809.1 971.7 L809.4 971.7 L809.7 971.7 L811.9 971.9 L814.1 972.1 L816.3 972.3 L818.4 972.4 L820.5 972.6 L820.6 972.6 L822.8 972.7 L825.0 972.9 L827.2 973.0 L829.4 973.2 L831.5 973.3 L831.5 973.3 L833.7 973.4 L835.9 973.5 L838.1 973.6 L840.3 973.6 L842.5 973.7 L842.6 973.7 L844.6 973.7 L846.8 973.8 L849.0 973.8 L849.3 973.8 L851.2 973.8 L853.4 973.8 L853.7 973.8 L855.6 973.8 L857.8 973.8 L859.9 973.8 L862.1 973.8 L864.3 973.8 L864.8 973.8 L866.5 973.8 L868.7 973.8 L870.9 973.8 L875.8 973.8 L886.9 973.8 L898.0 973.8 L909.1 973.8 L920.1 973.8 L931.2 973.8 L942.3 973.8 L953.4 973.8 L964.4 973.8 L975.5 973.8 L986.6 973.8 L997.7 973.8 L1008.7 973.8 L1019.8 973.8 L1030.9 973.8 L1042.0 973.8 L1053.0 973.8 L1064.1 973.8 L1075.2 973.8 L1086.3 973.8 L1097.3 973.8 L1108.4 973.8 L1108.4 974.8 L1097.3 974.8 L1086.3 974.8 L1075.2 974.8 L1064.1 974.8 L1053.0 974.8 L1042.0 974.8 L1030.9 974.7 L1019.8 974.7 L1008.7 974.7 L997.7 974.7 L986.6 974.7 L975.5 974.7 L964.4 974.7 L953.4 974.6 L942.3 974.6 L931.2 974.6 L920.1 974.6 L909.1 974.5 L898.0 974.5 L886.9 974.5 L875.8 974.4 L870.9 974.4 L868.7 974.4 L866.5 974.4 L864.8 974.4 L864.3 974.4 L862.1 974.4 L859.9 974.4 L857.8 974.4 L855.6 974.4 L853.7 974.4 L853.4 974.4 L851.2 974.4 L849.0 974.3 L846.8 974.3 L844.6 974.3 L842.6 974.3 L842.5 974.3 L840.3 974.3 L838.1 974.3 L835.9 974.3 L833.7 974.3 L831.5 974.3 L831.5 974.3 L829.4 974.3 L827.2 974.3 L825.0 974.2 L822.8 974.2 L820.6 974.2 L820.5 974.2 L818.4 974.2 L816.3 974.2 L814.1 974.2 L811.9 974.2 L809.7 974.2 L809.4 974.2 L807.5 974.2 L805.3 974.1 L803.2 974.1 L801.0 974.1 L798.8 974.1 L798.3 974.1 L796.6 974.1 L794.4 974.1 L792.2 974.1 L790.1 974.1 L787.9 974.1 L787.2 974.1 L785.7 974.0 L783.5 974.0 L781.3 974.0 L779.1 974.0 L777.0 974.0 L776.2 974.0 L774.8 974.0 L772.6 974.0 L770.4 974.0 L768.2 973.9 L766.0 973.9 L765.1 973.9 L763.9 973.9 L761.7 973.9 L759.5 973.9 L757.3 973.9 L755.1 973.9 L754.0 973.9 L752.9 973.8 L750.7 973.8 L748.6 973.8 L746.4 973.8 L744.2 973.8 L743.0 973.8 L742.9 973.8 L742.0 973.8 L739.8 973.7 L737.6 973.7 L735.5 973.6 L733.3 973.6 L731.9 973.5 L731.1 973.5 L728.9 973.4 L726.7 973.3 L724.5 973.2 L722.4 973.1 L720.8 973.0 L720.2 972.9 L718.0 972.8 L718.0 972.8 L715.8 972.7 L713.6 972.5 L711.4 972.3 L709.7 972.1 L709.3 972.0 L707.1 971.8 L704.9 971.5 L703.1 971.2 L702.7 971.1 L700.5 970.7 L698.6 970.3 L698.3 970.3 L696.2 969.6 L694.0 968.8 L693.1 968.4 L691.8 967.4 L689.6 964.6 L687.6 960.0 L687.4 959.6 L687.3 959.2 L685.2 942.7 L684.8 937.7 L683.1 896.2 L682.4 879.7 L680.9 850.9 L680.8 850.1 L678.7 814.2 L676.5 782.2Z" fill="#000000" fill-opacity="0.25" stroke="#000000" stroke-opacity="0.25" stroke-width="0.5"/>
<path d="M680.8 723.2 L683.0 747.2 L685.1 766.2 L685.4 768.0 L687.2 779.4 L689.4 790.1 L691.5 798.7 L691.8 799.7 L692.2 801.1 L693.6 805.7 L695.8 811.5 L697.9 816.5 L699.0 818.6 L700.0 820.7 L702.2 824.4 L702.7 825.3 L704.3 827.7 L706.4 830.8 L708.6 833.6 L709.8 835.0 L710.7 836.1 L712.8 838.3 L713.7 839.2 L715.0 840.3 L717.1 842.3 L719.3 844.3 L721.4 846.6 L721.4 846.6 L723.5 849.2 L724.7 850.7 L725.7 852.0 L727.8 855.2 L729.6 858.1 L729.9 858.6 L732.1 862.6 L734.2 867.2 L735.6 870.4 L736.1 871.4 L736.3 872.0 L738.5 877.1 L740.6 882.7 L741.3 884.7 L742.7 889.3 L744.9 897.0 L746.0 901.2 L746.6 903.2 L747.0 904.6 L749.1 912.3 L751.2 919.5 L751.3 919.7 L753.4 926.9 L755.6 933.3 L756.0 934.4 L757.6 938.1 L757.7 938.3 L759.8 942.6 L762.0 946.2 L762.9 947.6 L764.1 949.3 L766.2 951.9 L768.4 954.2 L768.5 954.4 L770.5 956.2 L771.1 956.7 L772.6 958.0 L774.8 959.6 L776.9 961.1 L779.0 962.4 L779.5 962.6 L781.0 963.4 L781.2 963.5 L783.3 964.4 L785.4 965.3 L787.6 966.0 L789.7 966.7 L790.5 966.9 L791.9 967.3 L792.7 967.5 L794.0 967.8 L796.1 968.3 L798.3 968.8 L800.4 969.2 L801.4 969.4 L802.5 969.6 L804.7 969.9 L806.8 970.3 L808.9 970.6 L809.1 970.6 L811.1 970.8 L812.4 971.0 L813.2 971.1 L815.3 971.3 L817.5 971.6 L819.6 971.8 L821.7 972.0 L823.3 972.1 L823.9 972.2 L826.0 972.3 L828.2 972.5 L829.8 972.5 L830.3 972.6 L832.4 972.7 L834.3 972.8 L834.6 972.8 L836.7 972.9 L838.8 973.0 L841.0 973.1 L843.1 973.2 L845.2 973.3 L845.3 973.3 L847.4 973.4 L849.5 973.5 L851.6 973.5 L853.8 973.6 L855.9 973.7 L856.2 973.7 L858.0 973.7 L860.2 973.8 L862.3 973.8 L864.4 973.9 L866.6 973.9 L867.2 973.9 L868.7 973.9 L870.9 973.9 L878.2 973.9 L889.1 973.9 L900.1 973.9 L911.1 973.9 L922.0 973.9 L933.0 973.9 L943.9 973.9 L954.9 973.9 L965.9 973.9 L976.8 973.9 L987.8 973.9 L998.8 973.9 L1009.7 973.9 L1020.7 973.9 L1031.7 973.9 L1042.6 973.9 L1053.6 973.8 L1064.5 973.8 L1075.5 973.8 L1086.5 973.8 L1097.4 973.8 L1108.4 973.8 L1108.4 974.8 L1097.4 974.8 L1086.5 974.8 L1075.5 974.8 L1064.5 974.8 L1053.6 974.8 L1042.6 974.7 L1031.7 974.7 L1020.7 974.7 L1009.7 974.7 L998.8 974.7 L987.8 974.7 L976.8 974.7 L965.9 974.6 L954.9 974.6 L943.9 974.6 L933.0 974.5 L922.0 974.5 L911.1 974.5 L900.1 974.4 L889.1 974.4 L878.2 974.3 L870.9 974.3 L868.7 974.3 L867.2 974.3 L866.6 974.3 L864.4 974.3 L862.3 974.3 L860.2 974.2 L858.0 974.2 L856.2 974.2 L855.9 974.2 L853.8 974.2 L851.6 974.2 L849.5 974.2 L847.4 974.2 L845.3 974.2 L845.2 974.2 L843.1 974.1 L841.0 974.1 L838.8 974.1 L836.7 974.1 L834.6 974.1 L834.3 974.1 L832.4 974.1 L830.3 974.1 L828.2 974.1 L826.0 974.0 L823.9 974.0 L823.3 974.0 L821.7 974.0 L819.6 974.0 L817.5 974.0 L815.3 974.0 L813.2 974.0 L812.4 973.9 L811.1 973.9 L808.9 973.9 L806.8 973.9 L804.7 973.9 L802.5 973.9 L801.4 973.9 L800.4 973.9 L798.3 973.8 L796.1 973.8 L794.0 973.8 L791.9 973.8 L790.5 973.8 L789.7 973.8 L787.6 973.8 L785.4 973.7 L783.3 973.7 L781.2 973.7 L779.5 973.7 L779.0 973.7 L776.9 973.7 L774.8 973.6 L772.6 973.6 L770.5 973.6 L768.5 973.6 L768.4 973.6 L766.2 973.6 L764.1 973.5 L762.9 973.5 L762.0 973.5 L759.8 973.5 L757.7 973.4 L757.6 973.4 L755.6 973.2 L753.4 973.0 L751.3 972.8 L749.1 972.6 L747.0 972.4 L746.6 972.3 L744.9 972.1 L742.7 971.8 L740.6 971.6 L738.5 971.3 L737.0 971.1 L736.3 971.0 L735.6 970.9 L734.2 970.7 L732.1 970.3 L729.9 969.9 L727.8 969.4 L725.7 969.0 L724.7 968.7 L723.5 968.4 L721.4 967.9 L719.7 967.4 L719.3 967.2 L717.1 966.5 L715.0 965.6 L713.7 965.0 L712.8 964.6 L711.1 963.7 L710.7 963.5 L708.6 962.2 L706.4 960.7 L704.3 958.9 L702.7 957.2 L702.4 956.9 L702.2 956.6 L700.0 953.0 L698.1 948.8 L697.9 948.4 L695.8 943.0 L693.8 936.5 L693.6 935.9 L691.8 926.8 L691.5 925.1 L689.5 911.8 L689.4 911.1 L687.2 895.0 L685.1 874.8 L685.1 874.2 L683.0 844.9 L680.8 806.9Z" fill="#008000" fill-opacity="0.30" stroke="#008000" stroke-opacity="0.30" stroke-width="0.5"/>
<path d="M676.5 749.5 L680.8 806.9 L685.1 868.4 L689.5 912.8 L693.8 936.0 L698.1 949.3 L702.4 956.7 L706.7 960.9 L711.1 963.4 L715.4 965.4 L719.7 966.7 L724.0 967.9 L728.3 968.8 L732.6 969.6 L737.0 970.3 L741.3 971.1 L745.6 971.7 L749.9 972.2 L754.2 972.6 L758.6 973.0 L762.9 973.3 L767.2 973.5 L771.5 973.6 L775.8 973.7 L780.2 973.8 L784.5 973.9 L788.8 974.0 L793.1 974.0 L797.4 974.1 L801.8 974.1 L806.1 974.2 L810.4 974.2 L814.7 974.2 L819.0 974.2 L823.3 974.2 L827.7 974.2 L832.0 974.2 L836.3 974.2 L840.6 974.2 L844.9 974.2 L849.3 974.2 L853.6 974.2 L857.9 974.2 L862.2 974.2 L866.5 974.2 L870.9 974.2 L875.2 974.2 L879.5 974.2 L883.8 974.2 L888.1 974.2 L892.5 974.2 L896.8 974.2 L901.1 974.2 L905.4 974.2 L909.7 974.2 L914.0 974.2 L918.4 974.2 L922.7 974.2 L927.0 974.2 L931.3 974.2 L935.6 974.2 L940.0 974.2 L944.3 974.2 L948.6 974.3 L952.9 974.3 L957.2 974.3 L961.6 974.3 L965.9 974.3 L970.2 974.3 L974.5 974.3 L978.8 974.3 L983.1 974.3 L987.5 974.3 L991.8 974.3 L996.1 974.3 L1000.4 974.3 L1004.7 974.3 L1009.1 974.3 L1013.4 974.3 L1017.7 974.3 L1022.0 974.3 L1026.3 974.3 L1030.7 974.3 L1035.0 974.3 L1039.3 974.3 L1043.6 974.3 L1047.9 974.3 L1052.3 974.3 L1056.6 974.3 L1060.9 974.3 L1065.2 974.3 L1069.5 974.3 L1073.8 974.3 L1078.2 974.3 L1082.5 974.3 L1086.8 974.3 L1091.1 974.3 L1095.4 974.3 L1099.8 974.3 L1104.1 974.3 L1108.4 974.3" fill="none" stroke="#ff0000" stroke-width="3.7" stroke-dasharray="12.8 5.6"/>
<g fill="#ff0000"><circle cx="676.5" cy="749.5" r="2.78"/><circle cx="680.8" cy="806.9" r="2.78"/><circle cx="685.1" cy="868.4" r="2.78"/><circle cx="689.5" cy="912.8" r="2.78"/><circle cx="693.8" cy="936.0" r="2.78"/><circle cx="698.1" cy="949.3" r="2.78"/><circle cx="702.4" cy="956.7" r="2.78"/><circle cx="706.7" cy="960.9" r="2.78"/><circle cx="711.1" cy="963.4" r="2.78"/><circle cx="715.4" cy="965.4" r="2.78"/><circle cx="719.7" cy="966.7" r="2.78"/><circle cx="724.0" cy="967.9" r="2.78"/><circle cx="728.3" cy="968.8" r="2.78"/><circle cx="732.6" cy="969.6" r="2.78"/><circle cx="737.0" cy="970.3" r="2.78"/><circle cx="741.3" cy="971.1" r="2.78"/><circle cx="745.6" cy="971.7" r="2.78"/><circle cx="749.9" cy="972.2" r="2.78"/><circle cx="754.2" cy="972.6" r="2.78"/><circle cx="758.6" cy="973.0" r="2.78"/><circle cx="762.9" cy="973.3" r="2.78"/><circle cx="767.2" cy="973.5" r="2.78"/><circle cx="771.5" cy="973.6" r="2.78"/><circle cx="775.8" cy="973.7" r="2.78"/><circle cx="780.2" cy="973.8" r="2.78"/><circle cx="784.5" cy="973.9" r="2.78"/><circle cx="788.8" cy="974.0" r="2.78"/><circle cx="793.1" cy="974.0" r="2.78"/><circle cx="797.4" cy="974.1" r="2.78"/><circle cx="801.8" cy="974.1" r="2.78"/><circle cx="806.1" cy="974.2" r="2.78"/><circle cx="810.4" cy="974.2" r="2.78"/><circle cx="814.7" cy="974.2" r="2.78"/><circle cx="819.0" cy="974.2" r="2.78"/><circle cx="823.3" cy="974.2" r="2.78"/><circle cx="827.7" cy="974.2" r="2.78"/><circle cx="832.0" cy="974.2" r="2.78"/><circle cx="836.3" cy="974.2" r="2.78"/><circle cx="840.6" cy="974.2" r="2.78"/><circle cx="844.9" cy="974.2" r="2.78"/><circle cx="849.3" cy="974.2" r="2.78"/><circle cx="853.6" cy="974.2" r="2.78"/><circle cx="857.9" cy="974.2" r="2.78"/><circle cx="862.2" cy="974.2" r="2.78"/><circle cx="866.5" cy="974.2" r="2.78"/><circle cx="870.9" cy="974.2" r="2.78"/><circle cx="875.2" cy="974.2" r="2.78"/><circle cx="879.5" cy="974.2" r="2.78"/><circle cx="883.8" cy="974.2" r="2.78"/><circle cx="888.1" cy="974.2" r="2.78"/><circle cx="892.5" cy="974.2" r="2.78"/><circle cx="896.8" cy="974.2" r="2.78"/><circle cx="901.1" cy="974.2" r="2.78"/><circle cx="905.4" cy="974.2" r="2.78"/><circle cx="909.7" cy="974.2" r="2.78"/><circle cx="914.0" cy="974.2" r="2.78"/><circle cx="918.4" cy="974.2" r="2.78"/><circle cx="922.7" cy="974.2" r="2.78"/><circle cx="927.0" cy="974.2" r="2.78"/><circle cx="931.3" cy="974.2" r="2.78"/><circle cx="935.6" cy="974.2" r="2.78"/><circle cx="940.0" cy="974.2" r="2.78"/><circle cx="944.3" cy="974.2" r="2.78"/><circle cx="948.6" cy="974.3" r="2.78"/><circle cx="952.9" cy="974.3" r="2.78"/><circle cx="957.2" cy="974.3" r="2.78"/><circle cx="961.6" cy="974.3" r="2.78"/><circle cx="965.9" cy="974.3" r="2.78"/><circle cx="970.2" cy="974.3" r="2.78"/><circle cx="974.5" cy="974.3" r="2.78"/><circle cx="978.8" cy="974.3" r="2.78"/><circle cx="983.1" cy="974.3" r="2.78"/><circle cx="987.5" cy="974.3" r="2.78"/><circle cx="991.8" cy="974.3" r="2.78"/><circle cx="996.1" cy="974.3" r="2.78"/><circle cx="1000.4" cy="974.3" r="2.78"/><circle cx="1004.7" cy="974.3" r="2.78"/><circle cx="1009.1" cy="974.3" r="2.78"/><circle cx="1013.4" cy="974.3" r="2.78"/><circle cx="1017.7" cy="974.3" r="2.78"/><circle cx="1022.0" cy="974.3" r="2.78"/><circle cx="1026.3" cy="974.3" r="2.78"/><circle cx="1030.7" cy="974.3" r="2.78"/><circle cx="1035.0" cy="974.3" r="2.78"/><circle cx="1039.3" cy="974.3" r="2.78"/><circle cx="1043.6" cy="974.3" r="2.78"/><circle cx="1047.9" cy="974.3" r="2.78"/><circle cx="1052.3" cy="974.3" r="2.78"/><circle cx="1056.6" cy="974.3" r="2.78"/><circle cx="1060.9" cy="974.3" r="2.78"/><circle cx="1065.2" cy="974.3" r="2.78"/><circle cx="1069.5" cy="974.3" r="2.78"/><circle cx="1073.8" cy="974.3" r="2.78"/><circle cx="1078.2" cy="974.3" r="2.78"/><circle cx="1082.5" cy="974.3" r="2.78"/><circle cx="1086.8" cy="974.3" r="2.78"/><circle cx="1091.1" cy="974.3" r="2.78"/><circle cx="1095.4" cy="974.3" r="2.78"/><circle cx="1099.8" cy="974.3" r="2.78"/><circle cx="1104.1" cy="974.3" r="2.78"/><circle cx="1108.4" cy="974.3" r="2.78"/></g>
<path d="M676.5 741.7 L680.8 831.3 L685.1 889.2 L689.5 912.1 L693.8 925.3 L698.1 931.9 L702.4 937.4 L706.7 941.3 L711.1 945.1 L715.4 948.8 L719.7 952.7 L724.0 956.3 L728.3 960.1 L732.6 962.5 L737.0 965.0 L741.3 966.7 L745.6 968.0 L749.9 969.0 L754.2 970.0 L758.6 970.9 L762.9 971.7 L767.2 972.1 L771.5 972.5 L775.8 972.8 L780.2 973.2 L784.5 973.5 L788.8 973.8 L793.1 973.9 L797.4 974.0 L801.8 974.1 L806.1 974.2 L810.4 974.2 L814.7 974.2 L819.0 974.2 L823.3 974.2 L827.7 974.2 L832.0 974.2 L836.3 974.2 L840.6 974.2 L844.9 974.2 L849.3 974.2 L853.6 974.2 L857.9 974.2 L862.2 974.2 L866.5 974.2 L870.9 974.2 L875.2 974.2 L879.5 974.2 L883.8 974.2 L888.1 974.2 L892.5 974.2 L896.8 974.2 L901.1 974.2 L905.4 974.2 L909.7 974.2 L914.0 974.2 L918.4 974.2 L922.7 974.2 L927.0 974.2 L931.3 974.2 L935.6 974.2 L940.0 974.3 L944.3 974.3 L948.6 974.3 L952.9 974.3 L957.2 974.3 L961.6 974.3 L965.9 974.3 L970.2 974.3 L974.5 974.3 L978.8 974.3 L983.1 974.3 L987.5 974.3 L991.8 974.3 L996.1 974.3 L1000.4 974.3 L1004.7 974.3 L1009.1 974.3 L1013.4 974.3 L1017.7 974.3 L1022.0 974.3 L1026.3 974.3 L1030.7 974.3 L1035.0 974.3 L1039.3 974.3 L1043.6 974.3 L1047.9 974.3 L1052.3 974.3 L1056.6 974.3 L1060.9 974.3 L1065.2 974.3 L1069.5 974.3 L1073.8 974.3 L1078.2 974.3 L1082.5 974.3 L1086.8 974.3 L1091.1 974.3 L1095.4 974.3 L1099.8 974.3 L1104.1 974.3 L1108.4 974.3" fill="none" stroke="#000000" stroke-width="3.7" stroke-dasharray="12.8 5.6"/>
<g fill="#000000"><circle cx="676.5" cy="741.7" r="2.78"/><circle cx="680.8" cy="831.3" r="2.78"/><circle cx="685.1" cy="889.2" r="2.78"/><circle cx="689.5" cy="912.1" r="2.78"/><circle cx="693.8" cy="925.3" r="2.78"/><circle cx="698.1" cy="931.9" r="2.78"/><circle cx="702.4" cy="937.4" r="2.78"/><circle cx="706.7" cy="941.3" r="2.78"/><circle cx="711.1" cy="945.1" r="2.78"/><circle cx="715.4" cy="948.8" r="2.78"/><circle cx="719.7" cy="952.7" r="2.78"/><circle cx="724.0" cy="956.3" r="2.78"/><circle cx="728.3" cy="960.1" r="2.78"/><circle cx="732.6" cy="962.5" r="2.78"/><circle cx="737.0" cy="965.0" r="2.78"/><circle cx="741.3" cy="966.7" r="2.78"/><circle cx="745.6" cy="968.0" r="2.78"/><circle cx="749.9" cy="969.0" r="2.78"/><circle cx="754.2" cy="970.0" r="2.78"/><circle cx="758.6" cy="970.9" r="2.78"/><circle cx="762.9" cy="971.7" r="2.78"/><circle cx="767.2" cy="972.1" r="2.78"/><circle cx="771.5" cy="972.5" r="2.78"/><circle cx="775.8" cy="972.8" r="2.78"/><circle cx="780.2" cy="973.2" r="2.78"/><circle cx="784.5" cy="973.5" r="2.78"/><circle cx="788.8" cy="973.8" r="2.78"/><circle cx="793.1" cy="973.9" r="2.78"/><circle cx="797.4" cy="974.0" r="2.78"/><circle cx="801.8" cy="974.1" r="2.78"/><circle cx="806.1" cy="974.2" r="2.78"/><circle cx="810.4" cy="974.2" r="2.78"/><circle cx="814.7" cy="974.2" r="2.78"/><circle cx="819.0" cy="974.2" r="2.78"/><circle cx="823.3" cy="974.2" r="2.78"/><circle cx="827.7" cy="974.2" r="2.78"/><circle cx="832.0" cy="974.2" r="2.78"/><circle cx="836.3" cy="974.2" r="2.78"/><circle cx="840.6" cy="974.2" r="2.78"/><circle cx="844.9" cy="974.2" r="2.78"/><circle cx="849.3" cy="974.2" r="2.78"/><circle cx="853.6" cy="974.2" r="2.78"/><circle cx="857.9" cy="974.2" r="2.78"/><circle cx="862.2" cy="974.2" r="2.78"/><circle cx="866.5" cy="974.2" r="2.78"/><circle cx="870.9" cy="974.2" r="2.78"/><circle cx="875.2" cy="974.2" r="2.78"/><circle cx="879.5" cy="974.2" r="2.78"/><circle cx="883.8" cy="974.2" r="2.78"/><circle cx="888.1" cy="974.2" r="2.78"/><circle cx="892.5" cy="974.2" r="2.78"/><circle cx="896.8" cy="974.2" r="2.78"/><circle cx="901.1" cy="974.2" r="2.78"/><circle cx="905.4" cy="974.2" r="2.78"/><circle cx="909.7" cy="974.2" r="2.78"/><circle cx="914.0" cy="974.2" r="2.78"/><circle cx="918.4" cy="974.2" r="2.78"/><circle cx="922.7" cy="974.2" r="2.78"/><circle cx="927.0" cy="974.2" r="2.78"/><circle cx="931.3" cy="974.2" r="2.78"/><circle cx="935.6" cy="974.2" r="2.78"/><circle cx="940.0" cy="974.3" r="2.78"/><circle cx="944.3" cy="974.3" r="2.78"/><circle cx="948.6" cy="974.3" r="2.78"/><circle cx="952.9" cy="974.3" r="2.78"/><circle cx="957.2" cy="974.3" r="2.78"/><circle cx="961.6" cy="974.3" r="2.78"/><circle cx="965.9" cy="974.3" r="2.78"/><circle cx="970.2" cy="974.3" r="2.78"/><circle cx="974.5" cy="974.3" r="2.78"/><circle cx="978.8" cy="974.3" r="2.78"/><circle cx="983.1" cy="974.3" r="2.78"/><circle cx="987.5" cy="974.3" r="2.78"/><circle cx="991.8" cy="974.3" r="2.78"/><circle cx="996.1" cy="974.3" r="2.78"/><circle cx="1000.4" cy="974.3" r="2.78"/><circle cx="1004.7" cy="974.3" r="2.78"/><circle cx="1009.1" cy="974.3" r="2.78"/><circle cx="1013.4" cy="974.3" r="2.78"/><circle cx="1017.7" cy="974.3" r="2.78"/><circle cx="1022.0" cy="974.3" r="2.78"/><circle cx="1026.3" cy="974.3" r="2.78"/><circle cx="1030.7" cy="974.3" r="2.78"/><circle cx="1035.0" cy="974.3" r="2.78"/><circle cx="1039.3" cy="974.3" r="2.78"/><circle cx="1043.6" cy="974.3" r="2.78"/><circle cx="1047.9" cy="974.3" r="2.78"/><circle cx="1052.3" cy="974.3" r="2.78"/><circle cx="1056.6" cy="974.3" r="2.78"/><circle cx="1060.9" cy="974.3" r="2.78"/><circle cx="1065.2" cy="974.3" r="2.78"/><circle cx="1069.5" cy="974.3" r="2.78"/><circle cx="1073.8" cy="974.3" r="2.78"/><circle cx="1078.2" cy="974.3" r="2.78"/><circle cx="1082.5" cy="974.3" r="2.78"/><circle cx="1086.8" cy="974.3" r="2.78"/><circle cx="1091.1" cy="974.3" r="2.78"/><circle cx="1095.4" cy="974.3" r="2.78"/><circle cx="1099.8" cy="974.3" r="2.78"/><circle cx="1104.1" cy="974.3" r="2.78"/><circle cx="1108.4" cy="974.3" r="2.78"/></g>
<path d="M680.8 757.9 L685.1 794.3 L689.5 823.5 L693.8 845.9 L698.1 863.5 L702.4 880.1 L706.7 894.9 L711.1 907.0 L715.4 917.0 L719.7 925.3 L724.0 932.8 L728.3 938.6 L732.6 944.0 L737.0 948.5 L741.3 952.7 L745.6 956.3 L749.9 959.2 L754.2 961.7 L758.6 963.9 L762.9 965.9 L767.2 967.3 L771.5 968.4 L775.8 969.3 L780.2 970.1 L784.5 970.7 L788.8 971.3 L793.1 971.8 L797.4 972.2 L801.8 972.5 L806.1 972.8 L810.4 973.0 L814.7 973.1 L819.0 973.3 L823.3 973.4 L827.7 973.5 L832.0 973.7 L836.3 973.8 L840.6 974.0 L844.9 974.1 L849.3 974.2 L853.6 974.2 L857.9 974.2 L862.2 974.2 L866.5 974.2 L870.9 974.2 L875.2 974.2 L879.5 974.2 L883.8 974.2 L888.1 974.2 L892.5 974.2 L896.8 974.2 L901.1 974.2 L905.4 974.2 L909.7 974.2 L914.0 974.2 L918.4 974.2 L922.7 974.2 L927.0 974.2 L931.3 974.2 L935.6 974.2 L940.0 974.2 L944.3 974.2 L948.6 974.2 L952.9 974.2 L957.2 974.2 L961.6 974.2 L965.9 974.3 L970.2 974.3 L974.5 974.3 L978.8 974.3 L983.1 974.3 L987.5 974.3 L991.8 974.3 L996.1 974.3 L1000.4 974.3 L1004.7 974.3 L1009.1 974.3 L1013.4 974.3 L1017.7 974.3 L1022.0 974.3 L1026.3 974.3 L1030.7 974.3 L1035.0 974.3 L1039.3 974.3 L1043.6 974.3 L1047.9 974.3 L1052.3 974.3 L1056.6 974.3 L1060.9 974.3 L1065.2 974.3 L1069.5 974.3 L1073.8 974.3 L1078.2 974.3 L1082.5 974.3 L1086.8 974.3 L1091.1 974.3 L1095.4 974.3 L1099.8 974.3 L1104.1 974.3 L1108.4 974.3" fill="none" stroke="#008000" stroke-width="3.7" stroke-dasharray="12.8 5.6"/>
<g fill="#008000"><circle cx="680.8" cy="757.9" r="2.78"/><circle cx="685.1" cy="794.3" r="2.78"/><circle cx="689.5" cy="823.5" r="2.78"/><circle cx="693.8" cy="845.9" r="2.78"/><circle cx="698.1" cy="863.5" r="2.78"/><circle cx="702.4" cy="880.1" r="2.78"/><circle cx="706.7" cy="894.9" r="2.78"/><circle cx="711.1" cy="907.0" r="2.78"/><circle cx="715.4" cy="917.0" r="2.78"/><circle cx="719.7" cy="925.3" r="2.78"/><circle cx="724.0" cy="932.8" r="2.78"/><circle cx="728.3" cy="938.6" r="2.78"/><circle cx="732.6" cy="944.0" r="2.78"/><circle cx="737.0" cy="948.5" r="2.78"/><circle cx="741.3" cy="952.7" r="2.78"/><circle cx="745.6" cy="956.3" r="2.78"/><circle cx="749.9" cy="959.2" r="2.78"/><circle cx="754.2" cy="961.7" r="2.78"/><circle cx="758.6" cy="963.9" r="2.78"/><circle cx="762.9" cy="965.9" r="2.78"/><circle cx="767.2" cy="967.3" r="2.78"/><circle cx="771.5" cy="968.4" r="2.78"/><circle cx="775.8" cy="969.3" r="2.78"/><circle cx="780.2" cy="970.1" r="2.78"/><circle cx="784.5" cy="970.7" r="2.78"/><circle cx="788.8" cy="971.3" r="2.78"/><circle cx="793.1" cy="971.8" r="2.78"/><circle cx="797.4" cy="972.2" r="2.78"/><circle cx="801.8" cy="972.5" r="2.78"/><circle cx="806.1" cy="972.8" r="2.78"/><circle cx="810.4" cy="973.0" r="2.78"/><circle cx="814.7" cy="973.1" r="2.78"/><circle cx="819.0" cy="973.3" r="2.78"/><circle cx="823.3" cy="973.4" r="2.78"/><circle cx="827.7" cy="973.5" r="2.78"/><circle cx="832.0" cy="973.7" r="2.78"/><circle cx="836.3" cy="973.8" r="2.78"/><circle cx="840.6" cy="974.0" r="2.78"/><circle cx="844.9" cy="974.1" r="2.78"/><circle cx="849.3" cy="974.2" r="2.78"/><circle cx="853.6" cy="974.2" r="2.78"/><circle cx="857.9" cy="974.2" r="2.78"/><circle cx="862.2" cy="974.2" r="2.78"/><circle cx="866.5" cy="974.2" r="2.78"/><circle cx="870.9" cy="974.2" r="2.78"/><circle cx="875.2" cy="974.2" r="2.78"/><circle cx="879.5" cy="974.2" r="2.78"/><circle cx="883.8" cy="974.2" r="2.78"/><circle cx="888.1" cy="974.2" r="2.78"/><circle cx="892.5" cy="974.2" r="2.78"/><circle cx="896.8" cy="974.2" r="2.78"/><circle cx="901.1" cy="974.2" r="2.78"/><circle cx="905.4" cy="974.2" r="2.78"/><circle cx="909.7" cy="974.2" r="2.78"/><circle cx="914.0" cy="974.2" r="2.78"/><circle cx="918.4" cy="974.2" r="2.78"/><circle cx="922.7" cy="974.2" r="2.78"/><circle cx="927.0" cy="974.2" r="2.78"/><circle cx="931.3" cy="974.2" r="2.78"/><circle cx="935.6" cy="974.2" r="2.78"/><circle cx="940.0" cy="974.2" r="2.78"/><circle cx="944.3" cy="974.2" r="2.78"/><circle cx="948.6" cy="974.2" r="2.78"/><circle cx="952.9" cy="974.2" r="2.78"/><circle cx="957.2" cy="974.2" r="2.78"/><circle cx="961.6" cy="974.2" r="2.78"/><circle cx="965.9" cy="974.3" r="2.78"/><circle cx="970.2" cy="974.3" r="2.78"/><circle cx="974.5" cy="974.3" r="2.78"/><circle cx="978.8" cy="974.3" r="2.78"/><circle cx="983.1" cy="974.3" r="2.78"/><circle cx="987.5" cy="974.3" r="2.78"/><circle cx="991.8" cy="974.3" r="2.78"/><circle cx="996.1" cy="974.3" r="2.78"/><circle cx="1000.4" cy="974.3" r="2.78"/><circle cx="1004.7" cy="974.3" r="2.78"/><circle cx="1009.1" cy="974.3" r="2.78"/><circle cx="1013.4" cy="974.3" r="2.78"/><circle cx="1017.7" cy="974.3" r="2.78"/><circle cx="1022.0" cy="974.3" r="2.78"/><circle cx="1026.3" cy="974.3" r="2.78"/><circle cx="1030.7" cy="974.3" r="2.78"/><circle cx="1035.0" cy="974.3" r="2.78"/><circle cx="1039.3" cy="974.3" r="2.78"/><circle cx="1043.6" cy="974.3" r="2.78"/><circle cx="1047.9" cy="974.3" r="2.78"/><circle cx="1052.3" cy="974.3" r="2.78"/><circle cx="1056.6" cy="974.3" r="2.78"/><circle cx="1060.9" cy="974.3" r="2.78"/><circle cx="1065.2" cy="974.3" r="2.78"/><circle cx="1069.5" cy="974.3" r="2.78"/><circle cx="1073.8" cy="974.3" r="2.78"/><circle cx="1078.2" cy="974.3" r="2.78"/><circle cx="1082.5" cy="974.3" r="2.78"/><circle cx="1086.8" cy="974.3" r="2.78"/><circle cx="1091.1" cy="974.3" r="2.78"/><circle cx="1095.4" cy="974.3" r="2.78"/><circle cx="1099.8" cy="974.3" r="2.78"/><circle cx="1104.1" cy="974.3" r="2.78"/><circle cx="1108.4" cy="974.3" r="2.78"/></g>
<path d="M680.8 974.5 L1117.0 974.5" stroke="#0000ff" stroke-width="4.2" stroke-dasharray="22.2 5.6 3.5 5.6" fill="none"/>
</g>
<g stroke="#000" stroke-width="0.85" fill="none"><path d="M654.50 659.10 H1140.00 M654.50 979.40 H1140.00" stroke-opacity="0.50"/><path d="M654.90 659.10 V979.40 M1139.60 659.10 V979.40" stroke-opacity="0.50"/></g>
<path d="M676.5 979.4 v2.6" stroke="#000" stroke-opacity="0.55" stroke-width="0.7"/><text x="676.8" y="998.0" text-anchor="middle" font-size="18.5">0</text><path d="M762.9 979.4 v2.6" stroke="#000" stroke-opacity="0.55" stroke-width="0.7"/><text x="763.2" y="998.0" text-anchor="middle" font-size="18.5">20</text><path d="M849.3 979.4 v2.6" stroke="#000" stroke-opacity="0.55" stroke-width="0.7"/><text x="849.6" y="998.0" text-anchor="middle" font-size="18.5">40</text><path d="M935.6 979.4 v2.6" stroke="#000" stroke-opacity="0.55" stroke-width="0.7"/><text x="935.9" y="998.0" text-anchor="middle" font-size="18.5">60</text><path d="M1022.0 979.4 v2.6" stroke="#000" stroke-opacity="0.55" stroke-width="0.7"/><text x="1022.3" y="998.0" text-anchor="middle" font-size="18.5">80</text><path d="M1108.4 979.4 v2.6" stroke="#000" stroke-opacity="0.55" stroke-width="0.7"/><text x="1108.7" y="998.0" text-anchor="middle" font-size="18.5">100</text><path d="M654.9 690.3 h-2.6" stroke="#000" stroke-opacity="0.55" stroke-width="0.7"/><text x="651.0" y="697.5" text-anchor="end" font-size="18.5">0.5</text><path d="M654.9 751.8 h-2.6" stroke="#000" stroke-opacity="0.55" stroke-width="0.7"/><text x="651.0" y="759.0" text-anchor="end" font-size="18.5">0.0</text><path d="M654.9 813.4 h-2.6" stroke="#000" stroke-opacity="0.55" stroke-width="0.7"/><text x="651.0" y="820.6" text-anchor="end" font-size="18.5">−0.5</text><path d="M654.9 875.0 h-2.6" stroke="#000" stroke-opacity="0.55" stroke-width="0.7"/><text x="651.0" y="882.2" text-anchor="end" font-size="18.5">−1.0</text><path d="M654.9 936.5 h-2.6" stroke="#000" stroke-opacity="0.55" stroke-width="0.7"/><text x="651.0" y="943.7" text-anchor="end" font-size="18.5">−1.5</text>
<text x="897.2" y="1018.4" text-anchor="middle" font-size="18.5">iterations</text>
<text transform="translate(601.1 821.5) rotate(-90)" text-anchor="middle" font-size="18.5">Energy</text>
<rect x="936.8" y="668.1" width="192.7" height="114.8" rx="3.6" fill="#fff" fill-opacity="0.8" stroke="#d4d4d4" stroke-opacity="0.8" stroke-width="0.9"/>
<path d="M944.3 683.4 H981.9" stroke="#ff0000" stroke-width="3.5" stroke-dasharray="12.8 5.6" fill="none"/>
<circle cx="963.1" cy="683.4" r="2.5" fill="#ff0000"/>
<text x="995.9" y="690.4" font-size="18.5">Random path</text>
<path d="M944.3 710.7 H981.9" stroke="#000000" stroke-width="3.5" stroke-dasharray="12.8 5.6" fill="none"/>
<circle cx="963.1" cy="710.7" r="2.5" fill="#000000"/>
<text x="995.9" y="717.7" font-size="18.5">Shortest path</text>
<path d="M944.3 737.9 H981.9" stroke="#008000" stroke-width="3.5" stroke-dasharray="12.8 5.6" fill="none"/>
<circle cx="963.1" cy="737.9" r="2.5" fill="#008000"/>
<text x="995.9" y="744.9" font-size="18.5">SGD</text>
<path d="M944.3 765.2 H981.9" stroke="#0000ff" stroke-width="3.5" stroke-dasharray="22.2 5.6 3.5 5.6" fill="none"/>
<text x="995.9" y="772.2" font-size="18.5">Exact energy</text>
<clipPath id="clip5"><rect x="1230.5" y="659.1" width="484.1" height="320.3"/></clipPath>
<g clip-path="url(#clip5)">
<path d="M1252.3 703.9 L1254.5 740.6 L1256.6 770.7 L1256.7 771.3 L1258.8 795.8 L1260.9 816.7 L1261.0 817.6 L1263.2 839.3 L1263.4 840.7 L1265.3 857.5 L1265.4 858.6 L1267.6 874.5 L1269.6 888.1 L1269.8 889.5 L1271.9 905.8 L1273.9 918.7 L1274.1 920.1 L1274.4 921.7 L1276.3 931.0 L1278.2 939.1 L1278.5 940.3 L1280.7 948.6 L1282.5 954.4 L1282.9 955.3 L1285.0 960.5 L1285.5 961.5 L1286.8 963.6 L1287.2 964.1 L1289.4 966.5 L1291.6 968.5 L1293.8 970.0 L1295.5 970.7 L1296.0 970.9 L1296.6 971.1 L1298.1 971.6 L1300.3 972.3 L1302.5 972.9 L1304.7 973.4 L1306.9 973.8 L1307.7 973.9 L1309.1 974.1 L1311.2 974.3 L1312.8 974.3 L1313.4 974.3 L1315.6 974.3 L1317.8 974.3 L1318.7 974.3 L1320.0 974.3 L1322.2 974.3 L1324.3 974.3 L1326.5 974.3 L1328.7 974.4 L1329.8 974.4 L1330.9 974.4 L1333.1 974.4 L1335.3 974.4 L1337.4 974.4 L1339.6 974.4 L1340.9 974.4 L1341.8 974.4 L1344.0 974.4 L1346.2 974.4 L1348.4 974.4 L1350.5 974.4 L1351.9 974.4 L1352.7 974.4 L1354.9 974.4 L1357.1 974.4 L1359.3 974.4 L1361.5 974.4 L1363.0 974.4 L1363.6 974.4 L1365.8 974.4 L1368.0 974.5 L1370.2 974.5 L1372.4 974.5 L1374.1 974.5 L1374.6 974.5 L1376.7 974.5 L1378.9 974.5 L1381.1 974.5 L1383.3 974.5 L1385.2 974.5 L1385.5 974.5 L1387.7 974.5 L1389.8 974.5 L1392.0 974.5 L1394.2 974.5 L1396.2 974.5 L1396.4 974.5 L1398.6 974.5 L1400.8 974.5 L1402.9 974.5 L1405.1 974.5 L1407.3 974.5 L1407.3 974.5 L1409.5 974.5 L1411.7 974.5 L1413.9 974.5 L1416.0 974.5 L1418.2 974.6 L1418.4 974.6 L1420.4 974.6 L1422.6 974.6 L1424.8 974.6 L1427.0 974.6 L1429.1 974.6 L1429.4 974.6 L1431.3 974.6 L1433.5 974.6 L1435.7 974.6 L1437.9 974.6 L1440.1 974.6 L1440.5 974.6 L1442.2 974.6 L1444.4 974.6 L1446.6 974.6 L1451.6 974.6 L1462.7 974.6 L1473.7 974.6 L1484.8 974.6 L1495.9 974.7 L1507.0 974.7 L1518.0 974.7 L1529.1 974.7 L1540.2 974.7 L1551.2 974.7 L1562.3 974.7 L1573.4 974.7 L1584.5 974.7 L1595.5 974.7 L1606.6 974.7 L1617.7 974.7 L1628.7 974.7 L1639.8 974.7 L1650.9 974.7 L1662.0 974.7 L1673.0 974.7 L1684.1 974.7 L1684.1 975.5 L1673.0 975.5 L1662.0 975.5 L1650.9 975.5 L1639.8 975.5 L1628.7 975.5 L1617.7 975.5 L1606.6 975.5 L1595.5 975.5 L1584.5 975.5 L1573.4 975.5 L1562.3 975.5 L1551.2 975.5 L1540.2 975.5 L1529.1 975.5 L1518.0 975.5 L1507.0 975.5 L1495.9 975.5 L1484.8 975.5 L1473.7 975.5 L1462.7 975.4 L1451.6 975.4 L1446.6 975.4 L1444.4 975.4 L1442.2 975.4 L1440.5 975.4 L1440.1 975.4 L1437.9 975.4 L1435.7 975.4 L1433.5 975.4 L1431.3 975.4 L1429.4 975.4 L1429.1 975.4 L1427.0 975.4 L1424.8 975.4 L1422.6 975.4 L1420.4 975.4 L1418.4 975.4 L1418.2 975.4 L1416.0 975.4 L1413.9 975.4 L1411.7 975.4 L1409.5 975.4 L1407.3 975.4 L1407.3 975.4 L1405.1 975.4 L1402.9 975.4 L1400.8 975.4 L1398.6 975.4 L1396.4 975.4 L1396.2 975.4 L1394.2 975.3 L1392.0 975.3 L1389.8 975.3 L1387.7 975.3 L1385.5 975.3 L1385.2 975.3 L1383.3 975.3 L1381.1 975.3 L1378.9 975.3 L1376.7 975.3 L1374.6 975.3 L1374.1 975.3 L1372.4 975.3 L1370.2 975.3 L1368.0 975.3 L1365.8 975.3 L1363.6 975.3 L1363.0 975.3 L1361.5 975.3 L1359.3 975.3 L1357.1 975.3 L1354.9 975.3 L1352.7 975.3 L1351.9 975.3 L1350.5 975.3 L1348.4 975.3 L1346.2 975.3 L1344.0 975.2 L1341.8 975.2 L1340.9 975.2 L1339.6 975.2 L1337.4 975.2 L1335.3 975.2 L1333.1 975.2 L1330.9 975.2 L1329.8 975.2 L1328.7 975.2 L1326.5 975.2 L1324.3 975.2 L1322.2 975.2 L1320.0 975.2 L1318.7 975.2 L1317.8 975.2 L1315.6 975.2 L1313.4 975.2 L1311.2 975.2 L1309.1 975.2 L1307.7 975.2 L1306.9 975.2 L1304.7 975.1 L1302.5 975.1 L1300.3 975.1 L1298.1 975.1 L1296.6 975.1 L1296.0 975.1 L1295.5 975.1 L1293.8 975.1 L1291.6 975.0 L1289.4 975.0 L1287.2 974.8 L1285.5 974.7 L1285.0 974.6 L1282.9 974.4 L1280.7 974.1 L1278.5 973.8 L1278.2 973.8 L1276.3 973.2 L1274.4 972.1 L1274.1 971.9 L1271.9 969.8 L1269.8 966.9 L1269.6 966.7 L1267.6 960.8 L1265.4 950.1 L1265.3 949.3 L1263.4 936.3 L1263.2 935.0 L1261.0 914.6 L1260.9 913.6 L1258.8 888.6 L1256.7 858.2 L1256.6 857.5 L1254.5 826.0 L1252.3 791.1Z" fill="#ff0000" fill-opacity="0.20" stroke="#ff0000" stroke-opacity="0.20" stroke-width="0.5"/>
<path d="M1252.3 724.8 L1254.5 765.3 L1256.6 796.2 L1256.7 796.8 L1258.8 819.4 L1260.9 837.1 L1261.0 837.8 L1263.2 854.1 L1263.4 855.2 L1265.3 867.7 L1265.4 868.6 L1267.6 882.1 L1269.6 893.2 L1269.8 894.2 L1271.9 905.0 L1274.1 914.9 L1274.4 916.3 L1276.3 924.2 L1276.9 926.7 L1278.5 932.9 L1280.7 940.9 L1282.8 948.2 L1282.9 948.5 L1285.0 956.3 L1285.5 958.0 L1287.2 962.8 L1287.7 963.7 L1289.4 966.2 L1291.6 968.9 L1293.8 970.7 L1295.5 971.5 L1296.0 971.7 L1296.6 971.9 L1298.1 972.3 L1300.3 972.8 L1302.5 973.3 L1304.7 973.7 L1306.9 974.0 L1307.7 974.0 L1309.1 974.2 L1311.2 974.3 L1312.8 974.3 L1313.4 974.3 L1315.6 974.3 L1317.8 974.3 L1318.7 974.3 L1320.0 974.3 L1322.2 974.3 L1324.3 974.3 L1326.5 974.3 L1328.7 974.4 L1329.8 974.4 L1330.9 974.4 L1333.1 974.4 L1335.3 974.4 L1337.4 974.4 L1339.6 974.4 L1340.9 974.4 L1341.8 974.4 L1344.0 974.4 L1346.2 974.4 L1348.4 974.4 L1350.5 974.4 L1351.9 974.4 L1352.7 974.4 L1354.9 974.4 L1357.1 974.4 L1359.3 974.4 L1361.5 974.4 L1363.0 974.4 L1363.6 974.4 L1365.8 974.4 L1368.0 974.5 L1370.2 974.5 L1372.4 974.5 L1374.1 974.5 L1374.6 974.5 L1376.7 974.5 L1378.9 974.5 L1381.1 974.5 L1383.3 974.5 L1385.2 974.5 L1385.5 974.5 L1387.7 974.5 L1389.8 974.5 L1392.0 974.5 L1394.2 974.5 L1396.2 974.5 L1396.4 974.5 L1398.6 974.5 L1400.8 974.5 L1402.9 974.5 L1405.1 974.5 L1407.3 974.5 L1407.3 974.5 L1409.5 974.5 L1411.7 974.5 L1413.9 974.5 L1416.0 974.5 L1418.2 974.6 L1418.4 974.6 L1420.4 974.6 L1422.6 974.6 L1424.8 974.6 L1427.0 974.6 L1429.1 974.6 L1429.4 974.6 L1431.3 974.6 L1433.5 974.6 L1435.7 974.6 L1437.9 974.6 L1440.1 974.6 L1440.5 974.6 L1442.2 974.6 L1444.4 974.6 L1446.6 974.6 L1451.6 974.6 L1462.7 974.6 L1473.7 974.6 L1484.8 974.6 L1495.9 974.7 L1507.0 974.7 L1518.0 974.7 L1529.1 974.7 L1540.2 974.7 L1551.2 974.7 L1562.3 974.7 L1573.4 974.7 L1584.5 974.7 L1595.5 974.7 L1606.6 974.7 L1617.7 974.7 L1628.7 974.7 L1639.8 974.7 L1650.9 974.7 L1662.0 974.7 L1673.0 974.7 L1684.1 974.7 L1684.1 975.5 L1673.0 975.5 L1662.0 975.5 L1650.9 975.5 L1639.8 975.5 L1628.7 975.5 L1617.7 975.5 L1606.6 975.5 L1595.5 975.5 L1584.5 975.5 L1573.4 975.5 L1562.3 975.5 L1551.2 975.5 L1540.2 975.5 L1529.1 975.5 L1518.0 975.5 L1507.0 975.5 L1495.9 975.5 L1484.8 975.5 L1473.7 975.5 L1462.7 975.4 L1451.6 975.4 L1446.6 975.4 L1444.4 975.4 L1442.2 975.4 L1440.5 975.4 L1440.1 975.4 L1437.9 975.4 L1435.7 975.4 L1433.5 975.4 L1431.3 975.4 L1429.4 975.4 L1429.1 975.4 L1427.0 975.4 L1424.8 975.4 L1422.6 975.4 L1420.4 975.4 L1418.4 975.4 L1418.2 975.4 L1416.0 975.4 L1413.9 975.4 L1411.7 975.4 L1409.5 975.4 L1407.3 975.4 L1407.3 975.4 L1405.1 975.4 L1402.9 975.4 L1400.8 975.4 L1398.6 975.4 L1396.4 975.3 L1396.2 975.3 L1394.2 975.3 L1392.0 975.3 L1389.8 975.3 L1387.7 975.3 L1385.5 975.3 L1385.2 975.3 L1383.3 975.3 L1381.1 975.3 L1378.9 975.3 L1376.7 975.3 L1374.6 975.3 L1374.1 975.3 L1372.4 975.3 L1370.2 975.3 L1368.0 975.3 L1365.8 975.3 L1363.6 975.3 L1363.0 975.3 L1361.5 975.3 L1359.3 975.3 L1357.1 975.3 L1354.9 975.3 L1352.7 975.3 L1351.9 975.3 L1350.5 975.3 L1348.4 975.3 L1346.2 975.3 L1344.0 975.2 L1341.8 975.2 L1340.9 975.2 L1339.6 975.2 L1337.4 975.2 L1335.3 975.2 L1333.1 975.2 L1330.9 975.2 L1329.8 975.2 L1328.7 975.2 L1326.5 975.2 L1324.3 975.2 L1322.2 975.2 L1320.0 975.2 L1318.7 975.2 L1317.8 975.2 L1315.6 975.2 L1313.4 975.2 L1311.2 975.2 L1309.1 975.2 L1307.7 975.2 L1306.9 975.2 L1304.7 975.1 L1302.5 975.1 L1300.3 975.1 L1298.1 975.1 L1296.6 975.1 L1296.0 975.1 L1295.5 975.1 L1293.8 975.1 L1291.6 975.1 L1289.4 975.0 L1287.2 974.9 L1285.5 974.8 L1285.0 974.8 L1282.9 974.7 L1280.7 974.5 L1278.5 974.3 L1278.2 974.3 L1276.3 973.9 L1274.4 973.2 L1274.1 973.0 L1271.9 971.7 L1269.8 969.9 L1269.6 969.7 L1267.6 966.3 L1265.4 960.0 L1265.3 959.5 L1263.4 950.8 L1263.2 949.9 L1261.0 934.8 L1260.9 934.0 L1258.8 912.8 L1256.7 883.7 L1256.6 883.0 L1254.5 848.7 L1252.3 806.4Z" fill="#000000" fill-opacity="0.25" stroke="#000000" stroke-opacity="0.25" stroke-width="0.5"/>
<path d="M1256.6 677.6 L1258.8 681.7 L1260.9 686.0 L1263.0 690.5 L1264.3 693.2 L1265.2 695.2 L1267.3 699.9 L1267.6 700.5 L1269.4 704.8 L1271.6 710.1 L1273.7 716.0 L1273.9 716.6 L1275.8 722.8 L1278.0 730.8 L1278.5 733.0 L1280.1 739.3 L1282.2 747.7 L1283.8 753.6 L1284.4 755.5 L1286.5 763.2 L1288.6 770.7 L1289.5 773.7 L1290.8 778.0 L1292.9 784.8 L1293.5 786.7 L1295.0 791.2 L1297.2 797.2 L1299.3 802.9 L1300.5 806.0 L1301.4 808.6 L1302.0 810.0 L1303.6 814.4 L1305.7 820.1 L1307.9 825.8 L1309.1 829.2 L1310.0 831.7 L1311.4 835.9 L1312.1 837.9 L1314.3 844.2 L1316.4 850.3 L1318.5 855.9 L1318.8 856.5 L1320.7 860.9 L1322.4 864.6 L1322.8 865.5 L1324.9 869.9 L1327.1 874.3 L1328.7 877.9 L1329.2 878.9 L1331.3 883.6 L1333.3 888.1 L1333.5 888.4 L1335.6 893.3 L1336.5 895.5 L1337.7 898.7 L1339.9 904.5 L1342.0 910.6 L1344.1 916.6 L1344.3 917.0 L1344.3 917.0 L1346.3 922.6 L1348.4 928.8 L1350.5 934.7 L1352.0 938.4 L1352.7 939.9 L1354.8 944.6 L1355.3 945.6 L1357.0 949.0 L1359.1 952.8 L1359.8 954.0 L1361.2 956.1 L1363.4 959.1 L1365.5 961.6 L1366.2 962.4 L1367.6 963.7 L1367.6 963.7 L1369.8 965.4 L1371.9 966.9 L1374.0 968.2 L1376.2 969.2 L1377.1 969.6 L1377.2 969.6 L1378.3 970.0 L1380.4 970.8 L1382.6 971.4 L1384.7 972.0 L1386.8 972.4 L1388.2 972.7 L1389.0 972.8 L1390.9 973.1 L1391.1 973.1 L1393.2 973.3 L1395.4 973.5 L1397.5 973.7 L1399.1 973.8 L1399.6 973.9 L1401.8 974.0 L1403.9 974.1 L1406.0 974.2 L1408.2 974.3 L1410.1 974.4 L1410.3 974.4 L1410.3 974.4 L1412.5 974.5 L1414.6 974.5 L1416.7 974.6 L1418.9 974.6 L1421.0 974.7 L1421.0 974.7 L1423.1 974.7 L1425.3 974.8 L1427.4 974.8 L1429.5 974.9 L1431.7 974.9 L1432.0 974.9 L1433.8 974.9 L1435.9 975.0 L1438.1 975.0 L1440.2 975.0 L1442.3 975.0 L1443.0 975.0 L1444.5 975.0 L1446.6 975.0 L1453.9 975.0 L1464.9 975.0 L1475.8 975.0 L1486.8 975.0 L1497.8 975.0 L1508.7 975.0 L1519.7 975.0 L1530.6 975.0 L1541.6 975.0 L1552.6 975.0 L1563.5 975.0 L1574.5 975.0 L1585.5 975.0 L1596.4 974.9 L1607.4 974.9 L1618.3 974.9 L1629.3 974.9 L1640.3 974.9 L1651.2 974.8 L1662.2 974.8 L1673.1 974.8 L1684.1 974.7 L1684.1 975.5 L1673.1 975.5 L1662.2 975.5 L1651.2 975.5 L1640.3 975.5 L1629.3 975.5 L1618.3 975.5 L1607.4 975.5 L1596.4 975.5 L1585.5 975.5 L1574.5 975.5 L1563.5 975.5 L1552.6 975.5 L1541.6 975.5 L1530.6 975.5 L1519.7 975.5 L1508.7 975.5 L1497.8 975.5 L1486.8 975.4 L1475.8 975.4 L1464.9 975.4 L1453.9 975.4 L1446.6 975.4 L1444.5 975.4 L1443.0 975.4 L1442.3 975.4 L1440.2 975.4 L1438.1 975.4 L1435.9 975.4 L1433.8 975.4 L1432.0 975.4 L1431.7 975.4 L1429.5 975.4 L1427.4 975.4 L1425.3 975.4 L1423.1 975.4 L1421.0 975.4 L1421.0 975.4 L1418.9 975.4 L1416.7 975.3 L1414.6 975.3 L1412.5 975.3 L1410.3 975.3 L1410.1 975.3 L1408.2 975.3 L1406.0 975.3 L1403.9 975.3 L1401.8 975.3 L1399.6 975.3 L1399.1 975.3 L1397.5 975.3 L1395.4 975.3 L1393.2 975.3 L1391.1 975.3 L1389.0 975.3 L1388.2 975.3 L1386.8 975.3 L1384.7 975.3 L1382.6 975.3 L1380.4 975.3 L1378.3 975.3 L1377.2 975.3 L1376.2 975.3 L1374.0 975.3 L1371.9 975.3 L1369.8 975.2 L1367.6 975.2 L1366.2 975.2 L1365.5 975.2 L1363.4 975.2 L1361.2 975.2 L1359.1 975.2 L1357.0 975.2 L1355.3 975.2 L1354.8 975.2 L1352.7 975.2 L1350.5 975.2 L1348.4 975.2 L1346.3 975.2 L1344.3 975.2 L1344.1 975.2 L1342.0 975.2 L1339.9 975.2 L1337.7 975.2 L1335.6 975.2 L1333.5 975.2 L1333.3 975.2 L1331.3 975.1 L1329.2 975.1 L1327.1 975.1 L1324.9 975.1 L1322.8 975.1 L1322.4 975.1 L1320.7 975.1 L1318.5 975.1 L1316.4 975.1 L1314.3 975.1 L1312.1 975.1 L1311.4 975.1 L1310.0 975.1 L1307.9 975.1 L1305.7 975.1 L1303.6 975.1 L1301.4 975.0 L1300.5 975.0 L1299.3 975.0 L1297.2 975.0 L1295.0 975.0 L1293.3 975.0 L1292.9 975.0 L1290.8 975.0 L1289.5 974.9 L1288.6 974.9 L1286.5 974.8 L1284.4 974.6 L1282.2 974.4 L1280.1 974.1 L1279.9 974.1 L1278.5 973.9 L1278.0 973.7 L1275.8 973.1 L1273.7 972.1 L1271.6 970.8 L1270.0 969.6 L1269.4 969.1 L1267.6 966.1 L1267.3 965.4 L1265.2 959.3 L1264.3 955.9 L1263.0 948.1 L1260.9 924.4 L1260.3 917.0 L1258.8 885.5 L1257.4 858.5 L1256.6 847.3Z" fill="#008000" fill-opacity="0.30" stroke="#008000" stroke-opacity="0.30" stroke-width="0.5"/>
<path d="M1252.3 747.2 L1256.6 796.2 L1260.9 842.3 L1265.3 883.8 L1269.6 917.0 L1273.9 944.2 L1278.2 957.5 L1282.5 965.3 L1286.8 969.2 L1291.2 971.5 L1295.5 972.9 L1299.8 973.6 L1304.1 974.1 L1308.4 974.4 L1312.8 974.7 L1317.1 974.8 L1321.4 974.9 L1325.7 974.9 L1330.0 975.0 L1334.3 975.0 L1338.7 975.0 L1343.0 975.0 L1347.3 975.0 L1351.6 975.0 L1355.9 975.0 L1360.2 975.0 L1364.6 975.0 L1368.9 975.0 L1373.2 975.0 L1377.5 975.0 L1381.8 975.0 L1386.2 975.1 L1390.5 975.1 L1394.8 975.1 L1399.1 975.1 L1403.4 975.1 L1407.7 975.1 L1412.1 975.1 L1416.4 975.1 L1420.7 975.1 L1425.0 975.1 L1429.3 975.1 L1433.7 975.1 L1438.0 975.1 L1442.3 975.1 L1446.6 975.1 L1450.9 975.1 L1455.2 975.1 L1459.6 975.1 L1463.9 975.1 L1468.2 975.1 L1472.5 975.1 L1476.8 975.1 L1481.2 975.1 L1485.5 975.1 L1489.8 975.1 L1494.1 975.1 L1498.4 975.1 L1502.7 975.1 L1507.1 975.1 L1511.4 975.1 L1515.7 975.1 L1520.0 975.1 L1524.3 975.1 L1528.7 975.1 L1533.0 975.1 L1537.3 975.1 L1541.6 975.1 L1545.9 975.1 L1550.2 975.1 L1554.6 975.1 L1558.9 975.1 L1563.2 975.1 L1567.5 975.1 L1571.8 975.1 L1576.1 975.1 L1580.5 975.1 L1584.8 975.1 L1589.1 975.1 L1593.4 975.1 L1597.7 975.1 L1602.1 975.1 L1606.4 975.1 L1610.7 975.1 L1615.0 975.1 L1619.3 975.1 L1623.6 975.1 L1628.0 975.1 L1632.3 975.1 L1636.6 975.1 L1640.9 975.1 L1645.2 975.1 L1649.6 975.1 L1653.9 975.1 L1658.2 975.1 L1662.5 975.1 L1666.8 975.1 L1671.1 975.1 L1675.5 975.1 L1679.8 975.1 L1684.1 975.1" fill="none" stroke="#ff0000" stroke-width="3.7" stroke-dasharray="12.8 5.6"/>
<g fill="#ff0000"><circle cx="1252.3" cy="747.2" r="2.78"/><circle cx="1256.6" cy="796.2" r="2.78"/><circle cx="1260.9" cy="842.3" r="2.78"/><circle cx="1265.3" cy="883.8" r="2.78"/><circle cx="1269.6" cy="917.0" r="2.78"/><circle cx="1273.9" cy="944.2" r="2.78"/><circle cx="1278.2" cy="957.5" r="2.78"/><circle cx="1282.5" cy="965.3" r="2.78"/><circle cx="1286.8" cy="969.2" r="2.78"/><circle cx="1291.2" cy="971.5" r="2.78"/><circle cx="1295.5" cy="972.9" r="2.78"/><circle cx="1299.8" cy="973.6" r="2.78"/><circle cx="1304.1" cy="974.1" r="2.78"/><circle cx="1308.4" cy="974.4" r="2.78"/><circle cx="1312.8" cy="974.7" r="2.78"/><circle cx="1317.1" cy="974.8" r="2.78"/><circle cx="1321.4" cy="974.9" r="2.78"/><circle cx="1325.7" cy="974.9" r="2.78"/><circle cx="1330.0" cy="975.0" r="2.78"/><circle cx="1334.3" cy="975.0" r="2.78"/><circle cx="1338.7" cy="975.0" r="2.78"/><circle cx="1343.0" cy="975.0" r="2.78"/><circle cx="1347.3" cy="975.0" r="2.78"/><circle cx="1351.6" cy="975.0" r="2.78"/><circle cx="1355.9" cy="975.0" r="2.78"/><circle cx="1360.2" cy="975.0" r="2.78"/><circle cx="1364.6" cy="975.0" r="2.78"/><circle cx="1368.9" cy="975.0" r="2.78"/><circle cx="1373.2" cy="975.0" r="2.78"/><circle cx="1377.5" cy="975.0" r="2.78"/><circle cx="1381.8" cy="975.0" r="2.78"/><circle cx="1386.2" cy="975.1" r="2.78"/><circle cx="1390.5" cy="975.1" r="2.78"/><circle cx="1394.8" cy="975.1" r="2.78"/><circle cx="1399.1" cy="975.1" r="2.78"/><circle cx="1403.4" cy="975.1" r="2.78"/><circle cx="1407.7" cy="975.1" r="2.78"/><circle cx="1412.1" cy="975.1" r="2.78"/><circle cx="1416.4" cy="975.1" r="2.78"/><circle cx="1420.7" cy="975.1" r="2.78"/><circle cx="1425.0" cy="975.1" r="2.78"/><circle cx="1429.3" cy="975.1" r="2.78"/><circle cx="1433.7" cy="975.1" r="2.78"/><circle cx="1438.0" cy="975.1" r="2.78"/><circle cx="1442.3" cy="975.1" r="2.78"/><circle cx="1446.6" cy="975.1" r="2.78"/><circle cx="1450.9" cy="975.1" r="2.78"/><circle cx="1455.2" cy="975.1" r="2.78"/><circle cx="1459.6" cy="975.1" r="2.78"/><circle cx="1463.9" cy="975.1" r="2.78"/><circle cx="1468.2" cy="975.1" r="2.78"/><circle cx="1472.5" cy="975.1" r="2.78"/><circle cx="1476.8" cy="975.1" r="2.78"/><circle cx="1481.2" cy="975.1" r="2.78"/><circle cx="1485.5" cy="975.1" r="2.78"/><circle cx="1489.8" cy="975.1" r="2.78"/><circle cx="1494.1" cy="975.1" r="2.78"/><circle cx="1498.4" cy="975.1" r="2.78"/><circle cx="1502.7" cy="975.1" r="2.78"/><circle cx="1507.1" cy="975.1" r="2.78"/><circle cx="1511.4" cy="975.1" r="2.78"/><circle cx="1515.7" cy="975.1" r="2.78"/><circle cx="1520.0" cy="975.1" r="2.78"/><circle cx="1524.3" cy="975.1" r="2.78"/><circle cx="1528.7" cy="975.1" r="2.78"/><circle cx="1533.0" cy="975.1" r="2.78"/><circle cx="1537.3" cy="975.1" r="2.78"/><circle cx="1541.6" cy="975.1" r="2.78"/><circle cx="1545.9" cy="975.1" r="2.78"/><circle cx="1550.2" cy="975.1" r="2.78"/><circle cx="1554.6" cy="975.1" r="2.78"/><circle cx="1558.9" cy="975.1" r="2.78"/><circle cx="1563.2" cy="975.1" r="2.78"/><circle cx="1567.5" cy="975.1" r="2.78"/><circle cx="1571.8" cy="975.1" r="2.78"/><circle cx="1576.1" cy="975.1" r="2.78"/><circle cx="1580.5" cy="975.1" r="2.78"/><circle cx="1584.8" cy="975.1" r="2.78"/><circle cx="1589.1" cy="975.1" r="2.78"/><circle cx="1593.4" cy="975.1" r="2.78"/><circle cx="1597.7" cy="975.1" r="2.78"/><circle cx="1602.1" cy="975.1" r="2.78"/><circle cx="1606.4" cy="975.1" r="2.78"/><circle cx="1610.7" cy="975.1" r="2.78"/><circle cx="1615.0" cy="975.1" r="2.78"/><circle cx="1619.3" cy="975.1" r="2.78"/><circle cx="1623.6" cy="975.1" r="2.78"/><circle cx="1628.0" cy="975.1" r="2.78"/><circle cx="1632.3" cy="975.1" r="2.78"/><circle cx="1636.6" cy="975.1" r="2.78"/><circle cx="1640.9" cy="975.1" r="2.78"/><circle cx="1645.2" cy="975.1" r="2.78"/><circle cx="1649.6" cy="975.1" r="2.78"/><circle cx="1653.9" cy="975.1" r="2.78"/><circle cx="1658.2" cy="975.1" r="2.78"/><circle cx="1662.5" cy="975.1" r="2.78"/><circle cx="1666.8" cy="975.1" r="2.78"/><circle cx="1671.1" cy="975.1" r="2.78"/><circle cx="1675.5" cy="975.1" r="2.78"/><circle cx="1679.8" cy="975.1" r="2.78"/><circle cx="1684.1" cy="975.1" r="2.78"/></g>
<path d="M1252.3 764.7 L1256.6 840.1 L1260.9 887.4 L1265.3 928.3 L1269.6 950.1 L1273.9 957.9 L1278.2 963.4 L1282.5 966.7 L1286.8 969.6 L1291.2 971.5 L1295.5 972.7 L1299.8 973.4 L1304.1 973.9 L1308.4 974.2 L1312.8 974.4 L1317.1 974.6 L1321.4 974.7 L1325.7 974.8 L1330.0 974.9 L1334.3 975.0 L1338.7 975.0 L1343.0 975.0 L1347.3 975.0 L1351.6 975.0 L1355.9 975.0 L1360.2 975.0 L1364.6 975.0 L1368.9 975.0 L1373.2 975.0 L1377.5 975.0 L1381.8 975.0 L1386.2 975.1 L1390.5 975.1 L1394.8 975.1 L1399.1 975.1 L1403.4 975.1 L1407.7 975.1 L1412.1 975.1 L1416.4 975.1 L1420.7 975.1 L1425.0 975.1 L1429.3 975.1 L1433.7 975.1 L1438.0 975.1 L1442.3 975.1 L1446.6 975.1 L1450.9 975.1 L1455.2 975.1 L1459.6 975.1 L1463.9 975.1 L1468.2 975.1 L1472.5 975.1 L1476.8 975.1 L1481.2 975.1 L1485.5 975.1 L1489.8 975.1 L1494.1 975.1 L1498.4 975.1 L1502.7 975.1 L1507.1 975.1 L1511.4 975.1 L1515.7 975.1 L1520.0 975.1 L1524.3 975.1 L1528.7 975.1 L1533.0 975.1 L1537.3 975.1 L1541.6 975.1 L1545.9 975.1 L1550.2 975.1 L1554.6 975.1 L1558.9 975.1 L1563.2 975.1 L1567.5 975.1 L1571.8 975.1 L1576.1 975.1 L1580.5 975.1 L1584.8 975.1 L1589.1 975.1 L1593.4 975.1 L1597.7 975.1 L1602.1 975.1 L1606.4 975.1 L1610.7 975.1 L1615.0 975.1 L1619.3 975.1 L1623.6 975.1 L1628.0 975.1 L1632.3 975.1 L1636.6 975.1 L1640.9 975.1 L1645.2 975.1 L1649.6 975.1 L1653.9 975.1 L1658.2 975.1 L1662.5 975.1 L1666.8 975.1 L1671.1 975.1 L1675.5 975.1 L1679.8 975.1 L1684.1 975.1" fill="none" stroke="#000000" stroke-width="3.7" stroke-dasharray="12.8 5.6"/>
<g fill="#000000"><circle cx="1252.3" cy="764.7" r="2.78"/><circle cx="1256.6" cy="840.1" r="2.78"/><circle cx="1260.9" cy="887.4" r="2.78"/><circle cx="1265.3" cy="928.3" r="2.78"/><circle cx="1269.6" cy="950.1" r="2.78"/><circle cx="1273.9" cy="957.9" r="2.78"/><circle cx="1278.2" cy="963.4" r="2.78"/><circle cx="1282.5" cy="966.7" r="2.78"/><circle cx="1286.8" cy="969.6" r="2.78"/><circle cx="1291.2" cy="971.5" r="2.78"/><circle cx="1295.5" cy="972.7" r="2.78"/><circle cx="1299.8" cy="973.4" r="2.78"/><circle cx="1304.1" cy="973.9" r="2.78"/><circle cx="1308.4" cy="974.2" r="2.78"/><circle cx="1312.8" cy="974.4" r="2.78"/><circle cx="1317.1" cy="974.6" r="2.78"/><circle cx="1321.4" cy="974.7" r="2.78"/><circle cx="1325.7" cy="974.8" r="2.78"/><circle cx="1330.0" cy="974.9" r="2.78"/><circle cx="1334.3" cy="975.0" r="2.78"/><circle cx="1338.7" cy="975.0" r="2.78"/><circle cx="1343.0" cy="975.0" r="2.78"/><circle cx="1347.3" cy="975.0" r="2.78"/><circle cx="1351.6" cy="975.0" r="2.78"/><circle cx="1355.9" cy="975.0" r="2.78"/><circle cx="1360.2" cy="975.0" r="2.78"/><circle cx="1364.6" cy="975.0" r="2.78"/><circle cx="1368.9" cy="975.0" r="2.78"/><circle cx="1373.2" cy="975.0" r="2.78"/><circle cx="1377.5" cy="975.0" r="2.78"/><circle cx="1381.8" cy="975.0" r="2.78"/><circle cx="1386.2" cy="975.1" r="2.78"/><circle cx="1390.5" cy="975.1" r="2.78"/><circle cx="1394.8" cy="975.1" r="2.78"/><circle cx="1399.1" cy="975.1" r="2.78"/><circle cx="1403.4" cy="975.1" r="2.78"/><circle cx="1407.7" cy="975.1" r="2.78"/><circle cx="1412.1" cy="975.1" r="2.78"/><circle cx="1416.4" cy="975.1" r="2.78"/><circle cx="1420.7" cy="975.1" r="2.78"/><circle cx="1425.0" cy="975.1" r="2.78"/><circle cx="1429.3" cy="975.1" r="2.78"/><circle cx="1433.7" cy="975.1" r="2.78"/><circle cx="1438.0" cy="975.1" r="2.78"/><circle cx="1442.3" cy="975.1" r="2.78"/><circle cx="1446.6" cy="975.1" r="2.78"/><circle cx="1450.9" cy="975.1" r="2.78"/><circle cx="1455.2" cy="975.1" r="2.78"/><circle cx="1459.6" cy="975.1" r="2.78"/><circle cx="1463.9" cy="975.1" r="2.78"/><circle cx="1468.2" cy="975.1" r="2.78"/><circle cx="1472.5" cy="975.1" r="2.78"/><circle cx="1476.8" cy="975.1" r="2.78"/><circle cx="1481.2" cy="975.1" r="2.78"/><circle cx="1485.5" cy="975.1" r="2.78"/><circle cx="1489.8" cy="975.1" r="2.78"/><circle cx="1494.1" cy="975.1" r="2.78"/><circle cx="1498.4" cy="975.1" r="2.78"/><circle cx="1502.7" cy="975.1" r="2.78"/><circle cx="1507.1" cy="975.1" r="2.78"/><circle cx="1511.4" cy="975.1" r="2.78"/><circle cx="1515.7" cy="975.1" r="2.78"/><circle cx="1520.0" cy="975.1" r="2.78"/><circle cx="1524.3" cy="975.1" r="2.78"/><circle cx="1528.7" cy="975.1" r="2.78"/><circle cx="1533.0" cy="975.1" r="2.78"/><circle cx="1537.3" cy="975.1" r="2.78"/><circle cx="1541.6" cy="975.1" r="2.78"/><circle cx="1545.9" cy="975.1" r="2.78"/><circle cx="1550.2" cy="975.1" r="2.78"/><circle cx="1554.6" cy="975.1" r="2.78"/><circle cx="1558.9" cy="975.1" r="2.78"/><circle cx="1563.2" cy="975.1" r="2.78"/><circle cx="1567.5" cy="975.1" r="2.78"/><circle cx="1571.8" cy="975.1" r="2.78"/><circle cx="1576.1" cy="975.1" r="2.78"/><circle cx="1580.5" cy="975.1" r="2.78"/><circle cx="1584.8" cy="975.1" r="2.78"/><circle cx="1589.1" cy="975.1" r="2.78"/><circle cx="1593.4" cy="975.1" r="2.78"/><circle cx="1597.7" cy="975.1" r="2.78"/><circle cx="1602.1" cy="975.1" r="2.78"/><circle cx="1606.4" cy="975.1" r="2.78"/><circle cx="1610.7" cy="975.1" r="2.78"/><circle cx="1615.0" cy="975.1" r="2.78"/><circle cx="1619.3" cy="975.1" r="2.78"/><circle cx="1623.6" cy="975.1" r="2.78"/><circle cx="1628.0" cy="975.1" r="2.78"/><circle cx="1632.3" cy="975.1" r="2.78"/><circle cx="1636.6" cy="975.1" r="2.78"/><circle cx="1640.9" cy="975.1" r="2.78"/><circle cx="1645.2" cy="975.1" r="2.78"/><circle cx="1649.6" cy="975.1" r="2.78"/><circle cx="1653.9" cy="975.1" r="2.78"/><circle cx="1658.2" cy="975.1" r="2.78"/><circle cx="1662.5" cy="975.1" r="2.78"/><circle cx="1666.8" cy="975.1" r="2.78"/><circle cx="1671.1" cy="975.1" r="2.78"/><circle cx="1675.5" cy="975.1" r="2.78"/><circle cx="1679.8" cy="975.1" r="2.78"/><circle cx="1684.1" cy="975.1" r="2.78"/></g>
<path d="M1256.6 763.3 L1260.9 804.2 L1265.3 842.3 L1269.6 871.1 L1273.9 895.5 L1278.2 912.1 L1282.5 921.2 L1286.8 927.7 L1291.2 932.2 L1295.5 935.8 L1299.8 939.0 L1304.1 941.9 L1308.4 944.6 L1312.8 947.2 L1317.1 949.5 L1321.4 951.7 L1325.7 953.6 L1330.0 955.5 L1334.3 957.5 L1338.7 959.8 L1343.0 962.2 L1347.3 964.7 L1351.6 967.1 L1355.9 969.0 L1360.2 970.7 L1364.6 972.2 L1368.9 973.1 L1373.2 973.7 L1377.5 974.1 L1381.8 974.4 L1386.2 974.6 L1390.5 974.8 L1394.8 974.9 L1399.1 975.0 L1403.4 975.0 L1407.7 975.1 L1412.1 975.1 L1416.4 975.1 L1420.7 975.1 L1425.0 975.1 L1429.3 975.1 L1433.7 975.1 L1438.0 975.1 L1442.3 975.1 L1446.6 975.1 L1450.9 975.1 L1455.2 975.1 L1459.6 975.1 L1463.9 975.1 L1468.2 975.1 L1472.5 975.1 L1476.8 975.1 L1481.2 975.1 L1485.5 975.1 L1489.8 975.1 L1494.1 975.1 L1498.4 975.1 L1502.7 975.1 L1507.1 975.1 L1511.4 975.1 L1515.7 975.1 L1520.0 975.1 L1524.3 975.1 L1528.7 975.1 L1533.0 975.1 L1537.3 975.1 L1541.6 975.1 L1545.9 975.1 L1550.2 975.1 L1554.6 975.1 L1558.9 975.1 L1563.2 975.1 L1567.5 975.1 L1571.8 975.1 L1576.1 975.1 L1580.5 975.1 L1584.8 975.1 L1589.1 975.1 L1593.4 975.1 L1597.7 975.1 L1602.1 975.1 L1606.4 975.1 L1610.7 975.1 L1615.0 975.1 L1619.3 975.1 L1623.6 975.1 L1628.0 975.1 L1632.3 975.1 L1636.6 975.1 L1640.9 975.1 L1645.2 975.1 L1649.6 975.1 L1653.9 975.1 L1658.2 975.1 L1662.5 975.1 L1666.8 975.1 L1671.1 975.1 L1675.5 975.1 L1679.8 975.1 L1684.1 975.1" fill="none" stroke="#008000" stroke-width="3.7" stroke-dasharray="12.8 5.6"/>
<g fill="#008000"><circle cx="1256.6" cy="763.3" r="2.78"/><circle cx="1260.9" cy="804.2" r="2.78"/><circle cx="1265.3" cy="842.3" r="2.78"/><circle cx="1269.6" cy="871.1" r="2.78"/><circle cx="1273.9" cy="895.5" r="2.78"/><circle cx="1278.2" cy="912.1" r="2.78"/><circle cx="1282.5" cy="921.2" r="2.78"/><circle cx="1286.8" cy="927.7" r="2.78"/><circle cx="1291.2" cy="932.2" r="2.78"/><circle cx="1295.5" cy="935.8" r="2.78"/><circle cx="1299.8" cy="939.0" r="2.78"/><circle cx="1304.1" cy="941.9" r="2.78"/><circle cx="1308.4" cy="944.6" r="2.78"/><circle cx="1312.8" cy="947.2" r="2.78"/><circle cx="1317.1" cy="949.5" r="2.78"/><circle cx="1321.4" cy="951.7" r="2.78"/><circle cx="1325.7" cy="953.6" r="2.78"/><circle cx="1330.0" cy="955.5" r="2.78"/><circle cx="1334.3" cy="957.5" r="2.78"/><circle cx="1338.7" cy="959.8" r="2.78"/><circle cx="1343.0" cy="962.2" r="2.78"/><circle cx="1347.3" cy="964.7" r="2.78"/><circle cx="1351.6" cy="967.1" r="2.78"/><circle cx="1355.9" cy="969.0" r="2.78"/><circle cx="1360.2" cy="970.7" r="2.78"/><circle cx="1364.6" cy="972.2" r="2.78"/><circle cx="1368.9" cy="973.1" r="2.78"/><circle cx="1373.2" cy="973.7" r="2.78"/><circle cx="1377.5" cy="974.1" r="2.78"/><circle cx="1381.8" cy="974.4" r="2.78"/><circle cx="1386.2" cy="974.6" r="2.78"/><circle cx="1390.5" cy="974.8" r="2.78"/><circle cx="1394.8" cy="974.9" r="2.78"/><circle cx="1399.1" cy="975.0" r="2.78"/><circle cx="1403.4" cy="975.0" r="2.78"/><circle cx="1407.7" cy="975.1" r="2.78"/><circle cx="1412.1" cy="975.1" r="2.78"/><circle cx="1416.4" cy="975.1" r="2.78"/><circle cx="1420.7" cy="975.1" r="2.78"/><circle cx="1425.0" cy="975.1" r="2.78"/><circle cx="1429.3" cy="975.1" r="2.78"/><circle cx="1433.7" cy="975.1" r="2.78"/><circle cx="1438.0" cy="975.1" r="2.78"/><circle cx="1442.3" cy="975.1" r="2.78"/><circle cx="1446.6" cy="975.1" r="2.78"/><circle cx="1450.9" cy="975.1" r="2.78"/><circle cx="1455.2" cy="975.1" r="2.78"/><circle cx="1459.6" cy="975.1" r="2.78"/><circle cx="1463.9" cy="975.1" r="2.78"/><circle cx="1468.2" cy="975.1" r="2.78"/><circle cx="1472.5" cy="975.1" r="2.78"/><circle cx="1476.8" cy="975.1" r="2.78"/><circle cx="1481.2" cy="975.1" r="2.78"/><circle cx="1485.5" cy="975.1" r="2.78"/><circle cx="1489.8" cy="975.1" r="2.78"/><circle cx="1494.1" cy="975.1" r="2.78"/><circle cx="1498.4" cy="975.1" r="2.78"/><circle cx="1502.7" cy="975.1" r="2.78"/><circle cx="1507.1" cy="975.1" r="2.78"/><circle cx="1511.4" cy="975.1" r="2.78"/><circle cx="1515.7" cy="975.1" r="2.78"/><circle cx="1520.0" cy="975.1" r="2.78"/><circle cx="1524.3" cy="975.1" r="2.78"/><circle cx="1528.7" cy="975.1" r="2.78"/><circle cx="1533.0" cy="975.1" r="2.78"/><circle cx="1537.3" cy="975.1" r="2.78"/><circle cx="1541.6" cy="975.1" r="2.78"/><circle cx="1545.9" cy="975.1" r="2.78"/><circle cx="1550.2" cy="975.1" r="2.78"/><circle cx="1554.6" cy="975.1" r="2.78"/><circle cx="1558.9" cy="975.1" r="2.78"/><circle cx="1563.2" cy="975.1" r="2.78"/><circle cx="1567.5" cy="975.1" r="2.78"/><circle cx="1571.8" cy="975.1" r="2.78"/><circle cx="1576.1" cy="975.1" r="2.78"/><circle cx="1580.5" cy="975.1" r="2.78"/><circle cx="1584.8" cy="975.1" r="2.78"/><circle cx="1589.1" cy="975.1" r="2.78"/><circle cx="1593.4" cy="975.1" r="2.78"/><circle cx="1597.7" cy="975.1" r="2.78"/><circle cx="1602.1" cy="975.1" r="2.78"/><circle cx="1606.4" cy="975.1" r="2.78"/><circle cx="1610.7" cy="975.1" r="2.78"/><circle cx="1615.0" cy="975.1" r="2.78"/><circle cx="1619.3" cy="975.1" r="2.78"/><circle cx="1623.6" cy="975.1" r="2.78"/><circle cx="1628.0" cy="975.1" r="2.78"/><circle cx="1632.3" cy="975.1" r="2.78"/><circle cx="1636.6" cy="975.1" r="2.78"/><circle cx="1640.9" cy="975.1" r="2.78"/><circle cx="1645.2" cy="975.1" r="2.78"/><circle cx="1649.6" cy="975.1" r="2.78"/><circle cx="1653.9" cy="975.1" r="2.78"/><circle cx="1658.2" cy="975.1" r="2.78"/><circle cx="1662.5" cy="975.1" r="2.78"/><circle cx="1666.8" cy="975.1" r="2.78"/><circle cx="1671.1" cy="975.1" r="2.78"/><circle cx="1675.5" cy="975.1" r="2.78"/><circle cx="1679.8" cy="975.1" r="2.78"/><circle cx="1684.1" cy="975.1" r="2.78"/></g>
<path d="M1256.6 975.1 L1692.7 975.1" stroke="#0000ff" stroke-width="4.2" stroke-dasharray="22.2 5.6 3.5 5.6" fill="none"/>
</g>
<g stroke="#000" stroke-width="0.85" fill="none"><path d="M1230.10 659.10 H1715.00 M1230.10 979.40 H1715.00" stroke-opacity="0.50"/><path d="M1230.50 659.10 V979.40 M1714.60 659.10 V979.40" stroke-opacity="0.50"/></g>
<path d="M1252.3 979.4 v2.6" stroke="#000" stroke-opacity="0.55" stroke-width="0.7"/><text x="1252.6" y="998.0" text-anchor="middle" font-size="18.5">0</text><path d="M1338.7 979.4 v2.6" stroke="#000" stroke-opacity="0.55" stroke-width="0.7"/><text x="1339.0" y="998.0" text-anchor="middle" font-size="18.5">20</text><path d="M1425.0 979.4 v2.6" stroke="#000" stroke-opacity="0.55" stroke-width="0.7"/><text x="1425.3" y="998.0" text-anchor="middle" font-size="18.5">40</text><path d="M1511.4 979.4 v2.6" stroke="#000" stroke-opacity="0.55" stroke-width="0.7"/><text x="1511.7" y="998.0" text-anchor="middle" font-size="18.5">60</text><path d="M1597.7 979.4 v2.6" stroke="#000" stroke-opacity="0.55" stroke-width="0.7"/><text x="1598.0" y="998.0" text-anchor="middle" font-size="18.5">80</text><path d="M1684.1 979.4 v2.6" stroke="#000" stroke-opacity="0.55" stroke-width="0.7"/><text x="1684.4" y="998.0" text-anchor="middle" font-size="18.5">100</text><path d="M1230.5 684.3 h-2.6" stroke="#000" stroke-opacity="0.55" stroke-width="0.7"/><text x="1226.6" y="691.5" text-anchor="end" font-size="18.5">0.5</text><path d="M1230.5 735.3 h-2.6" stroke="#000" stroke-opacity="0.55" stroke-width="0.7"/><text x="1226.6" y="742.5" text-anchor="end" font-size="18.5">0.0</text><path d="M1230.5 786.2 h-2.6" stroke="#000" stroke-opacity="0.55" stroke-width="0.7"/><text x="1226.6" y="793.4" text-anchor="end" font-size="18.5">−0.5</text><path d="M1230.5 837.2 h-2.6" stroke="#000" stroke-opacity="0.55" stroke-width="0.7"/><text x="1226.6" y="844.4" text-anchor="end" font-size="18.5">−1.0</text><path d="M1230.5 888.1 h-2.6" stroke="#000" stroke-opacity="0.55" stroke-width="0.7"/><text x="1226.6" y="895.3" text-anchor="end" font-size="18.5">−1.5</text><path d="M1230.5 939.0 h-2.6" stroke="#000" stroke-opacity="0.55" stroke-width="0.7"/><text x="1226.6" y="946.2" text-anchor="end" font-size="18.5">−2.0</text>
<text x="1472.5" y="1018.4" text-anchor="middle" font-size="18.5">iterations</text>
<text transform="translate(1177.2 821.5) rotate(-90)" text-anchor="middle" font-size="18.5">Energy</text>
<rect x="1512.0" y="668.1" width="192.7" height="114.8" rx="3.6" fill="#fff" fill-opacity="0.8" stroke="#d4d4d4" stroke-opacity="0.8" stroke-width="0.9"/>
<path d="M1519.5 683.4 H1557.1" stroke="#ff0000" stroke-width="3.5" stroke-dasharray="12.8 5.6" fill="none"/>
<circle cx="1538.3" cy="683.4" r="2.5" fill="#ff0000"/>
<text x="1571.1" y="690.4" font-size="18.5">Random path</text>
<path d="M1519.5 710.7 H1557.1" stroke="#000000" stroke-width="3.5" stroke-dasharray="12.8 5.6" fill="none"/>
<circle cx="1538.3" cy="710.7" r="2.5" fill="#000000"/>
<text x="1571.1" y="717.7" font-size="18.5">Shortest path</text>
<path d="M1519.5 737.9 H1557.1" stroke="#008000" stroke-width="3.5" stroke-dasharray="12.8 5.6" fill="none"/>
<circle cx="1538.3" cy="737.9" r="2.5" fill="#008000"/>
<text x="1571.1" y="744.9" font-size="18.5">SGD</text>
<path d="M1519.5 765.2 H1557.1" stroke="#0000ff" stroke-width="3.5" stroke-dasharray="22.2 5.6 3.5 5.6" fill="none"/>
<text x="1571.1" y="772.2" font-size="18.5">Exact energy</text>
</svg></body></html>
